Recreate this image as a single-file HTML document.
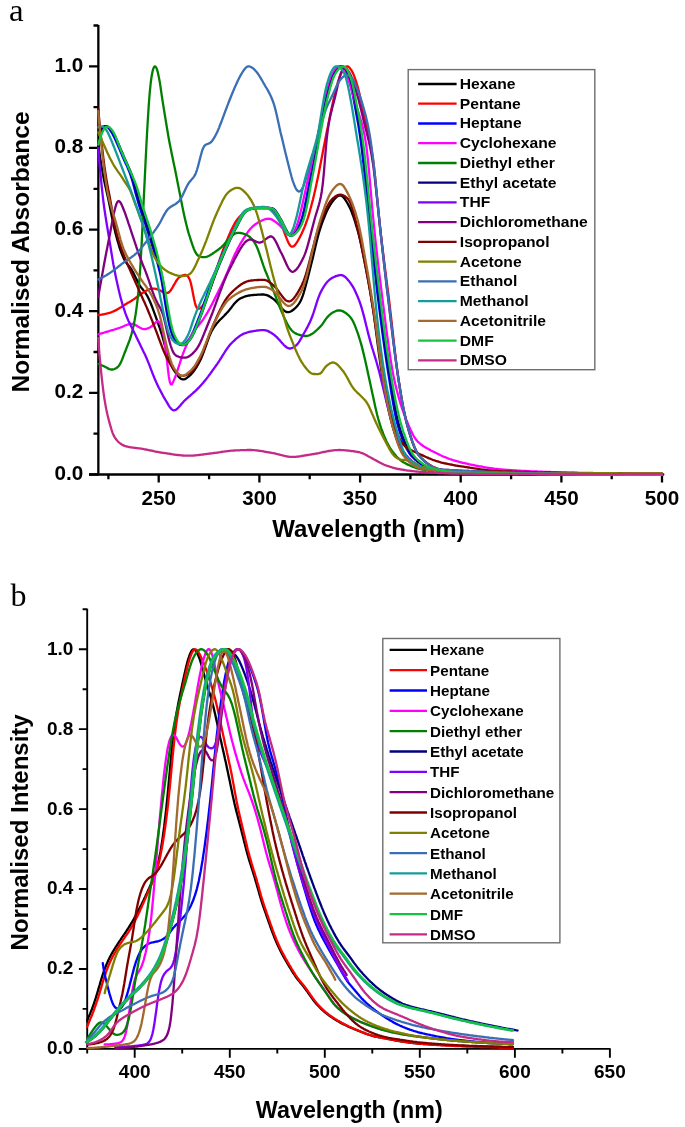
<!DOCTYPE html>
<html><head><meta charset="utf-8"><title>Absorbance and emission spectra</title>
<style>
html,body{margin:0;padding:0;background:#fff;}
svg{display:block}
text{font-family:"Liberation Sans",Arial,sans-serif;font-weight:bold;fill:#000}
.lab{font-family:"Liberation Serif","Times New Roman",serif;font-weight:normal}
.tla{font-size:19.5px}
.tlb{font-size:19px}
.ti{font-size:24px}
.lt{font-size:14px}
.lt2{font-size:15.2px}
.ax{fill:none;stroke:#000}
.axa{stroke-width:2.3}
.axb{stroke-width:1.9}
.cv path{fill:none;stroke-width:2.3;stroke-linejoin:round;stroke-linecap:round}
.lg{fill:#fff;stroke:#6e6e6e;stroke-width:1.4}
.ll{fill:none;stroke-width:2.3}
</style></head><body>
<svg width="685" height="1127" viewBox="0 0 685 1127">
<rect width="685" height="1127" fill="#fff"/>
<g id="pa">
<text class="lab" transform="translate(9.0,21.2) scale(1.08,1)" font-size="30.5">a</text>
<path class="ax axa" d="M98.35,25.0 V475.5 M89,474.5 H663"/>
<path class="ax axa" d="M89,474.5 H98.35 M89,392.9 H98.35 M89,311.2 H98.35 M89,229.6 H98.35 M89,147.9 H98.35 M89,66.3 H98.35 M93.5,433.7 H98.35 M93.5,352.0 H98.35 M93.5,270.4 H98.35 M93.5,188.8 H98.35 M93.5,107.1 H98.35 M93.5,25.5 H98.35 M158.7,474.5 V482.6 M259.4,474.5 V482.6 M360.1,474.5 V482.6 M460.7,474.5 V482.6 M561.4,474.5 V482.6 M662.0,474.5 V482.6 M108.4,474.5 V479.3 M209.1,474.5 V479.3 M309.7,474.5 V479.3 M410.4,474.5 V479.3 M511.1,474.5 V479.3 M611.7,474.5 V479.3"/>
<text class="tla" transform="translate(83.3,479.9) scale(1.06,1)" text-anchor="end">0.0</text>
<text class="tla" transform="translate(83.3,398.3) scale(1.06,1)" text-anchor="end">0.2</text>
<text class="tla" transform="translate(83.3,316.6) scale(1.06,1)" text-anchor="end">0.4</text>
<text class="tla" transform="translate(83.3,235.0) scale(1.06,1)" text-anchor="end">0.6</text>
<text class="tla" transform="translate(83.3,153.3) scale(1.06,1)" text-anchor="end">0.8</text>
<text class="tla" transform="translate(83.3,71.7) scale(1.06,1)" text-anchor="end">1.0</text>
<text class="tla" transform="translate(158.7,504.6) scale(1.06,1)" text-anchor="middle">250</text>
<text class="tla" transform="translate(259.4,504.6) scale(1.06,1)" text-anchor="middle">300</text>
<text class="tla" transform="translate(360.1,504.6) scale(1.06,1)" text-anchor="middle">350</text>
<text class="tla" transform="translate(460.7,504.6) scale(1.06,1)" text-anchor="middle">400</text>
<text class="tla" transform="translate(561.4,504.6) scale(1.06,1)" text-anchor="middle">450</text>
<text class="tla" transform="translate(662.0,504.6) scale(1.06,1)" text-anchor="middle">500</text>
<text class="ti" x="272.2" y="536.8">Wavelength (nm)</text>
<text class="ti" transform="translate(28.8,392.5) rotate(-90) scale(1.022,1)">Normalised Absorbance</text>
<g class="cv"><path d="M98.3,143.9 L99.4,152.6 L100.4,159.3 L101.4,165.5 L102.4,171.5 L103.4,176.8 L104.4,181.7 L105.4,186.2 L106.4,190.5 L107.4,194.9 L108.4,199.4 L109.4,204.3 L110.4,209.4 L111.4,214.5 L112.4,219.6 L113.4,224.5 L114.5,229.0 L115.5,233.2 L116.5,237.0 L117.5,240.6 L118.5,244.0 L119.5,247.3 L120.5,250.3 L121.5,253.1 L122.5,255.6 L123.5,257.9 L124.5,259.9 L125.5,261.6 L126.5,263.0 L127.5,264.3 L128.5,265.5 L129.6,266.8 L130.6,268.2 L131.6,269.7 L132.6,271.5 L133.6,273.4 L134.6,275.4 L135.6,277.5 L136.6,279.6 L137.6,281.6 L138.6,283.4 L139.6,285.1 L140.6,286.6 L141.6,288.0 L142.6,289.3 L143.6,290.6 L144.7,291.9 L145.7,293.4 L146.7,295.0 L147.7,296.7 L148.7,298.7 L149.7,300.9 L150.7,303.3 L151.7,305.8 L152.7,308.4 L153.7,311.1 L154.7,313.8 L155.7,316.6 L156.7,319.4 L157.7,322.3 L158.7,325.2 L159.8,328.2 L160.8,331.3 L161.8,334.5 L162.8,337.9 L163.8,341.4 L164.8,345.1 L165.8,348.8 L166.8,352.4 L167.8,355.7 L168.8,358.7 L169.8,361.4 L170.8,363.9 L171.8,366.2 L172.8,368.3 L173.8,370.1 L174.9,371.7 L175.9,373.2 L176.9,374.6 L177.9,375.9 L178.9,377.0 L179.9,378.0 L180.9,378.7 L181.9,379.2 L182.9,379.4 L183.9,379.4 L184.9,379.1 L185.9,378.6 L186.9,377.9 L187.9,377.1 L188.9,376.3 L190.0,375.4 L191.0,374.4 L192.0,373.3 L193.0,372.2 L194.0,370.9 L195.0,369.4 L196.0,367.9 L197.0,366.3 L198.0,364.5 L199.0,362.7 L200.0,360.8 L201.0,358.7 L202.0,356.4 L203.0,353.8 L204.0,351.1 L205.0,348.3 L206.1,345.3 L207.1,342.4 L208.1,339.6 L209.1,336.9 L210.1,334.5 L211.1,332.3 L212.1,330.3 L213.1,328.6 L214.1,327.1 L215.1,325.7 L216.1,324.4 L217.1,323.1 L218.1,322.0 L219.1,320.8 L220.1,319.8 L221.2,318.7 L222.2,317.7 L223.2,316.7 L224.2,315.7 L225.2,314.6 L226.2,313.6 L227.2,312.5 L228.2,311.4 L229.2,310.2 L230.2,308.9 L231.2,307.7 L232.2,306.4 L233.2,305.1 L234.2,303.8 L235.2,302.7 L236.3,301.6 L237.3,300.6 L238.3,299.8 L239.3,299.1 L240.3,298.5 L241.3,298.0 L242.3,297.6 L243.3,297.2 L244.3,296.8 L245.3,296.4 L246.3,296.1 L247.3,295.9 L248.3,295.7 L249.3,295.5 L250.3,295.3 L251.4,295.2 L252.4,295.1 L253.4,295.0 L254.4,294.9 L255.4,294.9 L256.4,294.8 L257.4,294.7 L258.4,294.7 L259.4,294.6 L260.4,294.6 L261.4,294.5 L262.4,294.5 L263.4,294.5 L264.4,294.6 L265.4,294.8 L266.5,295.0 L267.5,295.4 L268.5,295.9 L269.5,296.4 L270.5,297.0 L271.5,297.7 L272.5,298.4 L273.5,299.1 L274.5,299.9 L275.5,300.8 L276.5,301.9 L277.5,303.0 L278.5,304.3 L279.5,305.5 L280.5,306.8 L281.6,308.0 L282.6,309.1 L283.6,310.1 L284.6,310.9 L285.6,311.6 L286.6,312.0 L287.6,312.2 L288.6,312.1 L289.6,311.9 L290.6,311.5 L291.6,311.0 L292.6,310.3 L293.6,309.5 L294.6,308.7 L295.6,307.7 L296.7,306.6 L297.7,305.4 L298.7,304.1 L299.7,302.6 L300.7,300.8 L301.7,298.5 L302.7,295.9 L303.7,292.8 L304.7,289.4 L305.7,285.7 L306.7,281.9 L307.7,278.1 L308.7,274.2 L309.7,270.3 L310.7,266.3 L311.7,262.2 L312.8,258.0 L313.8,253.6 L314.8,249.2 L315.8,244.9 L316.8,240.8 L317.8,236.9 L318.8,233.2 L319.8,229.9 L320.8,226.8 L321.8,223.9 L322.8,221.2 L323.8,218.5 L324.8,216.0 L325.8,213.5 L326.8,211.3 L327.9,209.1 L328.9,207.2 L329.9,205.4 L330.9,203.8 L331.9,202.4 L332.9,201.0 L333.9,199.8 L334.9,198.6 L335.9,197.6 L336.9,196.7 L337.9,196.0 L338.9,195.5 L339.9,195.3 L340.9,195.5 L341.9,196.0 L343.0,196.8 L344.0,198.0 L345.0,199.3 L346.0,200.8 L347.0,202.5 L348.0,204.2 L349.0,206.1 L350.0,208.1 L351.0,210.3 L352.0,212.8 L353.0,215.5 L354.0,218.4 L355.0,221.5 L356.0,224.8 L357.0,228.2 L358.1,231.9 L359.1,235.8 L360.1,240.1 L361.1,244.6 L362.1,249.3 L363.1,254.2 L364.1,259.2 L365.1,264.3 L366.1,269.4 L367.1,274.6 L368.1,279.9 L369.1,285.3 L370.1,291.0 L371.1,297.0 L372.1,303.3 L373.2,310.1 L374.2,317.3 L375.2,324.8 L376.2,332.5 L377.2,340.3 L378.2,348.0 L379.2,355.6 L380.2,362.8 L381.2,369.6 L382.2,376.0 L383.2,382.1 L384.2,387.8 L385.2,393.4 L386.2,398.7 L387.2,403.8 L388.3,408.7 L389.3,413.3 L390.3,417.5 L391.3,421.5 L392.3,425.2 L393.3,428.7 L394.3,432.0 L395.3,435.2 L396.3,438.2 L397.3,441.1 L398.3,443.9 L399.3,446.4 L400.3,448.8 L401.3,450.9 L402.3,452.8 L403.3,454.5 L404.4,455.9 L405.4,457.2 L406.4,458.4 L407.4,459.5 L408.4,460.5 L409.4,461.5 L410.4,462.4 L411.4,463.3 L412.4,464.1 L413.4,464.9 L414.4,465.6 L415.4,466.2 L416.4,466.8 L417.4,467.2 L418.4,467.7 L419.5,468.0 L420.5,468.3 L421.5,468.6 L422.5,468.8 L423.5,469.0 L424.5,469.3 L425.5,469.5 L426.5,469.7 L427.5,469.9 L428.5,470.1 L429.5,470.3 L430.5,470.4 L431.5,470.6 L432.5,470.8 L433.5,470.9 L434.6,471.1 L435.6,471.2 L436.6,471.4 L437.6,471.5 L438.6,471.7 L439.6,471.8 L440.6,471.9 L441.6,472.0 L442.6,472.2 L443.6,472.3 L444.6,472.4 L445.6,472.5 L446.6,472.6 L447.6,472.6 L448.6,472.7 L449.7,472.8 L450.7,472.9 L451.7,472.9 L452.7,473.0 L453.7,473.0 L454.7,473.1 L455.7,473.1 L456.7,473.2 L457.7,473.2 L458.7,473.2 L459.7,473.3 L460.7,473.3 L461.7,473.3 L462.7,473.3 L463.7,473.3 L464.8,473.3 L465.8,473.3 L466.8,473.4 L467.8,473.4 L468.8,473.4 L469.8,473.4 L470.8,473.4 L471.8,473.4 L472.8,473.4 L473.8,473.5 L474.8,473.5 L475.8,473.5 L476.8,473.5 L477.8,473.5 L478.8,473.5 L479.9,473.5 L480.9,473.5 L481.9,473.6 L482.9,473.6 L483.9,473.6 L484.9,473.6 L485.9,473.6 L486.9,473.6 L487.9,473.6 L488.9,473.6 L489.9,473.7 L490.9,473.7 L491.9,473.7 L492.9,473.7 L493.9,473.7 L495.0,473.7 L496.0,473.7 L497.0,473.7 L498.0,473.7 L499.0,473.8 L500.0,473.8 L501.0,473.8 L502.0,473.8 L503.0,473.8 L504.0,473.8 L505.0,473.8 L506.0,473.8 L507.0,473.8 L508.0,473.8 L509.0,473.9 L510.0,473.9 L511.1,473.9 L512.1,473.9 L513.1,473.9 L514.1,473.9 L515.1,473.9 L516.1,473.9 L517.1,473.9 L518.1,473.9 L519.1,474.0 L520.1,474.0 L521.1,474.0 L522.1,474.0 L523.1,474.0 L524.1,474.0 L525.1,474.0 L526.2,474.0 L527.2,474.0 L528.2,474.0 L529.2,474.0 L530.2,474.0 L531.2,474.1 L532.2,474.1 L533.2,474.1 L534.2,474.1 L535.2,474.1 L536.2,474.1 L537.2,474.1 L538.2,474.1 L539.2,474.1 L540.2,474.1 L541.3,474.1 L542.3,474.1 L543.3,474.1 L544.3,474.1 L545.3,474.2 L546.3,474.2 L547.3,474.2 L548.3,474.2 L549.3,474.2 L550.3,474.2 L551.3,474.2 L552.3,474.2 L553.3,474.2 L554.3,474.2 L555.3,474.2 L556.4,474.2 L557.4,474.2 L558.4,474.2 L559.4,474.2 L560.4,474.2 L561.4,474.3 L562.4,474.3 L563.4,474.3 L564.4,474.3 L565.4,474.3 L566.4,474.3 L567.4,474.3 L568.4,474.3 L569.4,474.3 L570.4,474.3 L571.5,474.3 L572.5,474.3 L573.5,474.3 L574.5,474.3 L575.5,474.3 L576.5,474.3 L577.5,474.3 L578.5,474.3 L579.5,474.3 L580.5,474.3 L581.5,474.3 L582.5,474.4 L583.5,474.4 L584.5,474.4 L585.5,474.4 L586.6,474.4 L587.6,474.4 L588.6,474.4 L589.6,474.4 L590.6,474.4 L591.6,474.4 L592.6,474.4 L593.6,474.4 L594.6,474.4 L595.6,474.4 L596.6,474.4 L597.6,474.4 L598.6,474.4 L599.6,474.4 L600.6,474.4 L601.6,474.4 L602.7,474.4 L603.7,474.4 L604.7,474.4 L605.7,474.4 L606.7,474.4 L607.7,474.4 L608.7,474.4 L609.7,474.4 L610.7,474.4 L611.7,474.4 L612.7,474.4 L613.7,474.4 L614.7,474.5 L615.7,474.5 L616.7,474.5 L617.8,474.5 L618.8,474.5 L619.8,474.5 L620.8,474.5 L621.8,474.5 L622.8,474.5 L623.8,474.5 L624.8,474.5 L625.8,474.5 L626.8,474.5 L627.8,474.5 L628.8,474.5 L629.8,474.5 L630.8,474.5 L631.8,474.5 L632.9,474.5 L633.9,474.5 L634.9,474.5 L635.9,474.5 L636.9,474.5 L637.9,474.5 L638.9,474.5 L639.9,474.5 L640.9,474.5 L641.9,474.5 L642.9,474.5 L643.9,474.5 L644.9,474.5 L645.9,474.5 L646.9,474.5 L648.0,474.5 L649.0,474.5 L650.0,474.5 L651.0,474.5 L652.0,474.5 L653.0,474.5 L654.0,474.5 L655.0,474.5 L656.0,474.5 L657.0,474.5 L658.0,474.5 L659.0,474.5 L660.0,474.5 L661.0,474.5 L662.0,474.5" stroke="#000000"/>
<path d="M98.3,315.0 L99.4,314.9 L100.4,314.8 L101.4,314.7 L102.4,314.5 L103.4,314.3 L104.4,314.1 L105.4,313.9 L106.4,313.7 L107.4,313.4 L108.4,313.2 L109.4,312.9 L110.4,312.6 L111.4,312.2 L112.4,311.8 L113.4,311.4 L114.5,310.9 L115.5,310.4 L116.5,309.9 L117.5,309.3 L118.5,308.7 L119.5,308.1 L120.5,307.5 L121.5,306.9 L122.5,306.2 L123.5,305.6 L124.5,304.9 L125.5,304.3 L126.5,303.7 L127.5,303.1 L128.5,302.5 L129.6,301.9 L130.6,301.3 L131.6,300.7 L132.6,300.0 L133.6,299.4 L134.6,298.7 L135.6,298.0 L136.6,297.2 L137.6,296.5 L138.6,295.8 L139.6,295.0 L140.6,294.3 L141.6,293.6 L142.6,292.9 L143.6,292.3 L144.7,291.6 L145.7,291.0 L146.7,290.5 L147.7,290.0 L148.7,289.6 L149.7,289.2 L150.7,288.9 L151.7,288.7 L152.7,288.6 L153.7,288.6 L154.7,288.7 L155.7,288.9 L156.7,289.2 L157.7,289.5 L158.7,290.0 L159.8,290.4 L160.8,290.9 L161.8,291.4 L162.8,291.9 L163.8,292.4 L164.8,292.7 L165.8,292.9 L166.8,293.0 L167.8,292.9 L168.8,292.4 L169.8,291.5 L170.8,290.3 L171.8,288.7 L172.8,287.0 L173.8,285.1 L174.9,283.3 L175.9,281.5 L176.9,280.0 L177.9,278.7 L178.9,277.6 L179.9,276.9 L180.9,276.3 L181.9,275.8 L182.9,275.4 L183.9,275.1 L184.9,274.9 L185.9,275.0 L186.9,275.4 L187.9,276.3 L188.9,277.9 L190.0,280.3 L191.0,283.8 L192.0,288.4 L193.0,293.5 L194.0,298.7 L195.0,303.1 L196.0,306.3 L197.0,308.1 L198.0,308.8 L199.0,308.7 L200.0,308.2 L201.0,307.5 L202.0,306.5 L203.0,305.2 L204.0,303.6 L205.0,301.6 L206.1,299.4 L207.1,297.0 L208.1,294.4 L209.1,291.7 L210.1,289.0 L211.1,286.3 L212.1,283.5 L213.1,280.6 L214.1,277.6 L215.1,274.4 L216.1,271.2 L217.1,267.9 L218.1,264.6 L219.1,261.4 L220.1,258.3 L221.2,255.3 L222.2,252.4 L223.2,249.7 L224.2,247.2 L225.2,244.6 L226.2,242.1 L227.2,239.7 L228.2,237.3 L229.2,234.9 L230.2,232.6 L231.2,230.3 L232.2,228.2 L233.2,226.2 L234.2,224.3 L235.2,222.5 L236.3,220.9 L237.3,219.5 L238.3,218.2 L239.3,217.0 L240.3,216.0 L241.3,215.0 L242.3,214.1 L243.3,213.2 L244.3,212.3 L245.3,211.5 L246.3,210.8 L247.3,210.1 L248.3,209.5 L249.3,209.0 L250.3,208.6 L251.4,208.3 L252.4,208.1 L253.4,208.0 L254.4,207.9 L255.4,207.9 L256.4,207.9 L257.4,207.9 L258.4,207.9 L259.4,207.9 L260.4,207.9 L261.4,207.9 L262.4,207.9 L263.4,207.9 L264.4,207.9 L265.4,207.9 L266.5,207.9 L267.5,207.9 L268.5,208.0 L269.5,208.2 L270.5,208.5 L271.5,209.2 L272.5,210.1 L273.5,211.2 L274.5,212.6 L275.5,214.2 L276.5,215.9 L277.5,217.6 L278.5,219.3 L279.5,221.2 L280.5,223.2 L281.6,225.4 L282.6,227.8 L283.6,230.4 L284.6,233.1 L285.6,235.8 L286.6,238.4 L287.6,240.8 L288.6,243.0 L289.6,244.7 L290.6,245.9 L291.6,246.6 L292.6,246.7 L293.6,246.3 L294.6,245.4 L295.6,244.2 L296.7,242.6 L297.7,241.0 L298.7,239.2 L299.7,237.4 L300.7,235.5 L301.7,233.5 L302.7,231.3 L303.7,229.0 L304.7,226.6 L305.7,224.0 L306.7,221.2 L307.7,218.3 L308.7,215.1 L309.7,211.7 L310.7,208.0 L311.7,204.2 L312.8,200.1 L313.8,196.0 L314.8,191.7 L315.8,187.2 L316.8,182.6 L317.8,177.8 L318.8,172.9 L319.8,167.8 L320.8,162.6 L321.8,157.4 L322.8,152.2 L323.8,147.0 L324.8,141.9 L325.8,136.7 L326.8,131.6 L327.9,126.5 L328.9,121.5 L329.9,116.5 L330.9,111.7 L331.9,107.0 L332.9,102.5 L333.9,98.1 L334.9,93.8 L335.9,89.6 L336.9,85.7 L337.9,82.1 L338.9,79.0 L339.9,76.3 L340.9,73.9 L341.9,71.9 L343.0,70.1 L344.0,68.5 L345.0,67.3 L346.0,66.6 L347.0,66.3 L348.0,66.5 L349.0,67.2 L350.0,68.3 L351.0,69.7 L352.0,71.4 L353.0,73.3 L354.0,75.6 L355.0,78.3 L356.0,81.3 L357.0,84.6 L358.1,88.3 L359.1,92.3 L360.1,96.7 L361.1,101.5 L362.1,106.3 L363.1,111.2 L364.1,115.7 L365.1,120.0 L366.1,124.0 L367.1,128.0 L368.1,132.1 L369.1,136.6 L370.1,141.5 L371.1,147.1 L372.1,153.4 L373.2,160.7 L374.2,169.0 L375.2,178.3 L376.2,188.3 L377.2,198.6 L378.2,208.9 L379.2,218.9 L380.2,228.3 L381.2,237.3 L382.2,245.8 L383.2,253.9 L384.2,261.9 L385.2,269.8 L386.2,277.7 L387.2,285.6 L388.3,293.7 L389.3,302.0 L390.3,310.6 L391.3,319.4 L392.3,328.3 L393.3,337.3 L394.3,346.2 L395.3,354.8 L396.3,362.9 L397.3,370.6 L398.3,377.8 L399.3,384.5 L400.3,390.9 L401.3,396.9 L402.3,402.7 L403.3,408.1 L404.4,413.1 L405.4,417.7 L406.4,421.9 L407.4,425.8 L408.4,429.3 L409.4,432.7 L410.4,435.9 L411.4,438.9 L412.4,441.8 L413.4,444.5 L414.4,447.0 L415.4,449.3 L416.4,451.3 L417.4,453.1 L418.4,454.7 L419.5,456.0 L420.5,457.2 L421.5,458.3 L422.5,459.2 L423.5,460.1 L424.5,461.0 L425.5,461.8 L426.5,462.6 L427.5,463.4 L428.5,464.0 L429.5,464.7 L430.5,465.3 L431.5,465.9 L432.5,466.5 L433.5,467.0 L434.6,467.4 L435.6,467.9 L436.6,468.3 L437.6,468.6 L438.6,469.0 L439.6,469.3 L440.6,469.6 L441.6,469.8 L442.6,470.1 L443.6,470.3 L444.6,470.6 L445.6,470.8 L446.6,471.0 L447.6,471.2 L448.6,471.4 L449.7,471.6 L450.7,471.8 L451.7,472.0 L452.7,472.1 L453.7,472.3 L454.7,472.4 L455.7,472.5 L456.7,472.6 L457.7,472.7 L458.7,472.8 L459.7,472.8 L460.7,472.9 L461.7,472.9 L462.7,472.9 L463.7,472.9 L464.8,472.9 L465.8,473.0 L466.8,473.0 L467.8,473.0 L468.8,473.0 L469.8,473.0 L470.8,473.1 L471.8,473.1 L472.8,473.1 L473.8,473.1 L474.8,473.1 L475.8,473.2 L476.8,473.2 L477.8,473.2 L478.8,473.2 L479.9,473.2 L480.9,473.2 L481.9,473.3 L482.9,473.3 L483.9,473.3 L484.9,473.3 L485.9,473.3 L486.9,473.3 L487.9,473.4 L488.9,473.4 L489.9,473.4 L490.9,473.4 L491.9,473.4 L492.9,473.4 L493.9,473.5 L495.0,473.5 L496.0,473.5 L497.0,473.5 L498.0,473.5 L499.0,473.5 L500.0,473.5 L501.0,473.6 L502.0,473.6 L503.0,473.6 L504.0,473.6 L505.0,473.6 L506.0,473.6 L507.0,473.6 L508.0,473.7 L509.0,473.7 L510.0,473.7 L511.1,473.7 L512.1,473.7 L513.1,473.7 L514.1,473.7 L515.1,473.8 L516.1,473.8 L517.1,473.8 L518.1,473.8 L519.1,473.8 L520.1,473.8 L521.1,473.8 L522.1,473.8 L523.1,473.8 L524.1,473.9 L525.1,473.9 L526.2,473.9 L527.2,473.9 L528.2,473.9 L529.2,473.9 L530.2,473.9 L531.2,473.9 L532.2,473.9 L533.2,474.0 L534.2,474.0 L535.2,474.0 L536.2,474.0 L537.2,474.0 L538.2,474.0 L539.2,474.0 L540.2,474.0 L541.3,474.0 L542.3,474.0 L543.3,474.1 L544.3,474.1 L545.3,474.1 L546.3,474.1 L547.3,474.1 L548.3,474.1 L549.3,474.1 L550.3,474.1 L551.3,474.1 L552.3,474.1 L553.3,474.1 L554.3,474.1 L555.3,474.2 L556.4,474.2 L557.4,474.2 L558.4,474.2 L559.4,474.2 L560.4,474.2 L561.4,474.2 L562.4,474.2 L563.4,474.2 L564.4,474.2 L565.4,474.2 L566.4,474.2 L567.4,474.2 L568.4,474.2 L569.4,474.3 L570.4,474.3 L571.5,474.3 L572.5,474.3 L573.5,474.3 L574.5,474.3 L575.5,474.3 L576.5,474.3 L577.5,474.3 L578.5,474.3 L579.5,474.3 L580.5,474.3 L581.5,474.3 L582.5,474.3 L583.5,474.3 L584.5,474.3 L585.5,474.3 L586.6,474.3 L587.6,474.4 L588.6,474.4 L589.6,474.4 L590.6,474.4 L591.6,474.4 L592.6,474.4 L593.6,474.4 L594.6,474.4 L595.6,474.4 L596.6,474.4 L597.6,474.4 L598.6,474.4 L599.6,474.4 L600.6,474.4 L601.6,474.4 L602.7,474.4 L603.7,474.4 L604.7,474.4 L605.7,474.4 L606.7,474.4 L607.7,474.4 L608.7,474.4 L609.7,474.4 L610.7,474.4 L611.7,474.4 L612.7,474.4 L613.7,474.4 L614.7,474.4 L615.7,474.4 L616.7,474.5 L617.8,474.5 L618.8,474.5 L619.8,474.5 L620.8,474.5 L621.8,474.5 L622.8,474.5 L623.8,474.5 L624.8,474.5 L625.8,474.5 L626.8,474.5 L627.8,474.5 L628.8,474.5 L629.8,474.5 L630.8,474.5 L631.8,474.5 L632.9,474.5 L633.9,474.5 L634.9,474.5 L635.9,474.5 L636.9,474.5 L637.9,474.5 L638.9,474.5 L639.9,474.5 L640.9,474.5 L641.9,474.5 L642.9,474.5 L643.9,474.5 L644.9,474.5 L645.9,474.5 L646.9,474.5 L648.0,474.5 L649.0,474.5 L650.0,474.5 L651.0,474.5 L652.0,474.5 L653.0,474.5 L654.0,474.5 L655.0,474.5 L656.0,474.5 L657.0,474.5 L658.0,474.5 L659.0,474.5 L660.0,474.5 L661.0,474.5 L662.0,474.5" stroke="#ff0000"/>
<path d="M98.3,134.9 L99.4,132.2 L100.4,130.5 L101.4,128.9 L102.4,127.6 L103.4,126.6 L104.4,126.1 L105.4,126.1 L106.4,126.4 L107.4,127.1 L108.4,128.0 L109.4,129.1 L110.4,130.5 L111.4,132.0 L112.4,133.7 L113.4,135.6 L114.5,137.7 L115.5,139.9 L116.5,142.2 L117.5,144.5 L118.5,146.8 L119.5,149.1 L120.5,151.5 L121.5,153.8 L122.5,156.2 L123.5,158.5 L124.5,160.7 L125.5,162.9 L126.5,165.1 L127.5,167.4 L128.5,169.7 L129.6,172.3 L130.6,175.2 L131.6,178.3 L132.6,181.8 L133.6,185.5 L134.6,189.3 L135.6,193.1 L136.6,196.8 L137.6,200.3 L138.6,203.7 L139.6,206.9 L140.6,210.1 L141.6,213.2 L142.6,216.2 L143.6,219.2 L144.7,222.2 L145.7,225.2 L146.7,228.2 L147.7,231.3 L148.7,234.4 L149.7,237.6 L150.7,240.8 L151.7,244.0 L152.7,247.1 L153.7,250.3 L154.7,253.5 L155.7,256.8 L156.7,260.2 L157.7,263.8 L158.7,267.7 L159.8,271.9 L160.8,276.5 L161.8,281.8 L162.8,287.7 L163.8,294.1 L164.8,300.5 L165.8,306.7 L166.8,312.5 L167.8,317.9 L168.8,322.8 L169.8,327.0 L170.8,330.6 L171.8,333.7 L172.8,336.2 L173.8,338.2 L174.9,340.0 L175.9,341.3 L176.9,342.4 L177.9,343.3 L178.9,344.1 L179.9,344.6 L180.9,344.9 L181.9,345.0 L182.9,344.8 L183.9,344.3 L184.9,343.6 L185.9,342.8 L186.9,341.8 L187.9,340.7 L188.9,339.4 L190.0,337.9 L191.0,336.3 L192.0,334.3 L193.0,332.2 L194.0,329.9 L195.0,327.5 L196.0,325.0 L197.0,322.5 L198.0,320.0 L199.0,317.4 L200.0,314.8 L201.0,312.1 L202.0,309.3 L203.0,306.4 L204.0,303.5 L205.0,300.6 L206.1,297.6 L207.1,294.6 L208.1,291.7 L209.1,288.7 L210.1,285.8 L211.1,282.9 L212.1,280.2 L213.1,277.5 L214.1,274.8 L215.1,272.3 L216.1,269.7 L217.1,267.3 L218.1,264.8 L219.1,262.3 L220.1,259.9 L221.2,257.5 L222.2,255.1 L223.2,252.8 L224.2,250.4 L225.2,248.1 L226.2,245.9 L227.2,243.6 L228.2,241.5 L229.2,239.3 L230.2,237.2 L231.2,235.1 L232.2,233.1 L233.2,231.1 L234.2,229.1 L235.2,227.2 L236.3,225.3 L237.3,223.3 L238.3,221.3 L239.3,219.4 L240.3,217.5 L241.3,215.8 L242.3,214.3 L243.3,213.0 L244.3,212.0 L245.3,211.1 L246.3,210.5 L247.3,210.0 L248.3,209.6 L249.3,209.2 L250.3,208.9 L251.4,208.6 L252.4,208.4 L253.4,208.3 L254.4,208.1 L255.4,208.1 L256.4,208.0 L257.4,208.0 L258.4,208.0 L259.4,208.0 L260.4,208.0 L261.4,208.0 L262.4,208.0 L263.4,208.0 L264.4,208.0 L265.4,208.0 L266.5,208.0 L267.5,208.0 L268.5,208.0 L269.5,208.1 L270.5,208.2 L271.5,208.4 L272.5,209.0 L273.5,209.8 L274.5,211.0 L275.5,212.4 L276.5,214.0 L277.5,215.7 L278.5,217.4 L279.5,219.1 L280.5,220.9 L281.6,222.9 L282.6,224.9 L283.6,226.9 L284.6,229.0 L285.6,230.9 L286.6,232.6 L287.6,234.0 L288.6,235.0 L289.6,235.5 L290.6,235.6 L291.6,235.2 L292.6,234.5 L293.6,233.6 L294.6,232.4 L295.6,231.2 L296.7,229.7 L297.7,228.1 L298.7,226.2 L299.7,224.0 L300.7,221.5 L301.7,218.6 L302.7,215.1 L303.7,211.1 L304.7,206.6 L305.7,201.6 L306.7,196.4 L307.7,191.0 L308.7,185.6 L309.7,180.3 L310.7,174.9 L311.7,169.5 L312.8,164.1 L313.8,158.6 L314.8,153.0 L315.8,147.5 L316.8,142.0 L317.8,136.6 L318.8,131.2 L319.8,125.9 L320.8,120.7 L321.8,115.5 L322.8,110.4 L323.8,105.6 L324.8,101.0 L325.8,96.8 L326.8,92.7 L327.9,88.9 L328.9,85.3 L329.9,82.0 L330.9,79.0 L331.9,76.5 L332.9,74.4 L333.9,72.7 L334.9,71.2 L335.9,69.9 L336.9,68.7 L337.9,67.8 L338.9,67.0 L339.9,66.5 L340.9,66.3 L341.9,66.5 L343.0,67.2 L344.0,68.2 L345.0,69.7 L346.0,71.5 L347.0,73.6 L348.0,76.0 L349.0,78.8 L350.0,82.2 L351.0,86.2 L352.0,90.8 L353.0,95.9 L354.0,101.2 L355.0,106.6 L356.0,112.1 L357.0,117.8 L358.1,123.6 L359.1,129.9 L360.1,136.6 L361.1,143.9 L362.1,151.9 L363.1,160.6 L364.1,169.9 L365.1,179.6 L366.1,189.6 L367.1,199.6 L368.1,209.6 L369.1,219.4 L370.1,229.0 L371.1,238.3 L372.1,247.5 L373.2,256.6 L374.2,265.6 L375.2,274.4 L376.2,283.1 L377.2,291.5 L378.2,299.7 L379.2,307.8 L380.2,315.7 L381.2,323.4 L382.2,331.0 L383.2,338.5 L384.2,345.8 L385.2,352.9 L386.2,359.9 L387.2,366.6 L388.3,373.2 L389.3,379.6 L390.3,385.9 L391.3,392.2 L392.3,398.2 L393.3,404.1 L394.3,409.6 L395.3,414.7 L396.3,419.3 L397.3,423.4 L398.3,427.0 L399.3,430.3 L400.3,433.3 L401.3,436.2 L402.3,438.9 L403.3,441.4 L404.4,443.8 L405.4,446.0 L406.4,448.1 L407.4,450.0 L408.4,451.7 L409.4,453.3 L410.4,454.7 L411.4,455.9 L412.4,457.0 L413.4,458.0 L414.4,459.0 L415.4,459.9 L416.4,460.7 L417.4,461.5 L418.4,462.3 L419.5,463.0 L420.5,463.7 L421.5,464.4 L422.5,465.0 L423.5,465.5 L424.5,466.0 L425.5,466.5 L426.5,467.0 L427.5,467.4 L428.5,467.7 L429.5,468.0 L430.5,468.3 L431.5,468.6 L432.5,468.9 L433.5,469.1 L434.6,469.3 L435.6,469.6 L436.6,469.8 L437.6,470.0 L438.6,470.2 L439.6,470.4 L440.6,470.6 L441.6,470.8 L442.6,471.0 L443.6,471.2 L444.6,471.3 L445.6,471.5 L446.6,471.6 L447.6,471.8 L448.6,471.9 L449.7,472.0 L450.7,472.2 L451.7,472.3 L452.7,472.4 L453.7,472.5 L454.7,472.6 L455.7,472.6 L456.7,472.7 L457.7,472.7 L458.7,472.8 L459.7,472.8 L460.7,472.9 L461.7,472.9 L462.7,472.9 L463.7,472.9 L464.8,472.9 L465.8,473.0 L466.8,473.0 L467.8,473.0 L468.8,473.0 L469.8,473.0 L470.8,473.1 L471.8,473.1 L472.8,473.1 L473.8,473.1 L474.8,473.1 L475.8,473.1 L476.8,473.2 L477.8,473.2 L478.8,473.2 L479.9,473.2 L480.9,473.2 L481.9,473.3 L482.9,473.3 L483.9,473.3 L484.9,473.3 L485.9,473.3 L486.9,473.3 L487.9,473.3 L488.9,473.4 L489.9,473.4 L490.9,473.4 L491.9,473.4 L492.9,473.4 L493.9,473.4 L495.0,473.5 L496.0,473.5 L497.0,473.5 L498.0,473.5 L499.0,473.5 L500.0,473.5 L501.0,473.5 L502.0,473.6 L503.0,473.6 L504.0,473.6 L505.0,473.6 L506.0,473.6 L507.0,473.6 L508.0,473.6 L509.0,473.7 L510.0,473.7 L511.1,473.7 L512.1,473.7 L513.1,473.7 L514.1,473.7 L515.1,473.7 L516.1,473.7 L517.1,473.8 L518.1,473.8 L519.1,473.8 L520.1,473.8 L521.1,473.8 L522.1,473.8 L523.1,473.8 L524.1,473.8 L525.1,473.8 L526.2,473.9 L527.2,473.9 L528.2,473.9 L529.2,473.9 L530.2,473.9 L531.2,473.9 L532.2,473.9 L533.2,473.9 L534.2,473.9 L535.2,474.0 L536.2,474.0 L537.2,474.0 L538.2,474.0 L539.2,474.0 L540.2,474.0 L541.3,474.0 L542.3,474.0 L543.3,474.0 L544.3,474.0 L545.3,474.1 L546.3,474.1 L547.3,474.1 L548.3,474.1 L549.3,474.1 L550.3,474.1 L551.3,474.1 L552.3,474.1 L553.3,474.1 L554.3,474.1 L555.3,474.1 L556.4,474.1 L557.4,474.1 L558.4,474.2 L559.4,474.2 L560.4,474.2 L561.4,474.2 L562.4,474.2 L563.4,474.2 L564.4,474.2 L565.4,474.2 L566.4,474.2 L567.4,474.2 L568.4,474.2 L569.4,474.2 L570.4,474.2 L571.5,474.2 L572.5,474.3 L573.5,474.3 L574.5,474.3 L575.5,474.3 L576.5,474.3 L577.5,474.3 L578.5,474.3 L579.5,474.3 L580.5,474.3 L581.5,474.3 L582.5,474.3 L583.5,474.3 L584.5,474.3 L585.5,474.3 L586.6,474.3 L587.6,474.3 L588.6,474.3 L589.6,474.3 L590.6,474.4 L591.6,474.4 L592.6,474.4 L593.6,474.4 L594.6,474.4 L595.6,474.4 L596.6,474.4 L597.6,474.4 L598.6,474.4 L599.6,474.4 L600.6,474.4 L601.6,474.4 L602.7,474.4 L603.7,474.4 L604.7,474.4 L605.7,474.4 L606.7,474.4 L607.7,474.4 L608.7,474.4 L609.7,474.4 L610.7,474.4 L611.7,474.4 L612.7,474.4 L613.7,474.4 L614.7,474.4 L615.7,474.4 L616.7,474.4 L617.8,474.4 L618.8,474.5 L619.8,474.5 L620.8,474.5 L621.8,474.5 L622.8,474.5 L623.8,474.5 L624.8,474.5 L625.8,474.5 L626.8,474.5 L627.8,474.5 L628.8,474.5 L629.8,474.5 L630.8,474.5 L631.8,474.5 L632.9,474.5 L633.9,474.5 L634.9,474.5 L635.9,474.5 L636.9,474.5 L637.9,474.5 L638.9,474.5 L639.9,474.5 L640.9,474.5 L641.9,474.5 L642.9,474.5 L643.9,474.5 L644.9,474.5 L645.9,474.5 L646.9,474.5 L648.0,474.5 L649.0,474.5 L650.0,474.5 L651.0,474.5 L652.0,474.5 L653.0,474.5 L654.0,474.5 L655.0,474.5 L656.0,474.5 L657.0,474.5 L658.0,474.5 L659.0,474.5 L660.0,474.5 L661.0,474.5 L662.0,474.5" stroke="#0000ff"/>
<path d="M98.3,334.3 L99.4,333.9 L100.4,333.7 L101.4,333.4 L102.4,333.1 L103.4,332.8 L104.4,332.5 L105.4,332.2 L106.4,331.9 L107.4,331.6 L108.4,331.3 L109.4,331.0 L110.4,330.7 L111.4,330.4 L112.4,330.1 L113.4,329.8 L114.5,329.5 L115.5,329.1 L116.5,328.8 L117.5,328.5 L118.5,328.2 L119.5,327.8 L120.5,327.5 L121.5,327.1 L122.5,326.7 L123.5,326.2 L124.5,325.8 L125.5,325.4 L126.5,325.0 L127.5,324.7 L128.5,324.4 L129.6,324.1 L130.6,323.9 L131.6,323.9 L132.6,323.9 L133.6,324.2 L134.6,324.6 L135.6,325.1 L136.6,325.7 L137.6,326.3 L138.6,326.9 L139.6,327.5 L140.6,328.0 L141.6,328.5 L142.6,328.9 L143.6,329.1 L144.7,329.1 L145.7,329.0 L146.7,328.8 L147.7,328.4 L148.7,328.0 L149.7,327.5 L150.7,326.9 L151.7,326.2 L152.7,325.4 L153.7,324.6 L154.7,323.6 L155.7,322.5 L156.7,321.6 L157.7,321.2 L158.7,321.5 L159.8,322.7 L160.8,324.8 L161.8,327.9 L162.8,331.8 L163.8,336.6 L164.8,342.5 L165.8,350.0 L166.8,358.9 L167.8,368.2 L168.8,376.4 L169.8,381.9 L170.8,384.3 L171.8,384.3 L172.8,382.7 L173.8,380.4 L174.9,377.8 L175.9,375.1 L176.9,372.2 L177.9,369.2 L178.9,366.1 L179.9,363.0 L180.9,359.9 L181.9,356.9 L182.9,354.0 L183.9,351.4 L184.9,348.9 L185.9,346.5 L186.9,344.2 L187.9,342.0 L188.9,340.0 L190.0,338.0 L191.0,336.1 L192.0,334.3 L193.0,332.6 L194.0,331.1 L195.0,329.7 L196.0,328.4 L197.0,327.1 L198.0,325.9 L199.0,324.8 L200.0,323.6 L201.0,322.3 L202.0,321.0 L203.0,319.6 L204.0,318.1 L205.0,316.5 L206.1,314.8 L207.1,313.2 L208.1,311.4 L209.1,309.6 L210.1,307.8 L211.1,305.9 L212.1,304.0 L213.1,302.0 L214.1,300.1 L215.1,298.1 L216.1,296.0 L217.1,294.0 L218.1,292.0 L219.1,289.9 L220.1,287.8 L221.2,285.7 L222.2,283.6 L223.2,281.5 L224.2,279.4 L225.2,277.2 L226.2,274.9 L227.2,272.6 L228.2,270.2 L229.2,267.8 L230.2,265.4 L231.2,263.0 L232.2,260.5 L233.2,258.2 L234.2,255.8 L235.2,253.6 L236.3,251.5 L237.3,249.4 L238.3,247.5 L239.3,245.7 L240.3,243.9 L241.3,242.2 L242.3,240.6 L243.3,238.9 L244.3,237.3 L245.3,235.8 L246.3,234.2 L247.3,232.8 L248.3,231.4 L249.3,230.1 L250.3,228.9 L251.4,227.8 L252.4,226.7 L253.4,225.8 L254.4,225.0 L255.4,224.3 L256.4,223.6 L257.4,223.0 L258.4,222.3 L259.4,221.8 L260.4,221.2 L261.4,220.7 L262.4,220.2 L263.4,219.8 L264.4,219.5 L265.4,219.2 L266.5,218.9 L267.5,218.8 L268.5,218.7 L269.5,218.8 L270.5,219.0 L271.5,219.4 L272.5,219.9 L273.5,220.5 L274.5,221.2 L275.5,221.9 L276.5,222.7 L277.5,223.5 L278.5,224.4 L279.5,225.2 L280.5,226.1 L281.6,227.2 L282.6,228.3 L283.6,229.4 L284.6,230.6 L285.6,231.7 L286.6,232.8 L287.6,233.7 L288.6,234.3 L289.6,234.7 L290.6,234.7 L291.6,234.4 L292.6,233.5 L293.6,232.3 L294.6,230.6 L295.6,228.5 L296.7,225.9 L297.7,222.9 L298.7,219.5 L299.7,215.8 L300.7,211.8 L301.7,207.6 L302.7,203.2 L303.7,198.6 L304.7,194.0 L305.7,189.4 L306.7,184.8 L307.7,180.3 L308.7,176.0 L309.7,171.7 L310.7,167.4 L311.7,163.2 L312.8,159.0 L313.8,154.7 L314.8,150.3 L315.8,145.9 L316.8,141.3 L317.8,136.5 L318.8,131.6 L319.8,126.6 L320.8,121.6 L321.8,116.7 L322.8,111.8 L323.8,107.1 L324.8,102.6 L325.8,98.1 L326.8,93.8 L327.9,89.5 L328.9,85.5 L329.9,81.8 L330.9,78.6 L331.9,75.8 L332.9,73.5 L333.9,71.6 L334.9,69.9 L335.9,68.5 L336.9,67.4 L337.9,66.6 L338.9,66.3 L339.9,66.4 L340.9,67.0 L341.9,67.9 L343.0,69.1 L344.0,70.6 L345.0,72.3 L346.0,74.2 L347.0,76.3 L348.0,78.7 L349.0,81.4 L350.0,84.5 L351.0,87.9 L352.0,91.5 L353.0,95.1 L354.0,98.7 L355.0,102.2 L356.0,105.5 L357.0,108.7 L358.1,111.7 L359.1,114.7 L360.1,117.8 L361.1,121.1 L362.1,124.6 L363.1,128.5 L364.1,132.9 L365.1,138.1 L366.1,144.4 L367.1,152.2 L368.1,161.4 L369.1,171.9 L370.1,183.3 L371.1,195.0 L372.1,206.6 L373.2,217.8 L374.2,228.2 L375.2,237.9 L376.2,247.1 L377.2,255.9 L378.2,264.4 L379.2,272.8 L380.2,280.9 L381.2,288.9 L382.2,296.8 L383.2,304.6 L384.2,312.5 L385.2,320.3 L386.2,328.1 L387.2,335.8 L388.3,343.3 L389.3,350.5 L390.3,357.3 L391.3,363.7 L392.3,369.6 L393.3,374.9 L394.3,379.7 L395.3,384.2 L396.3,388.3 L397.3,392.2 L398.3,395.9 L399.3,399.5 L400.3,402.8 L401.3,406.1 L402.3,409.1 L403.3,412.0 L404.4,414.8 L405.4,417.5 L406.4,420.1 L407.4,422.5 L408.4,424.9 L409.4,427.2 L410.4,429.4 L411.4,431.5 L412.4,433.6 L413.4,435.5 L414.4,437.2 L415.4,438.7 L416.4,440.0 L417.4,441.2 L418.4,442.2 L419.5,443.1 L420.5,444.0 L421.5,444.8 L422.5,445.5 L423.5,446.2 L424.5,446.8 L425.5,447.4 L426.5,448.0 L427.5,448.5 L428.5,449.1 L429.5,449.6 L430.5,450.2 L431.5,450.7 L432.5,451.2 L433.5,451.8 L434.6,452.3 L435.6,452.8 L436.6,453.3 L437.6,453.8 L438.6,454.3 L439.6,454.8 L440.6,455.3 L441.6,455.7 L442.6,456.2 L443.6,456.6 L444.6,457.0 L445.6,457.4 L446.6,457.8 L447.6,458.2 L448.6,458.6 L449.7,459.0 L450.7,459.3 L451.7,459.6 L452.7,460.0 L453.7,460.3 L454.7,460.6 L455.7,460.9 L456.7,461.2 L457.7,461.4 L458.7,461.7 L459.7,462.0 L460.7,462.3 L461.7,462.5 L462.7,462.8 L463.7,463.0 L464.8,463.2 L465.8,463.5 L466.8,463.7 L467.8,463.9 L468.8,464.2 L469.8,464.4 L470.8,464.6 L471.8,464.8 L472.8,465.0 L473.8,465.2 L474.8,465.4 L475.8,465.6 L476.8,465.8 L477.8,466.0 L478.8,466.2 L479.9,466.3 L480.9,466.5 L481.9,466.7 L482.9,466.9 L483.9,467.1 L484.9,467.3 L485.9,467.4 L486.9,467.6 L487.9,467.8 L488.9,467.9 L489.9,468.1 L490.9,468.2 L491.9,468.4 L492.9,468.5 L493.9,468.6 L495.0,468.8 L496.0,468.9 L497.0,469.0 L498.0,469.1 L499.0,469.2 L500.0,469.3 L501.0,469.4 L502.0,469.5 L503.0,469.6 L504.0,469.6 L505.0,469.7 L506.0,469.8 L507.0,469.9 L508.0,470.0 L509.0,470.0 L510.0,470.1 L511.1,470.2 L512.1,470.2 L513.1,470.3 L514.1,470.4 L515.1,470.4 L516.1,470.5 L517.1,470.6 L518.1,470.6 L519.1,470.7 L520.1,470.7 L521.1,470.8 L522.1,470.8 L523.1,470.9 L524.1,470.9 L525.1,471.0 L526.2,471.0 L527.2,471.1 L528.2,471.1 L529.2,471.2 L530.2,471.2 L531.2,471.3 L532.2,471.3 L533.2,471.4 L534.2,471.4 L535.2,471.4 L536.2,471.5 L537.2,471.5 L538.2,471.6 L539.2,471.6 L540.2,471.7 L541.3,471.7 L542.3,471.7 L543.3,471.8 L544.3,471.8 L545.3,471.9 L546.3,471.9 L547.3,471.9 L548.3,472.0 L549.3,472.0 L550.3,472.0 L551.3,472.1 L552.3,472.1 L553.3,472.1 L554.3,472.2 L555.3,472.2 L556.4,472.2 L557.4,472.3 L558.4,472.3 L559.4,472.3 L560.4,472.4 L561.4,472.4 L562.4,472.4 L563.4,472.5 L564.4,472.5 L565.4,472.5 L566.4,472.5 L567.4,472.6 L568.4,472.6 L569.4,472.6 L570.4,472.6 L571.5,472.7 L572.5,472.7 L573.5,472.7 L574.5,472.7 L575.5,472.8 L576.5,472.8 L577.5,472.8 L578.5,472.8 L579.5,472.8 L580.5,472.8 L581.5,472.9 L582.5,472.9 L583.5,472.9 L584.5,472.9 L585.5,472.9 L586.6,472.9 L587.6,473.0 L588.6,473.0 L589.6,473.0 L590.6,473.0 L591.6,473.0 L592.6,473.0 L593.6,473.1 L594.6,473.1 L595.6,473.1 L596.6,473.1 L597.6,473.1 L598.6,473.1 L599.6,473.1 L600.6,473.2 L601.6,473.2 L602.7,473.2 L603.7,473.2 L604.7,473.2 L605.7,473.2 L606.7,473.2 L607.7,473.3 L608.7,473.3 L609.7,473.3 L610.7,473.3 L611.7,473.3 L612.7,473.3 L613.7,473.3 L614.7,473.4 L615.7,473.4 L616.7,473.4 L617.8,473.4 L618.8,473.4 L619.8,473.4 L620.8,473.4 L621.8,473.4 L622.8,473.4 L623.8,473.5 L624.8,473.5 L625.8,473.5 L626.8,473.5 L627.8,473.5 L628.8,473.5 L629.8,473.5 L630.8,473.5 L631.8,473.5 L632.9,473.5 L633.9,473.6 L634.9,473.6 L635.9,473.6 L636.9,473.6 L637.9,473.6 L638.9,473.6 L639.9,473.6 L640.9,473.6 L641.9,473.6 L642.9,473.6 L643.9,473.6 L644.9,473.6 L645.9,473.6 L646.9,473.6 L648.0,473.6 L649.0,473.7 L650.0,473.7 L651.0,473.7 L652.0,473.7 L653.0,473.7 L654.0,473.7 L655.0,473.7 L656.0,473.7 L657.0,473.7 L658.0,473.7 L659.0,473.7 L660.0,473.7 L661.0,473.7 L662.0,473.7" stroke="#ff00ff"/>
<path d="M98.3,364.0 L99.4,364.5 L100.4,364.8 L101.4,365.2 L102.4,365.6 L103.4,366.0 L104.4,366.5 L105.4,367.0 L106.4,367.5 L107.4,368.1 L108.4,368.6 L109.4,369.1 L110.4,369.4 L111.4,369.5 L112.4,369.5 L113.4,369.3 L114.5,369.0 L115.5,368.5 L116.5,368.0 L117.5,367.2 L118.5,366.2 L119.5,364.9 L120.5,363.1 L121.5,360.9 L122.5,358.5 L123.5,355.9 L124.5,353.2 L125.5,350.7 L126.5,348.1 L127.5,345.6 L128.5,343.0 L129.6,340.2 L130.6,337.2 L131.6,333.8 L132.6,330.0 L133.6,325.5 L134.6,320.4 L135.6,314.4 L136.6,307.4 L137.6,299.3 L138.6,289.5 L139.6,277.6 L140.6,262.7 L141.6,244.7 L142.6,223.9 L143.6,201.9 L144.7,179.9 L145.7,159.0 L146.7,139.5 L147.7,121.7 L148.7,106.0 L149.7,93.0 L150.7,83.0 L151.7,75.7 L152.7,70.7 L153.7,67.6 L154.7,66.3 L155.7,66.7 L156.7,68.5 L157.7,71.8 L158.7,76.4 L159.8,82.2 L160.8,88.9 L161.8,95.8 L162.8,102.4 L163.8,108.6 L164.8,114.7 L165.8,120.9 L166.8,127.0 L167.8,133.0 L168.8,138.7 L169.8,144.0 L170.8,149.0 L171.8,153.9 L172.8,158.8 L173.8,163.7 L174.9,168.7 L175.9,173.8 L176.9,178.9 L177.9,184.0 L178.9,189.1 L179.9,194.1 L180.9,199.2 L181.9,204.3 L182.9,209.2 L183.9,213.9 L184.9,218.5 L185.9,222.8 L186.9,226.8 L187.9,230.6 L188.9,234.1 L190.0,237.4 L191.0,240.6 L192.0,243.6 L193.0,246.5 L194.0,249.1 L195.0,251.4 L196.0,253.3 L197.0,254.6 L198.0,255.6 L199.0,256.2 L200.0,256.6 L201.0,256.9 L202.0,257.1 L203.0,257.1 L204.0,257.2 L205.0,257.1 L206.1,256.9 L207.1,256.6 L208.1,256.2 L209.1,255.8 L210.1,255.2 L211.1,254.6 L212.1,254.0 L213.1,253.3 L214.1,252.6 L215.1,251.9 L216.1,251.2 L217.1,250.5 L218.1,249.8 L219.1,249.0 L220.1,248.2 L221.2,247.4 L222.2,246.4 L223.2,245.4 L224.2,244.3 L225.2,243.1 L226.2,242.0 L227.2,240.8 L228.2,239.6 L229.2,238.5 L230.2,237.4 L231.2,236.4 L232.2,235.5 L233.2,234.7 L234.2,234.0 L235.2,233.5 L236.3,233.1 L237.3,232.9 L238.3,232.8 L239.3,232.8 L240.3,233.0 L241.3,233.2 L242.3,233.4 L243.3,233.7 L244.3,234.0 L245.3,234.4 L246.3,234.9 L247.3,235.3 L248.3,235.9 L249.3,236.7 L250.3,237.5 L251.4,238.5 L252.4,239.7 L253.4,241.0 L254.4,242.4 L255.4,244.1 L256.4,246.0 L257.4,248.3 L258.4,250.8 L259.4,253.7 L260.4,256.6 L261.4,259.7 L262.4,262.7 L263.4,265.6 L264.4,268.3 L265.4,271.0 L266.5,273.5 L267.5,276.1 L268.5,278.6 L269.5,281.0 L270.5,283.5 L271.5,286.0 L272.5,288.4 L273.5,290.9 L274.5,293.5 L275.5,296.0 L276.5,298.6 L277.5,301.3 L278.5,303.9 L279.5,306.5 L280.5,309.1 L281.6,311.5 L282.6,313.9 L283.6,316.2 L284.6,318.4 L285.6,320.4 L286.6,322.4 L287.6,324.3 L288.6,326.1 L289.6,327.7 L290.6,329.1 L291.6,330.3 L292.6,331.3 L293.6,332.1 L294.6,332.8 L295.6,333.4 L296.7,333.9 L297.7,334.3 L298.7,334.6 L299.7,335.0 L300.7,335.2 L301.7,335.5 L302.7,335.7 L303.7,335.8 L304.7,336.0 L305.7,336.0 L306.7,336.0 L307.7,335.8 L308.7,335.5 L309.7,335.1 L310.7,334.6 L311.7,334.0 L312.8,333.4 L313.8,332.6 L314.8,331.8 L315.8,330.9 L316.8,330.0 L317.8,329.1 L318.8,328.1 L319.8,327.2 L320.8,326.1 L321.8,324.9 L322.8,323.6 L323.8,322.2 L324.8,320.7 L325.8,319.2 L326.8,317.8 L327.9,316.6 L328.9,315.5 L329.9,314.6 L330.9,313.8 L331.9,313.1 L332.9,312.5 L333.9,311.9 L334.9,311.5 L335.9,311.0 L336.9,310.7 L337.9,310.5 L338.9,310.4 L339.9,310.5 L340.9,310.6 L341.9,310.9 L343.0,311.4 L344.0,311.9 L345.0,312.5 L346.0,313.2 L347.0,314.0 L348.0,314.8 L349.0,315.8 L350.0,316.8 L351.0,318.1 L352.0,319.5 L353.0,321.3 L354.0,323.4 L355.0,325.8 L356.0,328.4 L357.0,331.2 L358.1,334.2 L359.1,337.3 L360.1,340.5 L361.1,343.9 L362.1,347.6 L363.1,351.6 L364.1,355.7 L365.1,360.1 L366.1,364.6 L367.1,369.1 L368.1,373.7 L369.1,378.2 L370.1,382.8 L371.1,387.5 L372.1,392.2 L373.2,397.0 L374.2,401.8 L375.2,406.4 L376.2,410.8 L377.2,415.0 L378.2,418.8 L379.2,422.2 L380.2,425.3 L381.2,428.3 L382.2,431.0 L383.2,433.7 L384.2,436.2 L385.2,438.5 L386.2,440.8 L387.2,442.9 L388.3,444.8 L389.3,446.6 L390.3,448.3 L391.3,449.8 L392.3,451.3 L393.3,452.6 L394.3,453.8 L395.3,455.0 L396.3,456.2 L397.3,457.2 L398.3,458.2 L399.3,459.1 L400.3,460.0 L401.3,460.8 L402.3,461.5 L403.3,462.2 L404.4,462.8 L405.4,463.3 L406.4,463.9 L407.4,464.4 L408.4,464.9 L409.4,465.3 L410.4,465.8 L411.4,466.2 L412.4,466.6 L413.4,467.0 L414.4,467.4 L415.4,467.7 L416.4,468.1 L417.4,468.4 L418.4,468.6 L419.5,468.9 L420.5,469.1 L421.5,469.3 L422.5,469.5 L423.5,469.7 L424.5,469.9 L425.5,470.0 L426.5,470.2 L427.5,470.3 L428.5,470.5 L429.5,470.6 L430.5,470.8 L431.5,470.9 L432.5,471.1 L433.5,471.2 L434.6,471.3 L435.6,471.4 L436.6,471.6 L437.6,471.7 L438.6,471.8 L439.6,471.9 L440.6,472.0 L441.6,472.1 L442.6,472.2 L443.6,472.3 L444.6,472.4 L445.6,472.5 L446.6,472.6 L447.6,472.7 L448.6,472.7 L449.7,472.8 L450.7,472.9 L451.7,472.9 L452.7,473.0 L453.7,473.0 L454.7,473.1 L455.7,473.1 L456.7,473.2 L457.7,473.2 L458.7,473.2 L459.7,473.2 L460.7,473.3 L461.7,473.3 L462.7,473.3 L463.7,473.3 L464.8,473.3 L465.8,473.3 L466.8,473.4 L467.8,473.4 L468.8,473.4 L469.8,473.4 L470.8,473.4 L471.8,473.4 L472.8,473.4 L473.8,473.4 L474.8,473.5 L475.8,473.5 L476.8,473.5 L477.8,473.5 L478.8,473.5 L479.9,473.5 L480.9,473.5 L481.9,473.5 L482.9,473.6 L483.9,473.6 L484.9,473.6 L485.9,473.6 L486.9,473.6 L487.9,473.6 L488.9,473.6 L489.9,473.6 L490.9,473.7 L491.9,473.7 L492.9,473.7 L493.9,473.7 L495.0,473.7 L496.0,473.7 L497.0,473.7 L498.0,473.7 L499.0,473.7 L500.0,473.8 L501.0,473.8 L502.0,473.8 L503.0,473.8 L504.0,473.8 L505.0,473.8 L506.0,473.8 L507.0,473.8 L508.0,473.8 L509.0,473.8 L510.0,473.9 L511.1,473.9 L512.1,473.9 L513.1,473.9 L514.1,473.9 L515.1,473.9 L516.1,473.9 L517.1,473.9 L518.1,473.9 L519.1,473.9 L520.1,474.0 L521.1,474.0 L522.1,474.0 L523.1,474.0 L524.1,474.0 L525.1,474.0 L526.2,474.0 L527.2,474.0 L528.2,474.0 L529.2,474.0 L530.2,474.0 L531.2,474.0 L532.2,474.1 L533.2,474.1 L534.2,474.1 L535.2,474.1 L536.2,474.1 L537.2,474.1 L538.2,474.1 L539.2,474.1 L540.2,474.1 L541.3,474.1 L542.3,474.1 L543.3,474.1 L544.3,474.1 L545.3,474.1 L546.3,474.2 L547.3,474.2 L548.3,474.2 L549.3,474.2 L550.3,474.2 L551.3,474.2 L552.3,474.2 L553.3,474.2 L554.3,474.2 L555.3,474.2 L556.4,474.2 L557.4,474.2 L558.4,474.2 L559.4,474.2 L560.4,474.2 L561.4,474.2 L562.4,474.3 L563.4,474.3 L564.4,474.3 L565.4,474.3 L566.4,474.3 L567.4,474.3 L568.4,474.3 L569.4,474.3 L570.4,474.3 L571.5,474.3 L572.5,474.3 L573.5,474.3 L574.5,474.3 L575.5,474.3 L576.5,474.3 L577.5,474.3 L578.5,474.3 L579.5,474.3 L580.5,474.3 L581.5,474.3 L582.5,474.3 L583.5,474.4 L584.5,474.4 L585.5,474.4 L586.6,474.4 L587.6,474.4 L588.6,474.4 L589.6,474.4 L590.6,474.4 L591.6,474.4 L592.6,474.4 L593.6,474.4 L594.6,474.4 L595.6,474.4 L596.6,474.4 L597.6,474.4 L598.6,474.4 L599.6,474.4 L600.6,474.4 L601.6,474.4 L602.7,474.4 L603.7,474.4 L604.7,474.4 L605.7,474.4 L606.7,474.4 L607.7,474.4 L608.7,474.4 L609.7,474.4 L610.7,474.4 L611.7,474.4 L612.7,474.4 L613.7,474.4 L614.7,474.5 L615.7,474.5 L616.7,474.5 L617.8,474.5 L618.8,474.5 L619.8,474.5 L620.8,474.5 L621.8,474.5 L622.8,474.5 L623.8,474.5 L624.8,474.5 L625.8,474.5 L626.8,474.5 L627.8,474.5 L628.8,474.5 L629.8,474.5 L630.8,474.5 L631.8,474.5 L632.9,474.5 L633.9,474.5 L634.9,474.5 L635.9,474.5 L636.9,474.5 L637.9,474.5 L638.9,474.5 L639.9,474.5 L640.9,474.5 L641.9,474.5 L642.9,474.5 L643.9,474.5 L644.9,474.5 L645.9,474.5 L646.9,474.5 L648.0,474.5 L649.0,474.5 L650.0,474.5 L651.0,474.5 L652.0,474.5 L653.0,474.5 L654.0,474.5 L655.0,474.5 L656.0,474.5 L657.0,474.5 L658.0,474.5 L659.0,474.5 L660.0,474.5 L661.0,474.5 L662.0,474.5" stroke="#008000"/>
<path d="M99.6,134.9 L100.6,132.2 L101.6,130.5 L102.6,128.9 L103.6,127.6 L104.6,126.6 L105.6,126.1 L106.6,126.1 L107.6,126.4 L108.6,127.1 L109.6,128.0 L110.6,129.1 L111.6,130.5 L112.6,132.0 L113.7,133.7 L114.7,135.6 L115.7,137.7 L116.7,139.9 L117.7,142.2 L118.7,144.5 L119.7,146.8 L120.7,149.1 L121.7,151.5 L122.7,153.8 L123.7,156.2 L124.7,158.5 L125.7,160.7 L126.7,162.9 L127.7,165.1 L128.7,167.4 L129.8,169.7 L130.8,172.3 L131.8,175.2 L132.8,178.3 L133.8,181.8 L134.8,185.5 L135.8,189.3 L136.8,193.1 L137.8,196.8 L138.8,200.3 L139.8,203.7 L140.8,206.9 L141.8,210.1 L142.8,213.2 L143.8,216.2 L144.9,219.2 L145.9,222.2 L146.9,225.2 L147.9,228.2 L148.9,231.3 L149.9,234.4 L150.9,237.6 L151.9,240.8 L152.9,244.0 L153.9,247.1 L154.9,250.3 L155.9,253.5 L156.9,256.8 L157.9,260.2 L158.9,263.8 L160.0,267.7 L161.0,271.9 L162.0,276.5 L163.0,281.8 L164.0,287.7 L165.0,294.1 L166.0,300.5 L167.0,306.7 L168.0,312.5 L169.0,317.9 L170.0,322.8 L171.0,327.0 L172.0,330.6 L173.0,333.7 L174.0,336.2 L175.1,338.2 L176.1,340.0 L177.1,341.3 L178.1,342.4 L179.1,343.3 L180.1,344.1 L181.1,344.6 L182.1,344.9 L183.1,345.0 L184.1,344.8 L185.1,344.3 L186.1,343.6 L187.1,342.8 L188.1,341.8 L189.1,340.7 L190.2,339.4 L191.2,337.9 L192.2,336.3 L193.2,334.3 L194.2,332.2 L195.2,329.9 L196.2,327.5 L197.2,325.0 L198.2,322.5 L199.2,320.0 L200.2,317.4 L201.2,314.8 L202.2,312.1 L203.2,309.3 L204.2,306.4 L205.3,303.5 L206.3,300.6 L207.3,297.6 L208.3,294.6 L209.3,291.7 L210.3,288.7 L211.3,285.8 L212.3,282.9 L213.3,280.2 L214.3,277.5 L215.3,274.8 L216.3,272.3 L217.3,269.7 L218.3,267.3 L219.3,264.8 L220.3,262.3 L221.4,259.9 L222.4,257.5 L223.4,255.1 L224.4,252.8 L225.4,250.4 L226.4,248.1 L227.4,245.9 L228.4,243.6 L229.4,241.5 L230.4,239.3 L231.4,237.2 L232.4,235.1 L233.4,233.1 L234.4,231.1 L235.4,229.1 L236.5,227.2 L237.5,225.3 L238.5,223.3 L239.5,221.3 L240.5,219.4 L241.5,217.5 L242.5,215.8 L243.5,214.3 L244.5,213.0 L245.5,212.0 L246.5,211.1 L247.5,210.5 L248.5,210.0 L249.5,209.6 L250.5,209.2 L251.6,208.9 L252.6,208.6 L253.6,208.4 L254.6,208.3 L255.6,208.1 L256.6,208.1 L257.6,208.0 L258.6,208.0 L259.6,208.0 L260.6,208.0 L261.6,208.0 L262.6,208.0 L263.6,208.0 L264.6,208.0 L265.6,208.0 L266.7,208.0 L267.7,208.0 L268.7,208.0 L269.7,208.0 L270.7,208.1 L271.7,208.2 L272.7,208.4 L273.7,209.0 L274.7,209.8 L275.7,211.0 L276.7,212.4 L277.7,214.0 L278.7,215.7 L279.7,217.4 L280.7,219.1 L281.8,220.9 L282.8,222.9 L283.8,224.9 L284.8,226.9 L285.8,229.0 L286.8,230.9 L287.8,232.6 L288.8,234.0 L289.8,235.0 L290.8,235.5 L291.8,235.6 L292.8,235.2 L293.8,234.5 L294.8,233.6 L295.8,232.4 L296.9,231.2 L297.9,229.7 L298.9,228.1 L299.9,226.2 L300.9,224.0 L301.9,221.5 L302.9,218.6 L303.9,215.1 L304.9,211.1 L305.9,206.6 L306.9,201.6 L307.9,196.4 L308.9,191.0 L309.9,185.6 L310.9,180.3 L312.0,174.9 L313.0,169.5 L314.0,164.1 L315.0,158.6 L316.0,153.0 L317.0,147.5 L318.0,142.0 L319.0,136.6 L320.0,131.2 L321.0,125.9 L322.0,120.7 L323.0,115.5 L324.0,110.4 L325.0,105.6 L326.0,101.0 L327.0,96.8 L328.1,92.7 L329.1,88.9 L330.1,85.3 L331.1,82.0 L332.1,79.0 L333.1,76.5 L334.1,74.4 L335.1,72.7 L336.1,71.2 L337.1,69.9 L338.1,68.7 L339.1,67.8 L340.1,67.0 L341.1,66.5 L342.1,66.3 L343.2,66.5 L344.2,67.2 L345.2,68.2 L346.2,69.7 L347.2,71.5 L348.2,73.6 L349.2,76.0 L350.2,78.8 L351.2,82.2 L352.2,86.2 L353.2,90.8 L354.2,95.9 L355.2,101.2 L356.2,106.6 L357.2,112.1 L358.3,117.8 L359.3,123.6 L360.3,129.9 L361.3,136.6 L362.3,143.9 L363.3,151.9 L364.3,160.6 L365.3,169.9 L366.3,179.6 L367.3,189.6 L368.3,199.6 L369.3,209.6 L370.3,219.4 L371.3,229.0 L372.3,238.3 L373.4,247.5 L374.4,256.6 L375.4,265.6 L376.4,274.4 L377.4,283.1 L378.4,291.5 L379.4,299.7 L380.4,307.8 L381.4,315.7 L382.4,323.4 L383.4,331.0 L384.4,338.5 L385.4,345.8 L386.4,352.9 L387.4,359.9 L388.5,366.6 L389.5,373.2 L390.5,379.6 L391.5,385.9 L392.5,392.2 L393.5,398.2 L394.5,404.1 L395.5,409.6 L396.5,414.7 L397.5,419.3 L398.5,423.4 L399.5,427.0 L400.5,430.3 L401.5,433.3 L402.5,436.2 L403.6,438.9 L404.6,441.4 L405.6,443.8 L406.6,446.0 L407.6,448.1 L408.6,450.0 L409.6,451.7 L410.6,453.3 L411.6,454.7 L412.6,455.9 L413.6,457.0 L414.6,458.0 L415.6,459.0 L416.6,459.9 L417.6,460.7 L418.7,461.5 L419.7,462.3 L420.7,463.0 L421.7,463.7 L422.7,464.4 L423.7,465.0 L424.7,465.5 L425.7,466.0 L426.7,466.5 L427.7,467.0 L428.7,467.4 L429.7,467.7 L430.7,468.0 L431.7,468.3 L432.7,468.6 L433.7,468.9 L434.8,469.1 L435.8,469.3 L436.8,469.6 L437.8,469.8 L438.8,470.0 L439.8,470.2 L440.8,470.4 L441.8,470.6 L442.8,470.8 L443.8,471.0 L444.8,471.2 L445.8,471.3 L446.8,471.5 L447.8,471.6 L448.8,471.8 L449.9,471.9 L450.9,472.0 L451.9,472.2 L452.9,472.3 L453.9,472.4 L454.9,472.5 L455.9,472.6 L456.9,472.6 L457.9,472.7 L458.9,472.7 L459.9,472.8 L460.9,472.8 L461.9,472.9 L462.9,472.9 L463.9,472.9 L465.0,472.9 L466.0,472.9 L467.0,473.0 L468.0,473.0 L469.0,473.0 L470.0,473.0 L471.0,473.0 L472.0,473.1 L473.0,473.1 L474.0,473.1 L475.0,473.1 L476.0,473.1 L477.0,473.1 L478.0,473.2 L479.0,473.2 L480.1,473.2 L481.1,473.2 L482.1,473.2 L483.1,473.3 L484.1,473.3 L485.1,473.3 L486.1,473.3 L487.1,473.3 L488.1,473.3 L489.1,473.3 L490.1,473.4 L491.1,473.4 L492.1,473.4 L493.1,473.4 L494.1,473.4 L495.2,473.4 L496.2,473.5 L497.2,473.5 L498.2,473.5 L499.2,473.5 L500.2,473.5 L501.2,473.5 L502.2,473.5 L503.2,473.6 L504.2,473.6 L505.2,473.6 L506.2,473.6 L507.2,473.6 L508.2,473.6 L509.2,473.6 L510.3,473.7 L511.3,473.7 L512.3,473.7 L513.3,473.7 L514.3,473.7 L515.3,473.7 L516.3,473.7 L517.3,473.7 L518.3,473.8 L519.3,473.8 L520.3,473.8 L521.3,473.8 L522.3,473.8 L523.3,473.8 L524.3,473.8 L525.3,473.8 L526.4,473.8 L527.4,473.9 L528.4,473.9 L529.4,473.9 L530.4,473.9 L531.4,473.9 L532.4,473.9 L533.4,473.9 L534.4,473.9 L535.4,473.9 L536.4,474.0 L537.4,474.0 L538.4,474.0 L539.4,474.0 L540.4,474.0 L541.5,474.0 L542.5,474.0 L543.5,474.0 L544.5,474.0 L545.5,474.0 L546.5,474.1 L547.5,474.1 L548.5,474.1 L549.5,474.1 L550.5,474.1 L551.5,474.1 L552.5,474.1 L553.5,474.1 L554.5,474.1 L555.5,474.1 L556.6,474.1 L557.6,474.1 L558.6,474.1 L559.6,474.2 L560.6,474.2 L561.6,474.2 L562.6,474.2 L563.6,474.2 L564.6,474.2 L565.6,474.2 L566.6,474.2 L567.6,474.2 L568.6,474.2 L569.6,474.2 L570.6,474.2 L571.7,474.2 L572.7,474.2 L573.7,474.3 L574.7,474.3 L575.7,474.3 L576.7,474.3 L577.7,474.3 L578.7,474.3 L579.7,474.3 L580.7,474.3 L581.7,474.3 L582.7,474.3 L583.7,474.3 L584.7,474.3 L585.7,474.3 L586.8,474.3 L587.8,474.3 L588.8,474.3 L589.8,474.3 L590.8,474.3 L591.8,474.4 L592.8,474.4 L593.8,474.4 L594.8,474.4 L595.8,474.4 L596.8,474.4 L597.8,474.4 L598.8,474.4 L599.8,474.4 L600.8,474.4 L601.9,474.4 L602.9,474.4 L603.9,474.4 L604.9,474.4 L605.9,474.4 L606.9,474.4 L607.9,474.4 L608.9,474.4 L609.9,474.4 L610.9,474.4 L611.9,474.4 L612.9,474.4 L613.9,474.4 L614.9,474.4 L615.9,474.4 L617.0,474.4 L618.0,474.4 L619.0,474.4 L620.0,474.5 L621.0,474.5 L622.0,474.5 L623.0,474.5 L624.0,474.5 L625.0,474.5 L626.0,474.5 L627.0,474.5 L628.0,474.5 L629.0,474.5 L630.0,474.5 L631.0,474.5 L632.0,474.5 L633.1,474.5 L634.1,474.5 L635.1,474.5 L636.1,474.5 L637.1,474.5 L638.1,474.5 L639.1,474.5 L640.1,474.5 L641.1,474.5 L642.1,474.5 L643.1,474.5 L644.1,474.5 L645.1,474.5 L646.1,474.5 L647.1,474.5 L648.2,474.5 L649.2,474.5 L650.2,474.5 L651.2,474.5 L652.2,474.5 L653.2,474.5 L654.2,474.5 L655.2,474.5 L656.2,474.5 L657.2,474.5 L658.2,474.5 L659.2,474.5 L660.2,474.5 L661.2,474.5 L662.2,474.5 L663.3,474.5" stroke="#000080"/>
<path d="M98.3,147.9 L99.4,162.6 L100.4,173.3 L101.4,183.4 L102.4,193.0 L103.4,201.5 L104.4,209.0 L105.4,215.7 L106.4,222.0 L107.4,228.0 L108.4,234.0 L109.4,240.1 L110.4,246.2 L111.4,252.5 L112.4,258.6 L113.4,264.5 L114.5,270.0 L115.5,275.2 L116.5,280.1 L117.5,284.6 L118.5,289.0 L119.5,293.2 L120.5,297.2 L121.5,300.9 L122.5,304.4 L123.5,307.7 L124.5,310.7 L125.5,313.6 L126.5,316.2 L127.5,318.6 L128.5,320.9 L129.6,323.1 L130.6,325.2 L131.6,327.2 L132.6,329.2 L133.6,331.2 L134.6,333.3 L135.6,335.3 L136.6,337.4 L137.6,339.5 L138.6,341.6 L139.6,343.6 L140.6,345.7 L141.6,347.7 L142.6,349.8 L143.6,351.9 L144.7,354.1 L145.7,356.3 L146.7,358.5 L147.7,360.9 L148.7,363.4 L149.7,365.9 L150.7,368.6 L151.7,371.2 L152.7,373.8 L153.7,376.3 L154.7,378.7 L155.7,381.0 L156.7,383.3 L157.7,385.4 L158.7,387.5 L159.8,389.5 L160.8,391.5 L161.8,393.4 L162.8,395.3 L163.8,397.1 L164.8,398.8 L165.8,400.5 L166.8,402.2 L167.8,403.9 L168.8,405.6 L169.8,407.1 L170.8,408.4 L171.8,409.4 L172.8,410.1 L173.8,410.3 L174.9,410.2 L175.9,409.7 L176.9,409.0 L177.9,408.1 L178.9,407.0 L179.9,405.9 L180.9,404.7 L181.9,403.5 L182.9,402.4 L183.9,401.3 L184.9,400.3 L185.9,399.4 L186.9,398.5 L187.9,397.6 L188.9,396.7 L190.0,395.8 L191.0,394.9 L192.0,394.0 L193.0,393.1 L194.0,392.2 L195.0,391.3 L196.0,390.4 L197.0,389.4 L198.0,388.4 L199.0,387.4 L200.0,386.3 L201.0,385.2 L202.0,384.1 L203.0,382.9 L204.0,381.7 L205.0,380.5 L206.1,379.2 L207.1,377.9 L208.1,376.6 L209.1,375.2 L210.1,373.9 L211.1,372.5 L212.1,371.1 L213.1,369.7 L214.1,368.3 L215.1,366.9 L216.1,365.5 L217.1,364.1 L218.1,362.6 L219.1,361.1 L220.1,359.5 L221.2,357.9 L222.2,356.2 L223.2,354.6 L224.2,353.0 L225.2,351.4 L226.2,349.9 L227.2,348.5 L228.2,347.1 L229.2,345.8 L230.2,344.6 L231.2,343.5 L232.2,342.5 L233.2,341.5 L234.2,340.6 L235.2,339.6 L236.3,338.7 L237.3,337.9 L238.3,337.1 L239.3,336.3 L240.3,335.6 L241.3,335.0 L242.3,334.4 L243.3,333.9 L244.3,333.5 L245.3,333.1 L246.3,332.8 L247.3,332.5 L248.3,332.2 L249.3,331.9 L250.3,331.7 L251.4,331.5 L252.4,331.3 L253.4,331.1 L254.4,330.9 L255.4,330.8 L256.4,330.7 L257.4,330.5 L258.4,330.4 L259.4,330.3 L260.4,330.2 L261.4,330.1 L262.4,330.1 L263.4,330.1 L264.4,330.1 L265.4,330.3 L266.5,330.5 L267.5,330.9 L268.5,331.4 L269.5,331.9 L270.5,332.5 L271.5,333.1 L272.5,333.7 L273.5,334.4 L274.5,335.2 L275.5,336.0 L276.5,336.9 L277.5,337.9 L278.5,339.0 L279.5,340.1 L280.5,341.3 L281.6,342.5 L282.6,343.6 L283.6,344.7 L284.6,345.7 L285.6,346.5 L286.6,347.3 L287.6,347.9 L288.6,348.3 L289.6,348.5 L290.6,348.5 L291.6,348.2 L292.6,347.8 L293.6,347.3 L294.6,346.6 L295.6,345.8 L296.7,344.9 L297.7,343.8 L298.7,342.4 L299.7,340.9 L300.7,339.2 L301.7,337.4 L302.7,335.6 L303.7,333.8 L304.7,332.0 L305.7,330.2 L306.7,328.4 L307.7,326.6 L308.7,324.6 L309.7,322.6 L310.7,320.3 L311.7,317.8 L312.8,315.0 L313.8,312.0 L314.8,308.8 L315.8,305.6 L316.8,302.4 L317.8,299.3 L318.8,296.6 L319.8,294.1 L320.8,292.0 L321.8,290.1 L322.8,288.3 L323.8,286.7 L324.8,285.1 L325.8,283.7 L326.8,282.4 L327.9,281.3 L328.9,280.3 L329.9,279.4 L330.9,278.7 L331.9,278.1 L332.9,277.5 L333.9,277.0 L334.9,276.6 L335.9,276.1 L336.9,275.8 L337.9,275.5 L338.9,275.3 L339.9,275.1 L340.9,275.1 L341.9,275.2 L343.0,275.6 L344.0,276.1 L345.0,276.8 L346.0,277.7 L347.0,278.7 L348.0,279.9 L349.0,281.1 L350.0,282.4 L351.0,283.8 L352.0,285.3 L353.0,286.9 L354.0,288.8 L355.0,290.8 L356.0,293.0 L357.0,295.3 L358.1,297.8 L359.1,300.4 L360.1,303.2 L361.1,306.2 L362.1,309.5 L363.1,313.1 L364.1,316.9 L365.1,320.9 L366.1,325.0 L367.1,329.1 L368.1,333.1 L369.1,336.9 L370.1,340.6 L371.1,344.2 L372.1,347.6 L373.2,351.0 L374.2,354.3 L375.2,357.6 L376.2,361.0 L377.2,364.5 L378.2,368.1 L379.2,371.8 L380.2,375.7 L381.2,379.7 L382.2,383.9 L383.2,388.1 L384.2,392.3 L385.2,396.6 L386.2,400.7 L387.2,404.8 L388.3,408.7 L389.3,412.6 L390.3,416.4 L391.3,420.2 L392.3,423.9 L393.3,427.5 L394.3,431.0 L395.3,434.2 L396.3,437.1 L397.3,439.7 L398.3,442.1 L399.3,444.3 L400.3,446.3 L401.3,448.1 L402.3,449.8 L403.3,451.4 L404.4,452.9 L405.4,454.3 L406.4,455.5 L407.4,456.6 L408.4,457.7 L409.4,458.7 L410.4,459.6 L411.4,460.5 L412.4,461.4 L413.4,462.2 L414.4,462.9 L415.4,463.6 L416.4,464.3 L417.4,464.8 L418.4,465.4 L419.5,465.9 L420.5,466.3 L421.5,466.7 L422.5,467.1 L423.5,467.4 L424.5,467.8 L425.5,468.1 L426.5,468.4 L427.5,468.7 L428.5,469.0 L429.5,469.3 L430.5,469.5 L431.5,469.8 L432.5,470.0 L433.5,470.2 L434.6,470.4 L435.6,470.6 L436.6,470.7 L437.6,470.9 L438.6,471.0 L439.6,471.1 L440.6,471.2 L441.6,471.3 L442.6,471.4 L443.6,471.5 L444.6,471.5 L445.6,471.6 L446.6,471.7 L447.6,471.8 L448.6,471.8 L449.7,471.9 L450.7,472.0 L451.7,472.0 L452.7,472.1 L453.7,472.1 L454.7,472.2 L455.7,472.3 L456.7,472.3 L457.7,472.4 L458.7,472.4 L459.7,472.5 L460.7,472.5 L461.7,472.6 L462.7,472.6 L463.7,472.7 L464.8,472.7 L465.8,472.8 L466.8,472.8 L467.8,472.9 L468.8,472.9 L469.8,472.9 L470.8,473.0 L471.8,473.0 L472.8,473.1 L473.8,473.1 L474.8,473.1 L475.8,473.2 L476.8,473.2 L477.8,473.2 L478.8,473.3 L479.9,473.3 L480.9,473.3 L481.9,473.3 L482.9,473.4 L483.9,473.4 L484.9,473.4 L485.9,473.4 L486.9,473.5 L487.9,473.5 L488.9,473.5 L489.9,473.5 L490.9,473.5 L491.9,473.6 L492.9,473.6 L493.9,473.6 L495.0,473.6 L496.0,473.6 L497.0,473.6 L498.0,473.6 L499.0,473.7 L500.0,473.7 L501.0,473.7 L502.0,473.7 L503.0,473.7 L504.0,473.7 L505.0,473.7 L506.0,473.7 L507.0,473.7 L508.0,473.8 L509.0,473.8 L510.0,473.8 L511.1,473.8 L512.1,473.8 L513.1,473.8 L514.1,473.8 L515.1,473.8 L516.1,473.8 L517.1,473.8 L518.1,473.8 L519.1,473.9 L520.1,473.9 L521.1,473.9 L522.1,473.9 L523.1,473.9 L524.1,473.9 L525.1,473.9 L526.2,473.9 L527.2,473.9 L528.2,473.9 L529.2,473.9 L530.2,474.0 L531.2,474.0 L532.2,474.0 L533.2,474.0 L534.2,474.0 L535.2,474.0 L536.2,474.0 L537.2,474.0 L538.2,474.0 L539.2,474.0 L540.2,474.0 L541.3,474.0 L542.3,474.1 L543.3,474.1 L544.3,474.1 L545.3,474.1 L546.3,474.1 L547.3,474.1 L548.3,474.1 L549.3,474.1 L550.3,474.1 L551.3,474.1 L552.3,474.1 L553.3,474.1 L554.3,474.1 L555.3,474.1 L556.4,474.2 L557.4,474.2 L558.4,474.2 L559.4,474.2 L560.4,474.2 L561.4,474.2 L562.4,474.2 L563.4,474.2 L564.4,474.2 L565.4,474.2 L566.4,474.2 L567.4,474.2 L568.4,474.2 L569.4,474.2 L570.4,474.2 L571.5,474.2 L572.5,474.2 L573.5,474.3 L574.5,474.3 L575.5,474.3 L576.5,474.3 L577.5,474.3 L578.5,474.3 L579.5,474.3 L580.5,474.3 L581.5,474.3 L582.5,474.3 L583.5,474.3 L584.5,474.3 L585.5,474.3 L586.6,474.3 L587.6,474.3 L588.6,474.3 L589.6,474.3 L590.6,474.3 L591.6,474.3 L592.6,474.3 L593.6,474.4 L594.6,474.4 L595.6,474.4 L596.6,474.4 L597.6,474.4 L598.6,474.4 L599.6,474.4 L600.6,474.4 L601.6,474.4 L602.7,474.4 L603.7,474.4 L604.7,474.4 L605.7,474.4 L606.7,474.4 L607.7,474.4 L608.7,474.4 L609.7,474.4 L610.7,474.4 L611.7,474.4 L612.7,474.4 L613.7,474.4 L614.7,474.4 L615.7,474.4 L616.7,474.4 L617.8,474.4 L618.8,474.4 L619.8,474.4 L620.8,474.4 L621.8,474.4 L622.8,474.5 L623.8,474.5 L624.8,474.5 L625.8,474.5 L626.8,474.5 L627.8,474.5 L628.8,474.5 L629.8,474.5 L630.8,474.5 L631.8,474.5 L632.9,474.5 L633.9,474.5 L634.9,474.5 L635.9,474.5 L636.9,474.5 L637.9,474.5 L638.9,474.5 L639.9,474.5 L640.9,474.5 L641.9,474.5 L642.9,474.5 L643.9,474.5 L644.9,474.5 L645.9,474.5 L646.9,474.5 L648.0,474.5 L649.0,474.5 L650.0,474.5 L651.0,474.5 L652.0,474.5 L653.0,474.5 L654.0,474.5 L655.0,474.5 L656.0,474.5 L657.0,474.5 L658.0,474.5 L659.0,474.5 L660.0,474.5 L661.0,474.5 L662.0,474.5" stroke="#8000ff"/>
<path d="M98.3,296.9 L99.4,290.2 L100.4,284.6 L101.4,279.2 L102.4,273.6 L103.4,268.0 L104.4,262.5 L105.4,257.2 L106.4,252.0 L107.4,246.9 L108.4,241.8 L109.4,236.7 L110.4,231.5 L111.4,226.1 L112.4,220.7 L113.4,215.5 L114.5,210.8 L115.5,206.8 L116.5,203.7 L117.5,201.8 L118.5,201.0 L119.5,201.4 L120.5,202.6 L121.5,204.4 L122.5,206.7 L123.5,209.2 L124.5,211.7 L125.5,214.4 L126.5,217.3 L127.5,220.2 L128.5,223.3 L129.6,226.4 L130.6,229.5 L131.6,232.6 L132.6,235.6 L133.6,238.7 L134.6,241.7 L135.6,244.7 L136.6,247.6 L137.6,250.5 L138.6,253.4 L139.6,256.1 L140.6,258.8 L141.6,261.5 L142.6,264.1 L143.6,266.6 L144.7,269.2 L145.7,271.8 L146.7,274.5 L147.7,277.3 L148.7,280.2 L149.7,283.1 L150.7,286.1 L151.7,289.1 L152.7,291.9 L153.7,294.7 L154.7,297.2 L155.7,299.5 L156.7,301.6 L157.7,303.6 L158.7,305.4 L159.8,307.3 L160.8,309.2 L161.8,311.5 L162.8,314.2 L163.8,317.5 L164.8,321.4 L165.8,325.8 L166.8,330.4 L167.8,334.8 L168.8,338.9 L169.8,342.6 L170.8,346.0 L171.8,348.9 L172.8,351.4 L173.8,353.2 L174.9,354.5 L175.9,355.4 L176.9,356.0 L177.9,356.4 L178.9,356.8 L179.9,357.1 L180.9,357.3 L181.9,357.5 L182.9,357.7 L183.9,357.7 L184.9,357.7 L185.9,357.6 L186.9,357.3 L187.9,356.9 L188.9,356.4 L190.0,355.7 L191.0,354.9 L192.0,354.1 L193.0,353.1 L194.0,352.1 L195.0,351.0 L196.0,349.8 L197.0,348.5 L198.0,346.9 L199.0,345.1 L200.0,343.2 L201.0,341.0 L202.0,338.8 L203.0,336.4 L204.0,333.9 L205.0,331.4 L206.1,328.8 L207.1,326.3 L208.1,323.8 L209.1,321.3 L210.1,318.8 L211.1,316.3 L212.1,313.8 L213.1,311.1 L214.1,308.4 L215.1,305.7 L216.1,302.9 L217.1,300.1 L218.1,297.3 L219.1,294.5 L220.1,291.8 L221.2,289.0 L222.2,286.3 L223.2,283.7 L224.2,281.1 L225.2,278.7 L226.2,276.3 L227.2,274.1 L228.2,272.0 L229.2,270.0 L230.2,268.0 L231.2,266.0 L232.2,264.0 L233.2,262.1 L234.2,260.1 L235.2,258.1 L236.3,256.2 L237.3,254.3 L238.3,252.4 L239.3,250.6 L240.3,248.9 L241.3,247.3 L242.3,245.8 L243.3,244.4 L244.3,243.2 L245.3,242.1 L246.3,241.2 L247.3,240.5 L248.3,239.9 L249.3,239.6 L250.3,239.5 L251.4,239.6 L252.4,239.8 L253.4,240.2 L254.4,240.7 L255.4,241.2 L256.4,241.8 L257.4,242.2 L258.4,242.5 L259.4,242.6 L260.4,242.5 L261.4,242.2 L262.4,241.7 L263.4,241.0 L264.4,240.2 L265.4,239.4 L266.5,238.6 L267.5,237.8 L268.5,237.2 L269.5,236.7 L270.5,236.4 L271.5,236.5 L272.5,237.0 L273.5,237.9 L274.5,239.3 L275.5,241.0 L276.5,242.9 L277.5,245.0 L278.5,247.2 L279.5,249.4 L280.5,251.5 L281.6,253.5 L282.6,255.6 L283.6,257.7 L284.6,260.0 L285.6,262.2 L286.6,264.4 L287.6,266.5 L288.6,268.3 L289.6,269.8 L290.6,270.9 L291.6,271.6 L292.6,271.8 L293.6,271.6 L294.6,271.0 L295.6,270.2 L296.7,269.1 L297.7,267.8 L298.7,266.3 L299.7,264.6 L300.7,262.9 L301.7,261.0 L302.7,259.0 L303.7,256.9 L304.7,254.6 L305.7,251.9 L306.7,248.9 L307.7,245.5 L308.7,241.9 L309.7,238.1 L310.7,234.1 L311.7,230.1 L312.8,226.1 L313.8,222.2 L314.8,218.5 L315.8,215.0 L316.8,211.8 L317.8,208.5 L318.8,205.1 L319.8,201.3 L320.8,196.9 L321.8,191.2 L322.8,183.6 L323.8,173.6 L324.8,161.5 L325.8,149.0 L326.8,138.0 L327.9,129.4 L328.9,122.8 L329.9,117.6 L330.9,113.1 L331.9,109.1 L332.9,105.3 L333.9,101.6 L334.9,97.8 L335.9,93.6 L336.9,89.1 L337.9,84.6 L338.9,80.2 L339.9,76.4 L340.9,73.2 L341.9,70.7 L343.0,69.0 L344.0,68.1 L345.0,67.9 L346.0,68.4 L347.0,69.4 L348.0,70.6 L349.0,72.1 L350.0,73.8 L351.0,75.9 L352.0,78.2 L353.0,80.9 L354.0,84.0 L355.0,87.2 L356.0,90.6 L357.0,94.1 L358.1,97.8 L359.1,101.6 L360.1,105.7 L361.1,109.8 L362.1,114.0 L363.1,118.2 L364.1,122.4 L365.1,126.4 L366.1,130.3 L367.1,134.2 L368.1,138.2 L369.1,142.4 L370.1,147.0 L371.1,152.2 L372.1,158.2 L373.2,165.1 L374.2,172.9 L375.2,181.5 L376.2,190.7 L377.2,200.2 L378.2,209.9 L379.2,219.4 L380.2,228.7 L381.2,237.8 L382.2,246.9 L383.2,255.8 L384.2,264.8 L385.2,273.7 L386.2,282.5 L387.2,291.1 L388.3,299.7 L389.3,308.1 L390.3,316.5 L391.3,324.9 L392.3,333.2 L393.3,341.3 L394.3,349.2 L395.3,356.9 L396.3,364.2 L397.3,371.3 L398.3,378.0 L399.3,384.4 L400.3,390.6 L401.3,396.6 L402.3,402.4 L403.3,407.8 L404.4,412.9 L405.4,417.6 L406.4,421.8 L407.4,425.7 L408.4,429.3 L409.4,432.7 L410.4,435.8 L411.4,438.9 L412.4,441.8 L413.4,444.5 L414.4,447.0 L415.4,449.2 L416.4,451.3 L417.4,453.1 L418.4,454.7 L419.5,456.0 L420.5,457.2 L421.5,458.3 L422.5,459.3 L423.5,460.3 L424.5,461.2 L425.5,462.1 L426.5,462.9 L427.5,463.7 L428.5,464.5 L429.5,465.2 L430.5,465.8 L431.5,466.5 L432.5,467.0 L433.5,467.5 L434.6,468.0 L435.6,468.4 L436.6,468.8 L437.6,469.0 L438.6,469.3 L439.6,469.4 L440.6,469.5 L441.6,469.6 L442.6,469.7 L443.6,469.8 L444.6,469.8 L445.6,469.9 L446.6,469.9 L447.6,470.0 L448.6,470.0 L449.7,470.1 L450.7,470.1 L451.7,470.2 L452.7,470.3 L453.7,470.3 L454.7,470.4 L455.7,470.4 L456.7,470.5 L457.7,470.5 L458.7,470.6 L459.7,470.6 L460.7,470.7 L461.7,470.7 L462.7,470.8 L463.7,470.8 L464.8,470.9 L465.8,470.9 L466.8,471.0 L467.8,471.0 L468.8,471.0 L469.8,471.1 L470.8,471.1 L471.8,471.2 L472.8,471.2 L473.8,471.3 L474.8,471.3 L475.8,471.4 L476.8,471.4 L477.8,471.4 L478.8,471.5 L479.9,471.5 L480.9,471.6 L481.9,471.6 L482.9,471.7 L483.9,471.7 L484.9,471.7 L485.9,471.8 L486.9,471.8 L487.9,471.9 L488.9,471.9 L489.9,471.9 L490.9,472.0 L491.9,472.0 L492.9,472.0 L493.9,472.1 L495.0,472.1 L496.0,472.2 L497.0,472.2 L498.0,472.2 L499.0,472.3 L500.0,472.3 L501.0,472.3 L502.0,472.4 L503.0,472.4 L504.0,472.4 L505.0,472.5 L506.0,472.5 L507.0,472.5 L508.0,472.6 L509.0,472.6 L510.0,472.6 L511.1,472.7 L512.1,472.7 L513.1,472.7 L514.1,472.7 L515.1,472.8 L516.1,472.8 L517.1,472.8 L518.1,472.9 L519.1,472.9 L520.1,472.9 L521.1,472.9 L522.1,473.0 L523.1,473.0 L524.1,473.0 L525.1,473.1 L526.2,473.1 L527.2,473.1 L528.2,473.1 L529.2,473.2 L530.2,473.2 L531.2,473.2 L532.2,473.2 L533.2,473.3 L534.2,473.3 L535.2,473.3 L536.2,473.3 L537.2,473.3 L538.2,473.4 L539.2,473.4 L540.2,473.4 L541.3,473.4 L542.3,473.5 L543.3,473.5 L544.3,473.5 L545.3,473.5 L546.3,473.5 L547.3,473.6 L548.3,473.6 L549.3,473.6 L550.3,473.6 L551.3,473.6 L552.3,473.7 L553.3,473.7 L554.3,473.7 L555.3,473.7 L556.4,473.7 L557.4,473.7 L558.4,473.8 L559.4,473.8 L560.4,473.8 L561.4,473.8 L562.4,473.8 L563.4,473.8 L564.4,473.9 L565.4,473.9 L566.4,473.9 L567.4,473.9 L568.4,473.9 L569.4,473.9 L570.4,474.0 L571.5,474.0 L572.5,474.0 L573.5,474.0 L574.5,474.0 L575.5,474.0 L576.5,474.0 L577.5,474.0 L578.5,474.1 L579.5,474.1 L580.5,474.1 L581.5,474.1 L582.5,474.1 L583.5,474.1 L584.5,474.1 L585.5,474.1 L586.6,474.2 L587.6,474.2 L588.6,474.2 L589.6,474.2 L590.6,474.2 L591.6,474.2 L592.6,474.2 L593.6,474.2 L594.6,474.2 L595.6,474.2 L596.6,474.3 L597.6,474.3 L598.6,474.3 L599.6,474.3 L600.6,474.3 L601.6,474.3 L602.7,474.3 L603.7,474.3 L604.7,474.3 L605.7,474.3 L606.7,474.3 L607.7,474.3 L608.7,474.3 L609.7,474.4 L610.7,474.4 L611.7,474.4 L612.7,474.4 L613.7,474.4 L614.7,474.4 L615.7,474.4 L616.7,474.4 L617.8,474.4 L618.8,474.4 L619.8,474.4 L620.8,474.4 L621.8,474.4 L622.8,474.4 L623.8,474.4 L624.8,474.4 L625.8,474.4 L626.8,474.4 L627.8,474.4 L628.8,474.4 L629.8,474.4 L630.8,474.5 L631.8,474.5 L632.9,474.5 L633.9,474.5 L634.9,474.5 L635.9,474.5 L636.9,474.5 L637.9,474.5 L638.9,474.5 L639.9,474.5 L640.9,474.5 L641.9,474.5 L642.9,474.5 L643.9,474.5 L644.9,474.5 L645.9,474.5 L646.9,474.5 L648.0,474.5 L649.0,474.5 L650.0,474.5 L651.0,474.5 L652.0,474.5 L653.0,474.5 L654.0,474.5 L655.0,474.5 L656.0,474.5 L657.0,474.5 L658.0,474.5 L659.0,474.5 L660.0,474.5 L661.0,474.5 L662.0,474.5" stroke="#800080"/>
<path d="M98.3,109.2 L99.4,121.8 L100.4,131.6 L101.4,140.9 L102.4,150.0 L103.4,158.5 L104.4,166.3 L105.4,173.2 L106.4,179.4 L107.4,184.9 L108.4,190.1 L109.4,195.3 L110.4,200.7 L111.4,206.5 L112.4,212.4 L113.4,218.3 L114.5,223.8 L115.5,228.6 L116.5,232.9 L117.5,236.7 L118.5,240.0 L119.5,243.2 L120.5,246.1 L121.5,248.9 L122.5,251.6 L123.5,254.2 L124.5,256.8 L125.5,259.3 L126.5,261.9 L127.5,264.3 L128.5,266.7 L129.6,269.0 L130.6,271.3 L131.6,273.6 L132.6,275.8 L133.6,278.1 L134.6,280.3 L135.6,282.6 L136.6,284.9 L137.6,287.1 L138.6,289.4 L139.6,291.6 L140.6,293.8 L141.6,296.0 L142.6,298.2 L143.6,300.5 L144.7,302.8 L145.7,305.1 L146.7,307.4 L147.7,309.8 L148.7,312.2 L149.7,314.6 L150.7,317.1 L151.7,319.6 L152.7,322.2 L153.7,324.7 L154.7,327.3 L155.7,329.9 L156.7,332.5 L157.7,335.2 L158.7,338.0 L159.8,340.8 L160.8,343.5 L161.8,346.2 L162.8,348.8 L163.8,351.2 L164.8,353.5 L165.8,355.7 L166.8,357.7 L167.8,359.7 L168.8,361.5 L169.8,363.3 L170.8,365.0 L171.8,366.6 L172.8,368.0 L173.8,369.3 L174.9,370.6 L175.9,371.7 L176.9,372.8 L177.9,373.7 L178.9,374.6 L179.9,375.2 L180.9,375.7 L181.9,375.9 L182.9,375.9 L183.9,375.7 L184.9,375.4 L185.9,375.1 L186.9,374.7 L187.9,374.2 L188.9,373.6 L190.0,373.0 L191.0,372.3 L192.0,371.4 L193.0,370.4 L194.0,369.1 L195.0,367.7 L196.0,366.1 L197.0,364.5 L198.0,362.7 L199.0,360.8 L200.0,358.8 L201.0,356.7 L202.0,354.5 L203.0,352.0 L204.0,349.4 L205.0,346.7 L206.1,343.9 L207.1,341.0 L208.1,338.2 L209.1,335.4 L210.1,332.7 L211.1,330.1 L212.1,327.7 L213.1,325.3 L214.1,323.0 L215.1,320.7 L216.1,318.5 L217.1,316.2 L218.1,314.0 L219.1,311.9 L220.1,309.7 L221.2,307.7 L222.2,305.7 L223.2,303.8 L224.2,302.1 L225.2,300.4 L226.2,298.9 L227.2,297.4 L228.2,296.2 L229.2,295.0 L230.2,293.9 L231.2,292.9 L232.2,291.9 L233.2,290.9 L234.2,290.0 L235.2,289.1 L236.3,288.2 L237.3,287.4 L238.3,286.5 L239.3,285.8 L240.3,285.0 L241.3,284.3 L242.3,283.7 L243.3,283.1 L244.3,282.6 L245.3,282.1 L246.3,281.7 L247.3,281.3 L248.3,281.0 L249.3,280.8 L250.3,280.7 L251.4,280.5 L252.4,280.4 L253.4,280.3 L254.4,280.2 L255.4,280.2 L256.4,280.1 L257.4,280.0 L258.4,280.0 L259.4,279.9 L260.4,279.9 L261.4,279.8 L262.4,279.8 L263.4,279.9 L264.4,279.9 L265.4,280.1 L266.5,280.5 L267.5,280.9 L268.5,281.5 L269.5,282.2 L270.5,283.0 L271.5,283.7 L272.5,284.6 L273.5,285.4 L274.5,286.4 L275.5,287.4 L276.5,288.6 L277.5,289.8 L278.5,291.2 L279.5,292.6 L280.5,294.0 L281.6,295.4 L282.6,296.8 L283.6,298.0 L284.6,299.1 L285.6,300.1 L286.6,300.8 L287.6,301.2 L288.6,301.4 L289.6,301.4 L290.6,301.0 L291.6,300.4 L292.6,299.5 L293.6,298.5 L294.6,297.2 L295.6,295.8 L296.7,294.3 L297.7,292.6 L298.7,290.9 L299.7,289.1 L300.7,287.2 L301.7,285.3 L302.7,283.1 L303.7,280.6 L304.7,277.9 L305.7,274.9 L306.7,271.6 L307.7,268.0 L308.7,264.3 L309.7,260.5 L310.7,256.6 L311.7,252.6 L312.8,248.6 L313.8,244.7 L314.8,240.8 L315.8,237.0 L316.8,233.5 L317.8,230.1 L318.8,227.0 L319.8,224.1 L320.8,221.4 L321.8,218.8 L322.8,216.3 L323.8,213.9 L324.8,211.5 L325.8,209.3 L326.8,207.2 L327.9,205.2 L328.9,203.4 L329.9,201.9 L330.9,200.5 L331.9,199.4 L332.9,198.4 L333.9,197.6 L334.9,196.8 L335.9,196.1 L336.9,195.6 L337.9,195.1 L338.9,194.8 L339.9,194.7 L340.9,194.7 L341.9,194.9 L343.0,195.3 L344.0,195.8 L345.0,196.3 L346.0,197.1 L347.0,197.9 L348.0,199.0 L349.0,200.4 L350.0,202.2 L351.0,204.6 L352.0,207.5 L353.0,210.8 L354.0,214.5 L355.0,218.3 L356.0,222.3 L357.0,226.4 L358.1,230.6 L359.1,234.9 L360.1,239.4 L361.1,244.1 L362.1,249.0 L363.1,254.0 L364.1,259.1 L365.1,264.3 L366.1,269.5 L367.1,274.7 L368.1,280.0 L369.1,285.5 L370.1,291.1 L371.1,297.0 L372.1,303.2 L373.2,309.7 L374.2,316.4 L375.2,323.3 L376.2,330.2 L377.2,337.0 L378.2,343.5 L379.2,349.8 L380.2,355.9 L381.2,361.8 L382.2,367.5 L383.2,373.1 L384.2,378.5 L385.2,383.9 L386.2,389.2 L387.2,394.5 L388.3,399.7 L389.3,404.7 L390.3,409.5 L391.3,414.0 L392.3,418.1 L393.3,421.8 L394.3,425.1 L395.3,428.1 L396.3,430.8 L397.3,433.3 L398.3,435.7 L399.3,437.9 L400.3,439.9 L401.3,441.7 L402.3,443.3 L403.3,444.6 L404.4,445.7 L405.4,446.6 L406.4,447.4 L407.4,448.1 L408.4,448.8 L409.4,449.3 L410.4,449.9 L411.4,450.3 L412.4,450.8 L413.4,451.3 L414.4,451.7 L415.4,452.2 L416.4,452.6 L417.4,453.1 L418.4,453.5 L419.5,454.0 L420.5,454.5 L421.5,454.9 L422.5,455.4 L423.5,455.9 L424.5,456.3 L425.5,456.8 L426.5,457.2 L427.5,457.6 L428.5,458.1 L429.5,458.5 L430.5,458.9 L431.5,459.3 L432.5,459.7 L433.5,460.1 L434.6,460.4 L435.6,460.8 L436.6,461.1 L437.6,461.4 L438.6,461.7 L439.6,462.0 L440.6,462.3 L441.6,462.6 L442.6,462.8 L443.6,463.0 L444.6,463.3 L445.6,463.5 L446.6,463.7 L447.6,463.9 L448.6,464.1 L449.7,464.3 L450.7,464.5 L451.7,464.7 L452.7,464.9 L453.7,465.1 L454.7,465.3 L455.7,465.5 L456.7,465.6 L457.7,465.8 L458.7,466.0 L459.7,466.1 L460.7,466.3 L461.7,466.4 L462.7,466.6 L463.7,466.7 L464.8,466.9 L465.8,467.1 L466.8,467.2 L467.8,467.4 L468.8,467.5 L469.8,467.7 L470.8,467.8 L471.8,468.0 L472.8,468.1 L473.8,468.3 L474.8,468.4 L475.8,468.6 L476.8,468.7 L477.8,468.9 L478.8,469.0 L479.9,469.2 L480.9,469.3 L481.9,469.5 L482.9,469.6 L483.9,469.7 L484.9,469.9 L485.9,470.0 L486.9,470.1 L487.9,470.2 L488.9,470.3 L489.9,470.4 L490.9,470.5 L491.9,470.6 L492.9,470.7 L493.9,470.8 L495.0,470.9 L496.0,471.0 L497.0,471.0 L498.0,471.1 L499.0,471.1 L500.0,471.2 L501.0,471.2 L502.0,471.3 L503.0,471.3 L504.0,471.3 L505.0,471.4 L506.0,471.4 L507.0,471.4 L508.0,471.5 L509.0,471.5 L510.0,471.5 L511.1,471.5 L512.1,471.6 L513.1,471.6 L514.1,471.6 L515.1,471.7 L516.1,471.7 L517.1,471.7 L518.1,471.8 L519.1,471.8 L520.1,471.8 L521.1,471.8 L522.1,471.9 L523.1,471.9 L524.1,471.9 L525.1,471.9 L526.2,472.0 L527.2,472.0 L528.2,472.0 L529.2,472.1 L530.2,472.1 L531.2,472.1 L532.2,472.1 L533.2,472.2 L534.2,472.2 L535.2,472.2 L536.2,472.2 L537.2,472.3 L538.2,472.3 L539.2,472.3 L540.2,472.3 L541.3,472.3 L542.3,472.4 L543.3,472.4 L544.3,472.4 L545.3,472.4 L546.3,472.5 L547.3,472.5 L548.3,472.5 L549.3,472.5 L550.3,472.5 L551.3,472.6 L552.3,472.6 L553.3,472.6 L554.3,472.6 L555.3,472.7 L556.4,472.7 L557.4,472.7 L558.4,472.7 L559.4,472.7 L560.4,472.7 L561.4,472.8 L562.4,472.8 L563.4,472.8 L564.4,472.8 L565.4,472.8 L566.4,472.9 L567.4,472.9 L568.4,472.9 L569.4,472.9 L570.4,472.9 L571.5,472.9 L572.5,473.0 L573.5,473.0 L574.5,473.0 L575.5,473.0 L576.5,473.0 L577.5,473.0 L578.5,473.1 L579.5,473.1 L580.5,473.1 L581.5,473.1 L582.5,473.1 L583.5,473.1 L584.5,473.2 L585.5,473.2 L586.6,473.2 L587.6,473.2 L588.6,473.2 L589.6,473.2 L590.6,473.2 L591.6,473.2 L592.6,473.3 L593.6,473.3 L594.6,473.3 L595.6,473.3 L596.6,473.3 L597.6,473.3 L598.6,473.3 L599.6,473.3 L600.6,473.4 L601.6,473.4 L602.7,473.4 L603.7,473.4 L604.7,473.4 L605.7,473.4 L606.7,473.4 L607.7,473.4 L608.7,473.4 L609.7,473.4 L610.7,473.5 L611.7,473.5 L612.7,473.5 L613.7,473.5 L614.7,473.5 L615.7,473.5 L616.7,473.5 L617.8,473.5 L618.8,473.5 L619.8,473.5 L620.8,473.5 L621.8,473.5 L622.8,473.6 L623.8,473.6 L624.8,473.6 L625.8,473.6 L626.8,473.6 L627.8,473.6 L628.8,473.6 L629.8,473.6 L630.8,473.6 L631.8,473.6 L632.9,473.6 L633.9,473.6 L634.9,473.6 L635.9,473.6 L636.9,473.6 L637.9,473.6 L638.9,473.6 L639.9,473.6 L640.9,473.6 L641.9,473.6 L642.9,473.7 L643.9,473.7 L644.9,473.7 L645.9,473.7 L646.9,473.7 L648.0,473.7 L649.0,473.7 L650.0,473.7 L651.0,473.7 L652.0,473.7 L653.0,473.7 L654.0,473.7 L655.0,473.7 L656.0,473.7 L657.0,473.7 L658.0,473.7 L659.0,473.7 L660.0,473.7 L661.0,473.7 L662.0,473.7" stroke="#800000"/>
<path d="M98.3,132.4 L99.4,135.0 L100.4,137.1 L101.4,139.2 L102.4,141.5 L103.4,143.8 L104.4,146.0 L105.4,148.3 L106.4,150.5 L107.4,152.7 L108.4,154.8 L109.4,156.9 L110.4,158.9 L111.4,160.8 L112.4,162.7 L113.4,164.5 L114.5,166.3 L115.5,167.9 L116.5,169.4 L117.5,170.9 L118.5,172.3 L119.5,173.7 L120.5,175.1 L121.5,176.6 L122.5,178.2 L123.5,179.8 L124.5,181.4 L125.5,182.9 L126.5,184.4 L127.5,185.9 L128.5,187.5 L129.6,189.3 L130.6,191.5 L131.6,194.0 L132.6,196.7 L133.6,199.5 L134.6,202.3 L135.6,205.0 L136.6,207.7 L137.6,210.4 L138.6,213.1 L139.6,215.8 L140.6,218.5 L141.6,221.2 L142.6,224.0 L143.6,226.9 L144.7,229.9 L145.7,232.9 L146.7,236.0 L147.7,239.1 L148.7,242.1 L149.7,245.1 L150.7,247.9 L151.7,250.6 L152.7,253.1 L153.7,255.4 L154.7,257.4 L155.7,259.2 L156.7,260.8 L157.7,262.2 L158.7,263.5 L159.8,264.8 L160.8,265.9 L161.8,267.0 L162.8,268.0 L163.8,268.9 L164.8,269.7 L165.8,270.4 L166.8,271.1 L167.8,271.7 L168.8,272.2 L169.8,272.7 L170.8,273.1 L171.8,273.6 L172.8,274.0 L173.8,274.4 L174.9,274.8 L175.9,275.1 L176.9,275.4 L177.9,275.6 L178.9,275.8 L179.9,275.9 L180.9,276.0 L181.9,276.0 L182.9,276.0 L183.9,275.9 L184.9,275.8 L185.9,275.6 L186.9,275.3 L187.9,275.0 L188.9,274.5 L190.0,273.8 L191.0,272.9 L192.0,271.6 L193.0,270.1 L194.0,268.4 L195.0,266.4 L196.0,264.4 L197.0,262.3 L198.0,260.1 L199.0,257.9 L200.0,255.7 L201.0,253.5 L202.0,251.2 L203.0,248.9 L204.0,246.4 L205.0,243.8 L206.1,241.1 L207.1,238.4 L208.1,235.6 L209.1,232.8 L210.1,230.0 L211.1,227.3 L212.1,224.6 L213.1,222.0 L214.1,219.4 L215.1,217.0 L216.1,214.7 L217.1,212.4 L218.1,210.2 L219.1,208.0 L220.1,205.8 L221.2,203.7 L222.2,201.6 L223.2,199.6 L224.2,197.8 L225.2,196.2 L226.2,194.7 L227.2,193.5 L228.2,192.4 L229.2,191.5 L230.2,190.8 L231.2,190.1 L232.2,189.5 L233.2,188.9 L234.2,188.5 L235.2,188.1 L236.3,187.9 L237.3,187.8 L238.3,187.8 L239.3,188.1 L240.3,188.5 L241.3,189.1 L242.3,189.8 L243.3,190.7 L244.3,191.6 L245.3,192.6 L246.3,193.7 L247.3,194.8 L248.3,196.1 L249.3,197.5 L250.3,199.0 L251.4,200.7 L252.4,202.6 L253.4,204.6 L254.4,206.8 L255.4,209.3 L256.4,212.0 L257.4,215.0 L258.4,218.4 L259.4,221.9 L260.4,225.6 L261.4,229.4 L262.4,233.2 L263.4,237.1 L264.4,241.1 L265.4,245.2 L266.5,249.4 L267.5,253.5 L268.5,257.7 L269.5,261.8 L270.5,265.9 L271.5,269.8 L272.5,273.7 L273.5,277.5 L274.5,281.2 L275.5,284.9 L276.5,288.6 L277.5,292.3 L278.5,296.0 L279.5,299.8 L280.5,303.7 L281.6,307.7 L282.6,311.7 L283.6,315.7 L284.6,319.5 L285.6,323.0 L286.6,326.3 L287.6,329.3 L288.6,332.1 L289.6,334.8 L290.6,337.4 L291.6,339.9 L292.6,342.4 L293.6,344.9 L294.6,347.4 L295.6,349.8 L296.7,352.2 L297.7,354.5 L298.7,356.6 L299.7,358.6 L300.7,360.4 L301.7,362.1 L302.7,363.6 L303.7,365.1 L304.7,366.5 L305.7,367.8 L306.7,369.1 L307.7,370.3 L308.7,371.3 L309.7,372.2 L310.7,372.9 L311.7,373.5 L312.8,373.8 L313.8,374.0 L314.8,374.0 L315.8,374.1 L316.8,374.1 L317.8,374.1 L318.8,374.0 L319.8,373.7 L320.8,373.1 L321.8,372.1 L322.8,370.7 L323.8,369.2 L324.8,367.8 L325.8,366.6 L326.8,365.7 L327.9,364.8 L328.9,364.1 L329.9,363.4 L330.9,363.0 L331.9,362.7 L332.9,362.5 L333.9,362.6 L334.9,363.0 L335.9,363.5 L336.9,364.2 L337.9,365.1 L338.9,366.2 L339.9,367.3 L340.9,368.5 L341.9,369.7 L343.0,371.0 L344.0,372.3 L345.0,373.8 L346.0,375.5 L347.0,377.3 L348.0,379.1 L349.0,381.0 L350.0,382.9 L351.0,384.7 L352.0,386.3 L353.0,387.7 L354.0,389.0 L355.0,390.2 L356.0,391.3 L357.0,392.3 L358.1,393.3 L359.1,394.2 L360.1,395.2 L361.1,396.2 L362.1,397.2 L363.1,398.2 L364.1,399.2 L365.1,400.3 L366.1,401.6 L367.1,403.1 L368.1,404.8 L369.1,406.8 L370.1,409.0 L371.1,411.3 L372.1,413.7 L373.2,416.1 L374.2,418.5 L375.2,420.8 L376.2,423.0 L377.2,425.1 L378.2,427.2 L379.2,429.3 L380.2,431.3 L381.2,433.3 L382.2,435.3 L383.2,437.3 L384.2,439.2 L385.2,441.0 L386.2,442.9 L387.2,444.8 L388.3,446.7 L389.3,448.6 L390.3,450.4 L391.3,452.0 L392.3,453.5 L393.3,454.8 L394.3,455.9 L395.3,456.8 L396.3,457.6 L397.3,458.2 L398.3,458.8 L399.3,459.2 L400.3,459.5 L401.3,459.8 L402.3,459.9 L403.3,460.0 L404.4,460.1 L405.4,460.2 L406.4,460.3 L407.4,460.3 L408.4,460.4 L409.4,460.6 L410.4,460.8 L411.4,461.1 L412.4,461.5 L413.4,462.0 L414.4,462.7 L415.4,463.3 L416.4,464.0 L417.4,464.7 L418.4,465.3 L419.5,465.8 L420.5,466.2 L421.5,466.6 L422.5,466.9 L423.5,467.1 L424.5,467.4 L425.5,467.6 L426.5,467.9 L427.5,468.1 L428.5,468.4 L429.5,468.6 L430.5,468.8 L431.5,469.0 L432.5,469.2 L433.5,469.4 L434.6,469.6 L435.6,469.8 L436.6,470.0 L437.6,470.2 L438.6,470.4 L439.6,470.5 L440.6,470.7 L441.6,470.9 L442.6,471.0 L443.6,471.1 L444.6,471.3 L445.6,471.4 L446.6,471.5 L447.6,471.6 L448.6,471.8 L449.7,471.9 L450.7,471.9 L451.7,472.0 L452.7,472.1 L453.7,472.2 L454.7,472.2 L455.7,472.3 L456.7,472.3 L457.7,472.4 L458.7,472.4 L459.7,472.4 L460.7,472.5 L461.7,472.5 L462.7,472.5 L463.7,472.5 L464.8,472.5 L465.8,472.5 L466.8,472.5 L467.8,472.5 L468.8,472.5 L469.8,472.5 L470.8,472.6 L471.8,472.6 L472.8,472.6 L473.8,472.6 L474.8,472.6 L475.8,472.6 L476.8,472.6 L477.8,472.6 L478.8,472.6 L479.9,472.6 L480.9,472.6 L481.9,472.7 L482.9,472.7 L483.9,472.7 L484.9,472.7 L485.9,472.7 L486.9,472.7 L487.9,472.7 L488.9,472.7 L489.9,472.7 L490.9,472.7 L491.9,472.7 L492.9,472.7 L493.9,472.8 L495.0,472.8 L496.0,472.8 L497.0,472.8 L498.0,472.8 L499.0,472.8 L500.0,472.8 L501.0,472.8 L502.0,472.8 L503.0,472.8 L504.0,472.8 L505.0,472.8 L506.0,472.8 L507.0,472.8 L508.0,472.9 L509.0,472.9 L510.0,472.9 L511.1,472.9 L512.1,472.9 L513.1,472.9 L514.1,472.9 L515.1,472.9 L516.1,472.9 L517.1,472.9 L518.1,472.9 L519.1,472.9 L520.1,472.9 L521.1,472.9 L522.1,472.9 L523.1,472.9 L524.1,472.9 L525.1,473.0 L526.2,473.0 L527.2,473.0 L528.2,473.0 L529.2,473.0 L530.2,473.0 L531.2,473.0 L532.2,473.0 L533.2,473.0 L534.2,473.0 L535.2,473.0 L536.2,473.0 L537.2,473.0 L538.2,473.0 L539.2,473.0 L540.2,473.0 L541.3,473.0 L542.3,473.0 L543.3,473.0 L544.3,473.1 L545.3,473.1 L546.3,473.1 L547.3,473.1 L548.3,473.1 L549.3,473.1 L550.3,473.1 L551.3,473.1 L552.3,473.1 L553.3,473.1 L554.3,473.1 L555.3,473.1 L556.4,473.1 L557.4,473.1 L558.4,473.1 L559.4,473.1 L560.4,473.1 L561.4,473.1 L562.4,473.1 L563.4,473.1 L564.4,473.1 L565.4,473.1 L566.4,473.1 L567.4,473.1 L568.4,473.1 L569.4,473.1 L570.4,473.1 L571.5,473.2 L572.5,473.2 L573.5,473.2 L574.5,473.2 L575.5,473.2 L576.5,473.2 L577.5,473.2 L578.5,473.2 L579.5,473.2 L580.5,473.2 L581.5,473.2 L582.5,473.2 L583.5,473.2 L584.5,473.2 L585.5,473.2 L586.6,473.2 L587.6,473.2 L588.6,473.2 L589.6,473.2 L590.6,473.2 L591.6,473.2 L592.6,473.2 L593.6,473.2 L594.6,473.2 L595.6,473.2 L596.6,473.2 L597.6,473.2 L598.6,473.2 L599.6,473.2 L600.6,473.2 L601.6,473.2 L602.7,473.2 L603.7,473.2 L604.7,473.2 L605.7,473.2 L606.7,473.2 L607.7,473.2 L608.7,473.2 L609.7,473.2 L610.7,473.2 L611.7,473.2 L612.7,473.2 L613.7,473.2 L614.7,473.2 L615.7,473.2 L616.7,473.2 L617.8,473.3 L618.8,473.3 L619.8,473.3 L620.8,473.3 L621.8,473.3 L622.8,473.3 L623.8,473.3 L624.8,473.3 L625.8,473.3 L626.8,473.3 L627.8,473.3 L628.8,473.3 L629.8,473.3 L630.8,473.3 L631.8,473.3 L632.9,473.3 L633.9,473.3 L634.9,473.3 L635.9,473.3 L636.9,473.3 L637.9,473.3 L638.9,473.3 L639.9,473.3 L640.9,473.3 L641.9,473.3 L642.9,473.3 L643.9,473.3 L644.9,473.3 L645.9,473.3 L646.9,473.3 L648.0,473.3 L649.0,473.3 L650.0,473.3 L651.0,473.3 L652.0,473.3 L653.0,473.3 L654.0,473.3 L655.0,473.3 L656.0,473.3 L657.0,473.3 L658.0,473.3 L659.0,473.3 L660.0,473.3 L661.0,473.3 L662.0,473.3" stroke="#808000"/>
<path d="M98.3,279.6 L99.4,279.0 L100.4,278.5 L101.4,278.0 L102.4,277.5 L103.4,276.9 L104.4,276.3 L105.4,275.8 L106.4,275.2 L107.4,274.5 L108.4,273.9 L109.4,273.3 L110.4,272.6 L111.4,271.9 L112.4,271.2 L113.4,270.4 L114.5,269.7 L115.5,268.9 L116.5,268.1 L117.5,267.3 L118.5,266.5 L119.5,265.8 L120.5,265.0 L121.5,264.2 L122.5,263.4 L123.5,262.7 L124.5,261.9 L125.5,261.2 L126.5,260.5 L127.5,259.8 L128.5,259.2 L129.6,258.5 L130.6,257.8 L131.6,257.1 L132.6,256.3 L133.6,255.6 L134.6,254.8 L135.6,253.9 L136.6,253.1 L137.6,252.1 L138.6,251.1 L139.6,250.0 L140.6,248.9 L141.6,247.7 L142.6,246.4 L143.6,245.1 L144.7,243.8 L145.7,242.5 L146.7,241.2 L147.7,239.9 L148.7,238.6 L149.7,237.3 L150.7,236.0 L151.7,234.7 L152.7,233.4 L153.7,232.1 L154.7,230.7 L155.7,229.3 L156.7,227.9 L157.7,226.4 L158.7,224.8 L159.8,223.0 L160.8,221.2 L161.8,219.3 L162.8,217.3 L163.8,215.4 L164.8,213.6 L165.8,212.0 L166.8,210.5 L167.8,209.3 L168.8,208.3 L169.8,207.5 L170.8,206.8 L171.8,206.2 L172.8,205.6 L173.8,205.0 L174.9,204.4 L175.9,203.8 L176.9,203.0 L177.9,202.2 L178.9,201.2 L179.9,200.0 L180.9,198.5 L181.9,196.7 L182.9,194.7 L183.9,192.5 L184.9,190.4 L185.9,188.2 L186.9,186.2 L187.9,184.4 L188.9,182.8 L190.0,181.4 L191.0,180.2 L192.0,179.1 L193.0,177.9 L194.0,176.6 L195.0,174.9 L196.0,172.7 L197.0,169.8 L198.0,166.4 L199.0,162.5 L200.0,158.6 L201.0,154.7 L202.0,151.2 L203.0,148.4 L204.0,146.4 L205.0,145.2 L206.1,144.5 L207.1,144.2 L208.1,143.8 L209.1,143.4 L210.1,142.8 L211.1,142.0 L212.1,140.9 L213.1,139.5 L214.1,137.9 L215.1,136.1 L216.1,134.2 L217.1,132.2 L218.1,130.0 L219.1,127.6 L220.1,125.0 L221.2,122.3 L222.2,119.6 L223.2,116.8 L224.2,114.1 L225.2,111.4 L226.2,108.8 L227.2,106.2 L228.2,103.6 L229.2,101.0 L230.2,98.5 L231.2,96.0 L232.2,93.5 L233.2,91.1 L234.2,88.7 L235.2,86.4 L236.3,84.1 L237.3,81.8 L238.3,79.7 L239.3,77.7 L240.3,75.8 L241.3,74.1 L242.3,72.5 L243.3,70.9 L244.3,69.5 L245.3,68.3 L246.3,67.3 L247.3,66.6 L248.3,66.3 L249.3,66.3 L250.3,66.7 L251.4,67.2 L252.4,67.9 L253.4,68.7 L254.4,69.6 L255.4,70.7 L256.4,71.8 L257.4,73.0 L258.4,74.4 L259.4,76.0 L260.4,77.6 L261.4,79.3 L262.4,81.0 L263.4,82.8 L264.4,84.5 L265.4,86.3 L266.5,88.0 L267.5,89.8 L268.5,91.6 L269.5,93.5 L270.5,95.5 L271.5,97.8 L272.5,100.2 L273.5,103.0 L274.5,106.2 L275.5,109.9 L276.5,114.0 L277.5,118.5 L278.5,123.1 L279.5,127.7 L280.5,132.2 L281.6,136.6 L282.6,140.8 L283.6,145.1 L284.6,149.2 L285.6,153.4 L286.6,157.4 L287.6,161.5 L288.6,165.5 L289.6,169.5 L290.6,173.3 L291.6,177.0 L292.6,180.3 L293.6,183.2 L294.6,185.8 L295.6,188.0 L296.7,189.8 L297.7,191.0 L298.7,191.5 L299.7,191.4 L300.7,190.7 L301.7,189.4 L302.7,187.7 L303.7,185.4 L304.7,182.5 L305.7,179.3 L306.7,175.9 L307.7,172.5 L308.7,169.2 L309.7,165.9 L310.7,162.5 L311.7,159.1 L312.8,155.6 L313.8,152.1 L314.8,148.4 L315.8,144.6 L316.8,140.7 L317.8,136.9 L318.8,133.1 L319.8,129.4 L320.8,125.8 L321.8,122.3 L322.8,118.9 L323.8,115.7 L324.8,112.6 L325.8,109.7 L326.8,107.0 L327.9,104.6 L328.9,102.4 L329.9,100.4 L330.9,98.4 L331.9,96.3 L332.9,94.2 L333.9,92.1 L334.9,89.8 L335.9,87.6 L336.9,85.6 L337.9,83.6 L338.9,81.9 L339.9,80.4 L340.9,79.0 L341.9,77.9 L343.0,76.9 L344.0,76.2 L345.0,75.6 L346.0,75.3 L347.0,75.2 L348.0,75.3 L349.0,75.6 L350.0,76.2 L351.0,77.1 L352.0,78.2 L353.0,79.7 L354.0,81.6 L355.0,83.7 L356.0,86.0 L357.0,88.4 L358.1,91.0 L359.1,93.7 L360.1,96.6 L361.1,99.6 L362.1,102.8 L363.1,106.2 L364.1,109.7 L365.1,113.4 L366.1,117.3 L367.1,121.5 L368.1,126.2 L369.1,131.4 L370.1,137.3 L371.1,144.0 L372.1,151.6 L373.2,159.8 L374.2,168.7 L375.2,178.1 L376.2,188.1 L377.2,198.3 L378.2,208.7 L379.2,218.8 L380.2,228.7 L381.2,238.1 L382.2,247.2 L383.2,256.1 L384.2,264.7 L385.2,273.2 L386.2,281.7 L387.2,290.0 L388.3,298.4 L389.3,306.8 L390.3,315.3 L391.3,323.7 L392.3,332.2 L393.3,340.5 L394.3,348.7 L395.3,356.5 L396.3,364.1 L397.3,371.2 L398.3,378.1 L399.3,384.5 L400.3,390.8 L401.3,396.8 L402.3,402.5 L403.3,407.9 L404.4,413.0 L405.4,417.7 L406.4,421.9 L407.4,425.8 L408.4,429.4 L409.4,432.7 L410.4,435.9 L411.4,438.9 L412.4,441.8 L413.4,444.5 L414.4,447.0 L415.4,449.3 L416.4,451.3 L417.4,453.1 L418.4,454.7 L419.5,456.1 L420.5,457.2 L421.5,458.3 L422.5,459.3 L423.5,460.3 L424.5,461.2 L425.5,462.1 L426.5,462.9 L427.5,463.7 L428.5,464.5 L429.5,465.2 L430.5,465.9 L431.5,466.5 L432.5,467.0 L433.5,467.6 L434.6,468.0 L435.6,468.4 L436.6,468.8 L437.6,469.0 L438.6,469.3 L439.6,469.4 L440.6,469.6 L441.6,469.6 L442.6,469.7 L443.6,469.8 L444.6,469.8 L445.6,469.9 L446.6,469.9 L447.6,470.0 L448.6,470.0 L449.7,470.1 L450.7,470.2 L451.7,470.2 L452.7,470.3 L453.7,470.3 L454.7,470.4 L455.7,470.4 L456.7,470.5 L457.7,470.5 L458.7,470.6 L459.7,470.6 L460.7,470.7 L461.7,470.7 L462.7,470.8 L463.7,470.8 L464.8,470.9 L465.8,470.9 L466.8,471.0 L467.8,471.0 L468.8,471.0 L469.8,471.1 L470.8,471.1 L471.8,471.2 L472.8,471.2 L473.8,471.3 L474.8,471.3 L475.8,471.4 L476.8,471.4 L477.8,471.4 L478.8,471.5 L479.9,471.5 L480.9,471.6 L481.9,471.6 L482.9,471.7 L483.9,471.7 L484.9,471.7 L485.9,471.8 L486.9,471.8 L487.9,471.9 L488.9,471.9 L489.9,471.9 L490.9,472.0 L491.9,472.0 L492.9,472.0 L493.9,472.1 L495.0,472.1 L496.0,472.2 L497.0,472.2 L498.0,472.2 L499.0,472.3 L500.0,472.3 L501.0,472.3 L502.0,472.4 L503.0,472.4 L504.0,472.4 L505.0,472.5 L506.0,472.5 L507.0,472.5 L508.0,472.6 L509.0,472.6 L510.0,472.6 L511.1,472.7 L512.1,472.7 L513.1,472.7 L514.1,472.7 L515.1,472.8 L516.1,472.8 L517.1,472.8 L518.1,472.9 L519.1,472.9 L520.1,472.9 L521.1,472.9 L522.1,473.0 L523.1,473.0 L524.1,473.0 L525.1,473.1 L526.2,473.1 L527.2,473.1 L528.2,473.1 L529.2,473.2 L530.2,473.2 L531.2,473.2 L532.2,473.2 L533.2,473.3 L534.2,473.3 L535.2,473.3 L536.2,473.3 L537.2,473.3 L538.2,473.4 L539.2,473.4 L540.2,473.4 L541.3,473.4 L542.3,473.5 L543.3,473.5 L544.3,473.5 L545.3,473.5 L546.3,473.5 L547.3,473.6 L548.3,473.6 L549.3,473.6 L550.3,473.6 L551.3,473.6 L552.3,473.7 L553.3,473.7 L554.3,473.7 L555.3,473.7 L556.4,473.7 L557.4,473.7 L558.4,473.8 L559.4,473.8 L560.4,473.8 L561.4,473.8 L562.4,473.8 L563.4,473.8 L564.4,473.9 L565.4,473.9 L566.4,473.9 L567.4,473.9 L568.4,473.9 L569.4,473.9 L570.4,474.0 L571.5,474.0 L572.5,474.0 L573.5,474.0 L574.5,474.0 L575.5,474.0 L576.5,474.0 L577.5,474.0 L578.5,474.1 L579.5,474.1 L580.5,474.1 L581.5,474.1 L582.5,474.1 L583.5,474.1 L584.5,474.1 L585.5,474.1 L586.6,474.2 L587.6,474.2 L588.6,474.2 L589.6,474.2 L590.6,474.2 L591.6,474.2 L592.6,474.2 L593.6,474.2 L594.6,474.2 L595.6,474.2 L596.6,474.3 L597.6,474.3 L598.6,474.3 L599.6,474.3 L600.6,474.3 L601.6,474.3 L602.7,474.3 L603.7,474.3 L604.7,474.3 L605.7,474.3 L606.7,474.3 L607.7,474.3 L608.7,474.3 L609.7,474.4 L610.7,474.4 L611.7,474.4 L612.7,474.4 L613.7,474.4 L614.7,474.4 L615.7,474.4 L616.7,474.4 L617.8,474.4 L618.8,474.4 L619.8,474.4 L620.8,474.4 L621.8,474.4 L622.8,474.4 L623.8,474.4 L624.8,474.4 L625.8,474.4 L626.8,474.4 L627.8,474.4 L628.8,474.4 L629.8,474.4 L630.8,474.5 L631.8,474.5 L632.9,474.5 L633.9,474.5 L634.9,474.5 L635.9,474.5 L636.9,474.5 L637.9,474.5 L638.9,474.5 L639.9,474.5 L640.9,474.5 L641.9,474.5 L642.9,474.5 L643.9,474.5 L644.9,474.5 L645.9,474.5 L646.9,474.5 L648.0,474.5 L649.0,474.5 L650.0,474.5 L651.0,474.5 L652.0,474.5 L653.0,474.5 L654.0,474.5 L655.0,474.5 L656.0,474.5 L657.0,474.5 L658.0,474.5 L659.0,474.5 L660.0,474.5 L661.0,474.5 L662.0,474.5" stroke="#3a6eb5"/>
<path d="M98.3,127.2 L99.4,126.5 L100.4,126.3 L101.4,126.3 L102.4,126.4 L103.4,126.9 L104.4,127.7 L105.4,128.8 L106.4,130.2 L107.4,131.8 L108.4,133.7 L109.4,135.9 L110.4,138.2 L111.4,140.5 L112.4,143.0 L113.4,145.5 L114.5,148.1 L115.5,150.8 L116.5,153.4 L117.5,156.0 L118.5,158.6 L119.5,161.2 L120.5,163.8 L121.5,166.4 L122.5,169.0 L123.5,171.6 L124.5,174.2 L125.5,176.8 L126.5,179.4 L127.5,182.0 L128.5,184.7 L129.6,187.3 L130.6,190.0 L131.6,192.7 L132.6,195.5 L133.6,198.2 L134.6,201.1 L135.6,203.9 L136.6,206.7 L137.6,209.6 L138.6,212.4 L139.6,215.3 L140.6,218.3 L141.6,221.3 L142.6,224.4 L143.6,227.5 L144.7,230.8 L145.7,234.1 L146.7,237.6 L147.7,241.2 L148.7,245.0 L149.7,248.9 L150.7,253.0 L151.7,257.2 L152.7,261.5 L153.7,266.0 L154.7,270.5 L155.7,275.1 L156.7,279.8 L157.7,284.6 L158.7,289.6 L159.8,294.6 L160.8,299.7 L161.8,304.6 L162.8,309.4 L163.8,314.0 L164.8,318.5 L165.8,322.7 L166.8,326.5 L167.8,330.0 L168.8,332.9 L169.8,335.3 L170.8,337.3 L171.8,339.0 L172.8,340.3 L173.8,341.4 L174.9,342.3 L175.9,343.0 L176.9,343.5 L177.9,343.9 L178.9,344.2 L179.9,344.2 L180.9,343.9 L181.9,343.4 L182.9,342.6 L183.9,341.5 L184.9,340.3 L185.9,338.9 L186.9,337.2 L187.9,335.2 L188.9,332.9 L190.0,330.2 L191.0,327.2 L192.0,324.2 L193.0,321.1 L194.0,318.2 L195.0,315.4 L196.0,312.8 L197.0,310.4 L198.0,308.0 L199.0,305.7 L200.0,303.5 L201.0,301.3 L202.0,299.1 L203.0,297.0 L204.0,294.9 L205.0,292.8 L206.1,290.7 L207.1,288.6 L208.1,286.5 L209.1,284.5 L210.1,282.4 L211.1,280.3 L212.1,278.2 L213.1,276.0 L214.1,273.9 L215.1,271.7 L216.1,269.4 L217.1,267.2 L218.1,264.9 L219.1,262.6 L220.1,260.3 L221.2,258.0 L222.2,255.7 L223.2,253.4 L224.2,251.1 L225.2,248.8 L226.2,246.6 L227.2,244.3 L228.2,242.1 L229.2,239.9 L230.2,237.7 L231.2,235.5 L232.2,233.4 L233.2,231.3 L234.2,229.3 L235.2,227.2 L236.3,225.2 L237.3,223.1 L238.3,221.0 L239.3,218.9 L240.3,216.9 L241.3,215.1 L242.3,213.5 L243.3,212.2 L244.3,211.2 L245.3,210.4 L246.3,209.8 L247.3,209.4 L248.3,209.0 L249.3,208.7 L250.3,208.4 L251.4,208.2 L252.4,208.0 L253.4,207.9 L254.4,207.7 L255.4,207.6 L256.4,207.5 L257.4,207.3 L258.4,207.2 L259.4,207.1 L260.4,207.1 L261.4,207.0 L262.4,206.9 L263.4,206.9 L264.4,206.9 L265.4,207.1 L266.5,207.3 L267.5,207.8 L268.5,208.4 L269.5,209.2 L270.5,210.1 L271.5,211.0 L272.5,212.0 L273.5,213.1 L274.5,214.3 L275.5,215.6 L276.5,216.9 L277.5,218.3 L278.5,219.8 L279.5,221.3 L280.5,223.0 L281.6,224.9 L282.6,226.8 L283.6,228.7 L284.6,230.6 L285.6,232.2 L286.6,233.5 L287.6,234.3 L288.6,234.6 L289.6,234.2 L290.6,233.3 L291.6,231.8 L292.6,229.7 L293.6,227.1 L294.6,223.9 L295.6,220.3 L296.7,216.4 L297.7,212.1 L298.7,207.6 L299.7,202.9 L300.7,198.1 L301.7,193.4 L302.7,188.8 L303.7,184.4 L304.7,180.3 L305.7,176.5 L306.7,172.9 L307.7,169.5 L308.7,166.1 L309.7,162.8 L310.7,159.5 L311.7,156.2 L312.8,152.8 L313.8,149.3 L314.8,145.8 L315.8,142.2 L316.8,138.3 L317.8,133.9 L318.8,128.9 L319.8,123.2 L320.8,117.0 L321.8,110.6 L322.8,104.4 L323.8,98.7 L324.8,93.5 L325.8,88.8 L326.8,84.7 L327.9,81.0 L328.9,77.8 L329.9,75.0 L330.9,72.7 L331.9,70.7 L332.9,69.0 L333.9,67.7 L334.9,66.8 L335.9,66.4 L336.9,66.3 L337.9,66.5 L338.9,66.9 L339.9,67.5 L340.9,68.3 L341.9,69.4 L343.0,70.9 L344.0,72.8 L345.0,75.2 L346.0,78.2 L347.0,81.9 L348.0,86.2 L349.0,91.0 L350.0,96.2 L351.0,101.7 L352.0,107.4 L353.0,113.3 L354.0,119.4 L355.0,125.6 L356.0,131.8 L357.0,138.1 L358.1,144.3 L359.1,150.6 L360.1,156.9 L361.1,163.3 L362.1,170.0 L363.1,176.9 L364.1,184.2 L365.1,191.8 L366.1,199.9 L367.1,208.6 L368.1,217.9 L369.1,228.1 L370.1,239.0 L371.1,250.7 L372.1,262.9 L373.2,275.2 L374.2,287.2 L375.2,298.5 L376.2,308.9 L377.2,318.4 L378.2,327.4 L379.2,335.8 L380.2,343.9 L381.2,351.5 L382.2,358.7 L383.2,365.5 L384.2,372.0 L385.2,378.1 L386.2,383.9 L387.2,389.4 L388.3,394.7 L389.3,399.8 L390.3,404.6 L391.3,409.2 L392.3,413.5 L393.3,417.6 L394.3,421.6 L395.3,425.3 L396.3,429.0 L397.3,432.5 L398.3,436.0 L399.3,439.3 L400.3,442.5 L401.3,445.5 L402.3,448.3 L403.3,450.7 L404.4,452.9 L405.4,454.7 L406.4,456.2 L407.4,457.5 L408.4,458.6 L409.4,459.6 L410.4,460.5 L411.4,461.4 L412.4,462.2 L413.4,463.0 L414.4,463.7 L415.4,464.4 L416.4,465.0 L417.4,465.6 L418.4,466.1 L419.5,466.6 L420.5,467.0 L421.5,467.4 L422.5,467.8 L423.5,468.1 L424.5,468.3 L425.5,468.6 L426.5,468.8 L427.5,469.0 L428.5,469.2 L429.5,469.4 L430.5,469.6 L431.5,469.8 L432.5,470.0 L433.5,470.2 L434.6,470.4 L435.6,470.5 L436.6,470.7 L437.6,470.8 L438.6,471.0 L439.6,471.1 L440.6,471.3 L441.6,471.4 L442.6,471.5 L443.6,471.7 L444.6,471.8 L445.6,471.9 L446.6,472.0 L447.6,472.1 L448.6,472.2 L449.7,472.3 L450.7,472.4 L451.7,472.4 L452.7,472.5 L453.7,472.6 L454.7,472.6 L455.7,472.7 L456.7,472.7 L457.7,472.8 L458.7,472.8 L459.7,472.8 L460.7,472.9 L461.7,472.9 L462.7,472.9 L463.7,472.9 L464.8,472.9 L465.8,473.0 L466.8,473.0 L467.8,473.0 L468.8,473.0 L469.8,473.0 L470.8,473.1 L471.8,473.1 L472.8,473.1 L473.8,473.1 L474.8,473.1 L475.8,473.1 L476.8,473.2 L477.8,473.2 L478.8,473.2 L479.9,473.2 L480.9,473.2 L481.9,473.2 L482.9,473.3 L483.9,473.3 L484.9,473.3 L485.9,473.3 L486.9,473.3 L487.9,473.3 L488.9,473.4 L489.9,473.4 L490.9,473.4 L491.9,473.4 L492.9,473.4 L493.9,473.4 L495.0,473.4 L496.0,473.5 L497.0,473.5 L498.0,473.5 L499.0,473.5 L500.0,473.5 L501.0,473.5 L502.0,473.5 L503.0,473.6 L504.0,473.6 L505.0,473.6 L506.0,473.6 L507.0,473.6 L508.0,473.6 L509.0,473.6 L510.0,473.6 L511.1,473.7 L512.1,473.7 L513.1,473.7 L514.1,473.7 L515.1,473.7 L516.1,473.7 L517.1,473.7 L518.1,473.7 L519.1,473.8 L520.1,473.8 L521.1,473.8 L522.1,473.8 L523.1,473.8 L524.1,473.8 L525.1,473.8 L526.2,473.8 L527.2,473.9 L528.2,473.9 L529.2,473.9 L530.2,473.9 L531.2,473.9 L532.2,473.9 L533.2,473.9 L534.2,473.9 L535.2,473.9 L536.2,473.9 L537.2,474.0 L538.2,474.0 L539.2,474.0 L540.2,474.0 L541.3,474.0 L542.3,474.0 L543.3,474.0 L544.3,474.0 L545.3,474.0 L546.3,474.0 L547.3,474.1 L548.3,474.1 L549.3,474.1 L550.3,474.1 L551.3,474.1 L552.3,474.1 L553.3,474.1 L554.3,474.1 L555.3,474.1 L556.4,474.1 L557.4,474.1 L558.4,474.1 L559.4,474.1 L560.4,474.2 L561.4,474.2 L562.4,474.2 L563.4,474.2 L564.4,474.2 L565.4,474.2 L566.4,474.2 L567.4,474.2 L568.4,474.2 L569.4,474.2 L570.4,474.2 L571.5,474.2 L572.5,474.2 L573.5,474.2 L574.5,474.3 L575.5,474.3 L576.5,474.3 L577.5,474.3 L578.5,474.3 L579.5,474.3 L580.5,474.3 L581.5,474.3 L582.5,474.3 L583.5,474.3 L584.5,474.3 L585.5,474.3 L586.6,474.3 L587.6,474.3 L588.6,474.3 L589.6,474.3 L590.6,474.3 L591.6,474.3 L592.6,474.4 L593.6,474.4 L594.6,474.4 L595.6,474.4 L596.6,474.4 L597.6,474.4 L598.6,474.4 L599.6,474.4 L600.6,474.4 L601.6,474.4 L602.7,474.4 L603.7,474.4 L604.7,474.4 L605.7,474.4 L606.7,474.4 L607.7,474.4 L608.7,474.4 L609.7,474.4 L610.7,474.4 L611.7,474.4 L612.7,474.4 L613.7,474.4 L614.7,474.4 L615.7,474.4 L616.7,474.4 L617.8,474.4 L618.8,474.4 L619.8,474.4 L620.8,474.5 L621.8,474.5 L622.8,474.5 L623.8,474.5 L624.8,474.5 L625.8,474.5 L626.8,474.5 L627.8,474.5 L628.8,474.5 L629.8,474.5 L630.8,474.5 L631.8,474.5 L632.9,474.5 L633.9,474.5 L634.9,474.5 L635.9,474.5 L636.9,474.5 L637.9,474.5 L638.9,474.5 L639.9,474.5 L640.9,474.5 L641.9,474.5 L642.9,474.5 L643.9,474.5 L644.9,474.5 L645.9,474.5 L646.9,474.5 L648.0,474.5 L649.0,474.5 L650.0,474.5 L651.0,474.5 L652.0,474.5 L653.0,474.5 L654.0,474.5 L655.0,474.5 L656.0,474.5 L657.0,474.5 L658.0,474.5 L659.0,474.5 L660.0,474.5 L661.0,474.5 L662.0,474.5" stroke="#169b9b"/>
<path d="M98.3,111.2 L99.4,125.0 L100.4,135.5 L101.4,145.4 L102.4,154.9 L103.4,163.6 L104.4,171.5 L105.4,178.7 L106.4,185.2 L107.4,191.0 L108.4,196.0 L109.4,200.4 L110.4,204.3 L111.4,207.8 L112.4,211.1 L113.4,214.3 L114.5,217.6 L115.5,221.1 L116.5,224.7 L117.5,228.4 L118.5,232.2 L119.5,235.9 L120.5,239.5 L121.5,242.8 L122.5,245.9 L123.5,248.6 L124.5,251.1 L125.5,253.3 L126.5,255.4 L127.5,257.3 L128.5,259.2 L129.6,261.0 L130.6,262.8 L131.6,264.5 L132.6,266.2 L133.6,267.9 L134.6,269.5 L135.6,271.1 L136.6,272.7 L137.6,274.2 L138.6,275.7 L139.6,277.2 L140.6,278.7 L141.6,280.2 L142.6,281.7 L143.6,283.1 L144.7,284.5 L145.7,285.9 L146.7,287.3 L147.7,288.8 L148.7,290.3 L149.7,292.0 L150.7,293.7 L151.7,295.5 L152.7,297.5 L153.7,299.5 L154.7,301.7 L155.7,304.0 L156.7,306.5 L157.7,309.2 L158.7,312.3 L159.8,315.7 L160.8,319.6 L161.8,324.0 L162.8,328.7 L163.8,333.3 L164.8,337.9 L165.8,342.2 L166.8,346.4 L167.8,350.4 L168.8,354.3 L169.8,357.8 L170.8,360.9 L171.8,363.6 L172.8,365.9 L173.8,367.8 L174.9,369.5 L175.9,371.0 L176.9,372.4 L177.9,373.5 L178.9,374.5 L179.9,375.2 L180.9,375.6 L181.9,375.8 L182.9,375.7 L183.9,375.4 L184.9,375.0 L185.9,374.4 L186.9,373.7 L187.9,373.0 L188.9,372.1 L190.0,371.2 L191.0,370.3 L192.0,369.2 L193.0,368.1 L194.0,366.8 L195.0,365.4 L196.0,363.8 L197.0,362.2 L198.0,360.4 L199.0,358.6 L200.0,356.7 L201.0,354.7 L202.0,352.6 L203.0,350.3 L204.0,347.8 L205.0,345.2 L206.1,342.6 L207.1,339.9 L208.1,337.3 L209.1,334.7 L210.1,332.2 L211.1,329.9 L212.1,327.7 L213.1,325.6 L214.1,323.5 L215.1,321.4 L216.1,319.4 L217.1,317.4 L218.1,315.4 L219.1,313.5 L220.1,311.6 L221.2,309.8 L222.2,308.1 L223.2,306.5 L224.2,305.0 L225.2,303.5 L226.2,302.2 L227.2,301.1 L228.2,300.0 L229.2,299.1 L230.2,298.3 L231.2,297.5 L232.2,296.7 L233.2,296.0 L234.2,295.4 L235.2,294.7 L236.3,294.1 L237.3,293.5 L238.3,292.9 L239.3,292.4 L240.3,291.9 L241.3,291.4 L242.3,290.9 L243.3,290.5 L244.3,290.1 L245.3,289.7 L246.3,289.4 L247.3,289.1 L248.3,288.8 L249.3,288.6 L250.3,288.4 L251.4,288.2 L252.4,288.0 L253.4,287.8 L254.4,287.7 L255.4,287.5 L256.4,287.4 L257.4,287.2 L258.4,287.1 L259.4,287.0 L260.4,286.9 L261.4,286.8 L262.4,286.8 L263.4,286.8 L264.4,286.8 L265.4,287.0 L266.5,287.2 L267.5,287.5 L268.5,288.0 L269.5,288.5 L270.5,289.0 L271.5,289.6 L272.5,290.2 L273.5,290.9 L274.5,291.7 L275.5,292.7 L276.5,293.7 L277.5,294.9 L278.5,296.2 L279.5,297.5 L280.5,298.8 L281.6,300.2 L282.6,301.5 L283.6,302.7 L284.6,303.7 L285.6,304.6 L286.6,305.3 L287.6,305.8 L288.6,306.0 L289.6,305.9 L290.6,305.6 L291.6,305.0 L292.6,304.2 L293.6,303.2 L294.6,302.0 L295.6,300.7 L296.7,299.3 L297.7,297.7 L298.7,296.0 L299.7,294.3 L300.7,292.5 L301.7,290.5 L302.7,288.2 L303.7,285.7 L304.7,282.7 L305.7,279.4 L306.7,275.7 L307.7,271.8 L308.7,267.6 L309.7,263.3 L310.7,258.8 L311.7,254.3 L312.8,249.7 L313.8,245.2 L314.8,240.8 L315.8,236.5 L316.8,232.4 L317.8,228.6 L318.8,225.0 L319.8,221.6 L320.8,218.4 L321.8,215.3 L322.8,212.3 L323.8,209.3 L324.8,206.4 L325.8,203.7 L326.8,201.0 L327.9,198.6 L328.9,196.3 L329.9,194.3 L330.9,192.6 L331.9,191.0 L332.9,189.6 L333.9,188.4 L334.9,187.2 L335.9,186.2 L336.9,185.3 L337.9,184.6 L338.9,184.1 L339.9,183.9 L340.9,184.1 L341.9,184.6 L343.0,185.5 L344.0,186.8 L345.0,188.3 L346.0,190.0 L347.0,191.9 L348.0,193.8 L349.0,195.8 L350.0,197.9 L351.0,200.2 L352.0,202.6 L353.0,205.3 L354.0,208.2 L355.0,211.2 L356.0,214.5 L357.0,218.1 L358.1,221.9 L359.1,226.2 L360.1,230.9 L361.1,236.0 L362.1,241.3 L363.1,246.9 L364.1,252.5 L365.1,258.1 L366.1,263.7 L367.1,269.3 L368.1,275.0 L369.1,280.8 L370.1,286.8 L371.1,292.9 L372.1,299.3 L373.2,306.1 L374.2,313.2 L375.2,320.6 L376.2,328.2 L377.2,336.0 L378.2,343.8 L379.2,351.5 L380.2,359.0 L381.2,366.2 L382.2,373.0 L383.2,379.4 L384.2,385.5 L385.2,391.4 L386.2,397.0 L387.2,402.4 L388.3,407.6 L389.3,412.5 L390.3,417.1 L391.3,421.3 L392.3,425.2 L393.3,428.9 L394.3,432.3 L395.3,435.7 L396.3,438.9 L397.3,441.9 L398.3,444.8 L399.3,447.4 L400.3,449.8 L401.3,452.0 L402.3,453.8 L403.3,455.4 L404.4,456.8 L405.4,458.0 L406.4,459.1 L407.4,460.2 L408.4,461.2 L409.4,462.1 L410.4,462.9 L411.4,463.7 L412.4,464.5 L413.4,465.2 L414.4,465.8 L415.4,466.4 L416.4,466.9 L417.4,467.3 L418.4,467.7 L419.5,468.1 L420.5,468.3 L421.5,468.6 L422.5,468.8 L423.5,469.0 L424.5,469.2 L425.5,469.4 L426.5,469.6 L427.5,469.7 L428.5,469.9 L429.5,470.1 L430.5,470.3 L431.5,470.4 L432.5,470.6 L433.5,470.7 L434.6,470.9 L435.6,471.0 L436.6,471.1 L437.6,471.3 L438.6,471.4 L439.6,471.5 L440.6,471.6 L441.6,471.7 L442.6,471.8 L443.6,471.9 L444.6,472.0 L445.6,472.1 L446.6,472.2 L447.6,472.3 L448.6,472.3 L449.7,472.4 L450.7,472.5 L451.7,472.5 L452.7,472.6 L453.7,472.6 L454.7,472.7 L455.7,472.7 L456.7,472.8 L457.7,472.8 L458.7,472.8 L459.7,472.8 L460.7,472.9 L461.7,472.9 L462.7,472.9 L463.7,472.9 L464.8,472.9 L465.8,473.0 L466.8,473.0 L467.8,473.0 L468.8,473.0 L469.8,473.0 L470.8,473.0 L471.8,473.1 L472.8,473.1 L473.8,473.1 L474.8,473.1 L475.8,473.1 L476.8,473.2 L477.8,473.2 L478.8,473.2 L479.9,473.2 L480.9,473.2 L481.9,473.2 L482.9,473.3 L483.9,473.3 L484.9,473.3 L485.9,473.3 L486.9,473.3 L487.9,473.3 L488.9,473.3 L489.9,473.4 L490.9,473.4 L491.9,473.4 L492.9,473.4 L493.9,473.4 L495.0,473.4 L496.0,473.4 L497.0,473.5 L498.0,473.5 L499.0,473.5 L500.0,473.5 L501.0,473.5 L502.0,473.5 L503.0,473.5 L504.0,473.6 L505.0,473.6 L506.0,473.6 L507.0,473.6 L508.0,473.6 L509.0,473.6 L510.0,473.6 L511.1,473.7 L512.1,473.7 L513.1,473.7 L514.1,473.7 L515.1,473.7 L516.1,473.7 L517.1,473.7 L518.1,473.7 L519.1,473.8 L520.1,473.8 L521.1,473.8 L522.1,473.8 L523.1,473.8 L524.1,473.8 L525.1,473.8 L526.2,473.8 L527.2,473.8 L528.2,473.9 L529.2,473.9 L530.2,473.9 L531.2,473.9 L532.2,473.9 L533.2,473.9 L534.2,473.9 L535.2,473.9 L536.2,473.9 L537.2,473.9 L538.2,474.0 L539.2,474.0 L540.2,474.0 L541.3,474.0 L542.3,474.0 L543.3,474.0 L544.3,474.0 L545.3,474.0 L546.3,474.0 L547.3,474.0 L548.3,474.0 L549.3,474.1 L550.3,474.1 L551.3,474.1 L552.3,474.1 L553.3,474.1 L554.3,474.1 L555.3,474.1 L556.4,474.1 L557.4,474.1 L558.4,474.1 L559.4,474.1 L560.4,474.1 L561.4,474.2 L562.4,474.2 L563.4,474.2 L564.4,474.2 L565.4,474.2 L566.4,474.2 L567.4,474.2 L568.4,474.2 L569.4,474.2 L570.4,474.2 L571.5,474.2 L572.5,474.2 L573.5,474.2 L574.5,474.2 L575.5,474.3 L576.5,474.3 L577.5,474.3 L578.5,474.3 L579.5,474.3 L580.5,474.3 L581.5,474.3 L582.5,474.3 L583.5,474.3 L584.5,474.3 L585.5,474.3 L586.6,474.3 L587.6,474.3 L588.6,474.3 L589.6,474.3 L590.6,474.3 L591.6,474.3 L592.6,474.3 L593.6,474.3 L594.6,474.4 L595.6,474.4 L596.6,474.4 L597.6,474.4 L598.6,474.4 L599.6,474.4 L600.6,474.4 L601.6,474.4 L602.7,474.4 L603.7,474.4 L604.7,474.4 L605.7,474.4 L606.7,474.4 L607.7,474.4 L608.7,474.4 L609.7,474.4 L610.7,474.4 L611.7,474.4 L612.7,474.4 L613.7,474.4 L614.7,474.4 L615.7,474.4 L616.7,474.4 L617.8,474.4 L618.8,474.4 L619.8,474.4 L620.8,474.4 L621.8,474.5 L622.8,474.5 L623.8,474.5 L624.8,474.5 L625.8,474.5 L626.8,474.5 L627.8,474.5 L628.8,474.5 L629.8,474.5 L630.8,474.5 L631.8,474.5 L632.9,474.5 L633.9,474.5 L634.9,474.5 L635.9,474.5 L636.9,474.5 L637.9,474.5 L638.9,474.5 L639.9,474.5 L640.9,474.5 L641.9,474.5 L642.9,474.5 L643.9,474.5 L644.9,474.5 L645.9,474.5 L646.9,474.5 L648.0,474.5 L649.0,474.5 L650.0,474.5 L651.0,474.5 L652.0,474.5 L653.0,474.5 L654.0,474.5 L655.0,474.5 L656.0,474.5 L657.0,474.5 L658.0,474.5 L659.0,474.5 L660.0,474.5 L661.0,474.5 L662.0,474.5" stroke="#a4692e"/>
<path d="M98.3,144.7 L99.4,140.3 L100.4,137.3 L101.4,134.6 L102.4,132.2 L103.4,130.2 L104.4,128.6 L105.4,127.5 L106.4,126.8 L107.4,126.5 L108.4,126.8 L109.4,127.3 L110.4,128.2 L111.4,129.3 L112.4,130.6 L113.4,132.2 L114.5,134.2 L115.5,136.4 L116.5,138.9 L117.5,141.5 L118.5,144.1 L119.5,146.6 L120.5,149.0 L121.5,151.5 L122.5,153.8 L123.5,156.2 L124.5,158.5 L125.5,160.8 L126.5,163.0 L127.5,165.3 L128.5,167.5 L129.6,169.7 L130.6,171.9 L131.6,174.1 L132.6,176.4 L133.6,178.7 L134.6,181.1 L135.6,183.6 L136.6,186.3 L137.6,189.4 L138.6,192.7 L139.6,196.1 L140.6,199.6 L141.6,203.0 L142.6,206.3 L143.6,209.4 L144.7,212.5 L145.7,215.5 L146.7,218.5 L147.7,221.6 L148.7,224.6 L149.7,227.7 L150.7,230.9 L151.7,234.2 L152.7,237.6 L153.7,241.1 L154.7,244.7 L155.7,248.3 L156.7,252.1 L157.7,256.0 L158.7,260.1 L159.8,264.2 L160.8,268.6 L161.8,273.2 L162.8,278.1 L163.8,283.4 L164.8,289.0 L165.8,294.9 L166.8,300.8 L167.8,306.7 L168.8,312.3 L169.8,317.6 L170.8,322.5 L171.8,326.9 L172.8,330.6 L173.8,333.6 L174.9,336.1 L175.9,338.2 L176.9,340.0 L177.9,341.4 L178.9,342.6 L179.9,343.5 L180.9,344.3 L181.9,344.7 L182.9,344.9 L183.9,344.8 L184.9,344.4 L185.9,343.7 L186.9,342.9 L187.9,341.8 L188.9,340.7 L190.0,339.4 L191.0,337.9 L192.0,336.3 L193.0,334.3 L194.0,332.2 L195.0,329.9 L196.0,327.5 L197.0,325.0 L198.0,322.5 L199.0,320.0 L200.0,317.4 L201.0,314.7 L202.0,312.0 L203.0,309.2 L204.0,306.3 L205.0,303.3 L206.1,300.3 L207.1,297.3 L208.1,294.3 L209.1,291.3 L210.1,288.3 L211.1,285.4 L212.1,282.5 L213.1,279.7 L214.1,277.0 L215.1,274.3 L216.1,271.8 L217.1,269.2 L218.1,266.7 L219.1,264.3 L220.1,261.8 L221.2,259.4 L222.2,257.0 L223.2,254.6 L224.2,252.2 L225.2,249.9 L226.2,247.6 L227.2,245.3 L228.2,243.1 L229.2,240.9 L230.2,238.8 L231.2,236.7 L232.2,234.6 L233.2,232.6 L234.2,230.7 L235.2,228.7 L236.3,226.8 L237.3,224.9 L238.3,223.0 L239.3,221.1 L240.3,219.2 L241.3,217.4 L242.3,215.7 L243.3,214.2 L244.3,213.0 L245.3,211.9 L246.3,211.2 L247.3,210.5 L248.3,210.1 L249.3,209.6 L250.3,209.3 L251.4,208.9 L252.4,208.7 L253.4,208.4 L254.4,208.3 L255.4,208.2 L256.4,208.1 L257.4,208.1 L258.4,208.1 L259.4,208.0 L260.4,208.0 L261.4,208.0 L262.4,208.0 L263.4,208.0 L264.4,208.0 L265.4,208.0 L266.5,208.0 L267.5,208.0 L268.5,208.1 L269.5,208.1 L270.5,208.1 L271.5,208.3 L272.5,208.7 L273.5,209.4 L274.5,210.3 L275.5,211.5 L276.5,212.9 L277.5,214.4 L278.5,216.0 L279.5,217.6 L280.5,219.2 L281.6,221.0 L282.6,222.9 L283.6,225.0 L284.6,227.1 L285.6,229.3 L286.6,231.2 L287.6,233.0 L288.6,234.3 L289.6,235.2 L290.6,235.7 L291.6,235.7 L292.6,235.4 L293.6,234.9 L294.6,234.1 L295.6,233.3 L296.7,232.3 L297.7,231.1 L298.7,229.8 L299.7,228.3 L300.7,226.5 L301.7,224.4 L302.7,222.0 L303.7,219.2 L304.7,215.8 L305.7,211.8 L306.7,207.2 L307.7,202.2 L308.7,196.8 L309.7,191.3 L310.7,185.8 L311.7,180.4 L312.8,174.9 L313.8,169.5 L314.8,164.0 L315.8,158.5 L316.8,153.0 L317.8,147.5 L318.8,142.0 L319.8,136.6 L320.8,131.3 L321.8,126.0 L322.8,120.7 L323.8,115.5 L324.8,110.5 L325.8,105.6 L326.8,101.1 L327.9,96.8 L328.9,92.7 L329.9,88.9 L330.9,85.3 L331.9,82.0 L332.9,79.0 L333.9,76.5 L334.9,74.5 L335.9,72.8 L336.9,71.3 L337.9,70.0 L338.9,68.8 L339.9,67.9 L340.9,67.1 L341.9,66.6 L343.0,66.4 L344.0,66.5 L345.0,67.1 L346.0,68.1 L347.0,69.6 L348.0,71.4 L349.0,73.5 L350.0,76.0 L351.0,78.9 L352.0,82.3 L353.0,86.3 L354.0,90.9 L355.0,96.0 L356.0,101.3 L357.0,106.6 L358.1,111.9 L359.1,117.4 L360.1,123.0 L361.1,129.0 L362.1,135.4 L363.1,142.6 L364.1,150.5 L365.1,159.2 L366.1,168.6 L367.1,178.5 L368.1,188.7 L369.1,199.1 L370.1,209.3 L371.1,219.2 L372.1,228.8 L373.2,238.2 L374.2,247.2 L375.2,256.1 L376.2,264.9 L377.2,273.5 L378.2,281.9 L379.2,290.2 L380.2,298.2 L381.2,306.2 L382.2,314.0 L383.2,321.7 L384.2,329.3 L385.2,336.8 L386.2,344.1 L387.2,351.2 L388.3,358.0 L389.3,364.6 L390.3,371.0 L391.3,377.0 L392.3,382.8 L393.3,388.4 L394.3,393.9 L395.3,399.1 L396.3,404.2 L397.3,409.0 L398.3,413.5 L399.3,417.7 L400.3,421.6 L401.3,425.1 L402.3,428.5 L403.3,431.7 L404.4,434.7 L405.4,437.6 L406.4,440.4 L407.4,443.0 L408.4,445.5 L409.4,447.8 L410.4,450.0 L411.4,451.9 L412.4,453.6 L413.4,455.0 L414.4,456.3 L415.4,457.5 L416.4,458.5 L417.4,459.5 L418.4,460.4 L419.5,461.2 L420.5,462.0 L421.5,462.8 L422.5,463.5 L423.5,464.2 L424.5,464.9 L425.5,465.4 L426.5,466.0 L427.5,466.5 L428.5,466.9 L429.5,467.4 L430.5,467.7 L431.5,468.0 L432.5,468.3 L433.5,468.6 L434.6,468.8 L435.6,469.1 L436.6,469.3 L437.6,469.5 L438.6,469.7 L439.6,470.0 L440.6,470.2 L441.6,470.3 L442.6,470.5 L443.6,470.7 L444.6,470.9 L445.6,471.0 L446.6,471.2 L447.6,471.3 L448.6,471.5 L449.7,471.6 L450.7,471.7 L451.7,471.8 L452.7,471.9 L453.7,472.0 L454.7,472.1 L455.7,472.2 L456.7,472.3 L457.7,472.3 L458.7,472.4 L459.7,472.4 L460.7,472.5 L461.7,472.5 L462.7,472.5 L463.7,472.5 L464.8,472.6 L465.8,472.6 L466.8,472.6 L467.8,472.6 L468.8,472.6 L469.8,472.7 L470.8,472.7 L471.8,472.7 L472.8,472.7 L473.8,472.8 L474.8,472.8 L475.8,472.8 L476.8,472.8 L477.8,472.8 L478.8,472.9 L479.9,472.9 L480.9,472.9 L481.9,472.9 L482.9,473.0 L483.9,473.0 L484.9,473.0 L485.9,473.0 L486.9,473.0 L487.9,473.1 L488.9,473.1 L489.9,473.1 L490.9,473.1 L491.9,473.1 L492.9,473.1 L493.9,473.2 L495.0,473.2 L496.0,473.2 L497.0,473.2 L498.0,473.2 L499.0,473.3 L500.0,473.3 L501.0,473.3 L502.0,473.3 L503.0,473.3 L504.0,473.3 L505.0,473.4 L506.0,473.4 L507.0,473.4 L508.0,473.4 L509.0,473.4 L510.0,473.4 L511.1,473.5 L512.1,473.5 L513.1,473.5 L514.1,473.5 L515.1,473.5 L516.1,473.5 L517.1,473.6 L518.1,473.6 L519.1,473.6 L520.1,473.6 L521.1,473.6 L522.1,473.6 L523.1,473.6 L524.1,473.7 L525.1,473.7 L526.2,473.7 L527.2,473.7 L528.2,473.7 L529.2,473.7 L530.2,473.7 L531.2,473.8 L532.2,473.8 L533.2,473.8 L534.2,473.8 L535.2,473.8 L536.2,473.8 L537.2,473.8 L538.2,473.8 L539.2,473.9 L540.2,473.9 L541.3,473.9 L542.3,473.9 L543.3,473.9 L544.3,473.9 L545.3,473.9 L546.3,473.9 L547.3,473.9 L548.3,474.0 L549.3,474.0 L550.3,474.0 L551.3,474.0 L552.3,474.0 L553.3,474.0 L554.3,474.0 L555.3,474.0 L556.4,474.0 L557.4,474.1 L558.4,474.1 L559.4,474.1 L560.4,474.1 L561.4,474.1 L562.4,474.1 L563.4,474.1 L564.4,474.1 L565.4,474.1 L566.4,474.1 L567.4,474.1 L568.4,474.2 L569.4,474.2 L570.4,474.2 L571.5,474.2 L572.5,474.2 L573.5,474.2 L574.5,474.2 L575.5,474.2 L576.5,474.2 L577.5,474.2 L578.5,474.2 L579.5,474.2 L580.5,474.2 L581.5,474.2 L582.5,474.3 L583.5,474.3 L584.5,474.3 L585.5,474.3 L586.6,474.3 L587.6,474.3 L588.6,474.3 L589.6,474.3 L590.6,474.3 L591.6,474.3 L592.6,474.3 L593.6,474.3 L594.6,474.3 L595.6,474.3 L596.6,474.3 L597.6,474.3 L598.6,474.4 L599.6,474.4 L600.6,474.4 L601.6,474.4 L602.7,474.4 L603.7,474.4 L604.7,474.4 L605.7,474.4 L606.7,474.4 L607.7,474.4 L608.7,474.4 L609.7,474.4 L610.7,474.4 L611.7,474.4 L612.7,474.4 L613.7,474.4 L614.7,474.4 L615.7,474.4 L616.7,474.4 L617.8,474.4 L618.8,474.4 L619.8,474.4 L620.8,474.4 L621.8,474.4 L622.8,474.4 L623.8,474.4 L624.8,474.5 L625.8,474.5 L626.8,474.5 L627.8,474.5 L628.8,474.5 L629.8,474.5 L630.8,474.5 L631.8,474.5 L632.9,474.5 L633.9,474.5 L634.9,474.5 L635.9,474.5 L636.9,474.5 L637.9,474.5 L638.9,474.5 L639.9,474.5 L640.9,474.5 L641.9,474.5 L642.9,474.5 L643.9,474.5 L644.9,474.5 L645.9,474.5 L646.9,474.5 L648.0,474.5 L649.0,474.5 L650.0,474.5 L651.0,474.5 L652.0,474.5 L653.0,474.5 L654.0,474.5 L655.0,474.5 L656.0,474.5 L657.0,474.5 L658.0,474.5 L659.0,474.5 L660.0,474.5 L661.0,474.5 L662.0,474.5" stroke="#14c43e"/>
<path d="M98.3,337.8 L99.4,353.7 L100.4,364.4 L101.4,374.5 L102.4,383.7 L103.4,391.6 L104.4,398.6 L105.4,404.6 L106.4,409.9 L107.4,414.5 L108.4,418.6 L109.4,422.4 L110.4,425.9 L111.4,429.3 L112.4,432.3 L113.4,434.9 L114.5,436.9 L115.5,438.5 L116.5,439.8 L117.5,441.0 L118.5,442.0 L119.5,442.9 L120.5,443.6 L121.5,444.3 L122.5,444.9 L123.5,445.4 L124.5,445.9 L125.5,446.2 L126.5,446.5 L127.5,446.7 L128.5,446.9 L129.6,447.1 L130.6,447.3 L131.6,447.4 L132.6,447.6 L133.6,447.7 L134.6,447.8 L135.6,447.9 L136.6,448.1 L137.6,448.2 L138.6,448.3 L139.6,448.4 L140.6,448.6 L141.6,448.7 L142.6,448.9 L143.6,449.1 L144.7,449.3 L145.7,449.5 L146.7,449.7 L147.7,449.9 L148.7,450.1 L149.7,450.3 L150.7,450.5 L151.7,450.7 L152.7,450.9 L153.7,451.2 L154.7,451.4 L155.7,451.6 L156.7,451.8 L157.7,451.9 L158.7,452.1 L159.8,452.3 L160.8,452.5 L161.8,452.6 L162.8,452.8 L163.8,452.9 L164.8,453.1 L165.8,453.2 L166.8,453.4 L167.8,453.6 L168.8,453.7 L169.8,453.9 L170.8,454.0 L171.8,454.2 L172.8,454.3 L173.8,454.5 L174.9,454.6 L175.9,454.8 L176.9,454.9 L177.9,455.0 L178.9,455.1 L179.9,455.2 L180.9,455.3 L181.9,455.4 L182.9,455.5 L183.9,455.6 L184.9,455.6 L185.9,455.7 L186.9,455.7 L187.9,455.7 L188.9,455.7 L190.0,455.7 L191.0,455.7 L192.0,455.6 L193.0,455.6 L194.0,455.5 L195.0,455.4 L196.0,455.3 L197.0,455.2 L198.0,455.1 L199.0,455.0 L200.0,454.9 L201.0,454.7 L202.0,454.6 L203.0,454.5 L204.0,454.3 L205.0,454.2 L206.1,454.1 L207.1,453.9 L208.1,453.8 L209.1,453.6 L210.1,453.5 L211.1,453.4 L212.1,453.3 L213.1,453.1 L214.1,453.0 L215.1,452.9 L216.1,452.8 L217.1,452.6 L218.1,452.5 L219.1,452.3 L220.1,452.2 L221.2,452.0 L222.2,451.9 L223.2,451.7 L224.2,451.6 L225.2,451.4 L226.2,451.3 L227.2,451.2 L228.2,451.1 L229.2,450.9 L230.2,450.8 L231.2,450.7 L232.2,450.6 L233.2,450.6 L234.2,450.5 L235.2,450.4 L236.3,450.4 L237.3,450.3 L238.3,450.3 L239.3,450.3 L240.3,450.2 L241.3,450.2 L242.3,450.2 L243.3,450.1 L244.3,450.1 L245.3,450.1 L246.3,450.1 L247.3,450.0 L248.3,450.0 L249.3,450.0 L250.3,450.0 L251.4,450.0 L252.4,450.1 L253.4,450.1 L254.4,450.2 L255.4,450.3 L256.4,450.4 L257.4,450.5 L258.4,450.6 L259.4,450.8 L260.4,450.9 L261.4,451.1 L262.4,451.2 L263.4,451.4 L264.4,451.6 L265.4,451.8 L266.5,452.0 L267.5,452.1 L268.5,452.3 L269.5,452.5 L270.5,452.7 L271.5,452.9 L272.5,453.1 L273.5,453.2 L274.5,453.4 L275.5,453.6 L276.5,453.9 L277.5,454.1 L278.5,454.3 L279.5,454.6 L280.5,454.9 L281.6,455.1 L282.6,455.4 L283.6,455.6 L284.6,455.9 L285.6,456.1 L286.6,456.3 L287.6,456.5 L288.6,456.6 L289.6,456.8 L290.6,456.8 L291.6,456.9 L292.6,456.9 L293.6,456.9 L294.6,456.8 L295.6,456.8 L296.7,456.7 L297.7,456.6 L298.7,456.5 L299.7,456.3 L300.7,456.2 L301.7,456.0 L302.7,455.9 L303.7,455.7 L304.7,455.5 L305.7,455.4 L306.7,455.2 L307.7,455.0 L308.7,454.8 L309.7,454.7 L310.7,454.5 L311.7,454.4 L312.8,454.2 L313.8,454.0 L314.8,453.9 L315.8,453.7 L316.8,453.5 L317.8,453.3 L318.8,453.1 L319.8,452.8 L320.8,452.6 L321.8,452.4 L322.8,452.2 L323.8,452.0 L324.8,451.8 L325.8,451.6 L326.8,451.4 L327.9,451.2 L328.9,451.0 L329.9,450.9 L330.9,450.7 L331.9,450.6 L332.9,450.4 L333.9,450.3 L334.9,450.2 L335.9,450.1 L336.9,450.1 L337.9,450.1 L338.9,450.0 L339.9,450.0 L340.9,450.1 L341.9,450.1 L343.0,450.2 L344.0,450.2 L345.0,450.3 L346.0,450.4 L347.0,450.5 L348.0,450.6 L349.0,450.7 L350.0,450.9 L351.0,451.0 L352.0,451.1 L353.0,451.2 L354.0,451.4 L355.0,451.5 L356.0,451.7 L357.0,451.8 L358.1,452.0 L359.1,452.2 L360.1,452.5 L361.1,452.8 L362.1,453.1 L363.1,453.5 L364.1,454.0 L365.1,454.5 L366.1,455.0 L367.1,455.6 L368.1,456.2 L369.1,456.7 L370.1,457.3 L371.1,457.8 L372.1,458.4 L373.2,458.9 L374.2,459.5 L375.2,460.0 L376.2,460.6 L377.2,461.1 L378.2,461.7 L379.2,462.2 L380.2,462.8 L381.2,463.3 L382.2,463.8 L383.2,464.2 L384.2,464.7 L385.2,465.1 L386.2,465.5 L387.2,465.8 L388.3,466.2 L389.3,466.5 L390.3,466.9 L391.3,467.2 L392.3,467.5 L393.3,467.8 L394.3,468.0 L395.3,468.3 L396.3,468.5 L397.3,468.8 L398.3,469.0 L399.3,469.2 L400.3,469.4 L401.3,469.5 L402.3,469.7 L403.3,469.9 L404.4,470.0 L405.4,470.2 L406.4,470.3 L407.4,470.5 L408.4,470.6 L409.4,470.7 L410.4,470.9 L411.4,471.0 L412.4,471.1 L413.4,471.2 L414.4,471.3 L415.4,471.4 L416.4,471.5 L417.4,471.6 L418.4,471.7 L419.5,471.8 L420.5,471.9 L421.5,472.0 L422.5,472.0 L423.5,472.1 L424.5,472.2 L425.5,472.2 L426.5,472.3 L427.5,472.4 L428.5,472.4 L429.5,472.5 L430.5,472.5 L431.5,472.6 L432.5,472.7 L433.5,472.7 L434.6,472.8 L435.6,472.8 L436.6,472.9 L437.6,473.0 L438.6,473.0 L439.6,473.1 L440.6,473.1 L441.6,473.2 L442.6,473.2 L443.6,473.2 L444.6,473.3 L445.6,473.3 L446.6,473.4 L447.6,473.4 L448.6,473.4 L449.7,473.5 L450.7,473.5 L451.7,473.5 L452.7,473.6 L453.7,473.6 L454.7,473.6 L455.7,473.6 L456.7,473.6 L457.7,473.7 L458.7,473.7 L459.7,473.7 L460.7,473.7 L461.7,473.7 L462.7,473.7 L463.7,473.7 L464.8,473.7 L465.8,473.7 L466.8,473.7 L467.8,473.7 L468.8,473.7 L469.8,473.7 L470.8,473.7 L471.8,473.7 L472.8,473.7 L473.8,473.7 L474.8,473.7 L475.8,473.8 L476.8,473.8 L477.8,473.8 L478.8,473.8 L479.9,473.8 L480.9,473.8 L481.9,473.8 L482.9,473.8 L483.9,473.8 L484.9,473.8 L485.9,473.8 L486.9,473.8 L487.9,473.8 L488.9,473.8 L489.9,473.8 L490.9,473.8 L491.9,473.8 L492.9,473.8 L493.9,473.8 L495.0,473.8 L496.0,473.8 L497.0,473.8 L498.0,473.8 L499.0,473.8 L500.0,473.8 L501.0,473.9 L502.0,473.9 L503.0,473.9 L504.0,473.9 L505.0,473.9 L506.0,473.9 L507.0,473.9 L508.0,473.9 L509.0,473.9 L510.0,473.9 L511.1,473.9 L512.1,473.9 L513.1,473.9 L514.1,473.9 L515.1,473.9 L516.1,473.9 L517.1,473.9 L518.1,473.9 L519.1,473.9 L520.1,473.9 L521.1,473.9 L522.1,473.9 L523.1,473.9 L524.1,473.9 L525.1,473.9 L526.2,473.9 L527.2,473.9 L528.2,473.9 L529.2,473.9 L530.2,473.9 L531.2,473.9 L532.2,473.9 L533.2,473.9 L534.2,474.0 L535.2,474.0 L536.2,474.0 L537.2,474.0 L538.2,474.0 L539.2,474.0 L540.2,474.0 L541.3,474.0 L542.3,474.0 L543.3,474.0 L544.3,474.0 L545.3,474.0 L546.3,474.0 L547.3,474.0 L548.3,474.0 L549.3,474.0 L550.3,474.0 L551.3,474.0 L552.3,474.0 L553.3,474.0 L554.3,474.0 L555.3,474.0 L556.4,474.0 L557.4,474.0 L558.4,474.0 L559.4,474.0 L560.4,474.0 L561.4,474.0 L562.4,474.0 L563.4,474.0 L564.4,474.0 L565.4,474.0 L566.4,474.0 L567.4,474.0 L568.4,474.0 L569.4,474.0 L570.4,474.0 L571.5,474.0 L572.5,474.0 L573.5,474.0 L574.5,474.0 L575.5,474.0 L576.5,474.0 L577.5,474.0 L578.5,474.0 L579.5,474.0 L580.5,474.0 L581.5,474.0 L582.5,474.0 L583.5,474.0 L584.5,474.0 L585.5,474.0 L586.6,474.0 L587.6,474.1 L588.6,474.1 L589.6,474.1 L590.6,474.1 L591.6,474.1 L592.6,474.1 L593.6,474.1 L594.6,474.1 L595.6,474.1 L596.6,474.1 L597.6,474.1 L598.6,474.1 L599.6,474.1 L600.6,474.1 L601.6,474.1 L602.7,474.1 L603.7,474.1 L604.7,474.1 L605.7,474.1 L606.7,474.1 L607.7,474.1 L608.7,474.1 L609.7,474.1 L610.7,474.1 L611.7,474.1 L612.7,474.1 L613.7,474.1 L614.7,474.1 L615.7,474.1 L616.7,474.1 L617.8,474.1 L618.8,474.1 L619.8,474.1 L620.8,474.1 L621.8,474.1 L622.8,474.1 L623.8,474.1 L624.8,474.1 L625.8,474.1 L626.8,474.1 L627.8,474.1 L628.8,474.1 L629.8,474.1 L630.8,474.1 L631.8,474.1 L632.9,474.1 L633.9,474.1 L634.9,474.1 L635.9,474.1 L636.9,474.1 L637.9,474.1 L638.9,474.1 L639.9,474.1 L640.9,474.1 L641.9,474.1 L642.9,474.1 L643.9,474.1 L644.9,474.1 L645.9,474.1 L646.9,474.1 L648.0,474.1 L649.0,474.1 L650.0,474.1 L651.0,474.1 L652.0,474.1 L653.0,474.1 L654.0,474.1 L655.0,474.1 L656.0,474.1 L657.0,474.1 L658.0,474.1 L659.0,474.1 L660.0,474.1 L661.0,474.1 L662.0,474.1" stroke="#c42a86"/></g>
<rect x="408.2" y="69.6" width="186.6" height="300.1" class="lg"/>
<path d="M418.1,84.0 H456.6" stroke="#000000" class="ll"/>
<text class="lt" transform="translate(459.8,88.9) scale(1.12,1)">Hexane</text>
<path d="M418.1,103.7 H456.6" stroke="#ff0000" class="ll"/>
<text class="lt" transform="translate(459.8,108.6) scale(1.12,1)">Pentane</text>
<path d="M418.1,123.5 H456.6" stroke="#0000ff" class="ll"/>
<text class="lt" transform="translate(459.8,128.4) scale(1.12,1)">Heptane</text>
<path d="M418.1,143.2 H456.6" stroke="#ff00ff" class="ll"/>
<text class="lt" transform="translate(459.8,148.1) scale(1.12,1)">Cyclohexane</text>
<path d="M418.1,163.0 H456.6" stroke="#008000" class="ll"/>
<text class="lt" transform="translate(459.8,167.9) scale(1.12,1)">Diethyl ether</text>
<path d="M418.1,182.7 H456.6" stroke="#000080" class="ll"/>
<text class="lt" transform="translate(459.8,187.6) scale(1.12,1)">Ethyl acetate</text>
<path d="M418.1,202.4 H456.6" stroke="#8000ff" class="ll"/>
<text class="lt" transform="translate(459.8,207.3) scale(1.12,1)">THF</text>
<path d="M418.1,222.2 H456.6" stroke="#800080" class="ll"/>
<text class="lt" transform="translate(459.8,227.1) scale(1.12,1)">Dichloromethane</text>
<path d="M418.1,241.9 H456.6" stroke="#800000" class="ll"/>
<text class="lt" transform="translate(459.8,246.8) scale(1.12,1)">Isopropanol</text>
<path d="M418.1,261.7 H456.6" stroke="#808000" class="ll"/>
<text class="lt" transform="translate(459.8,266.6) scale(1.12,1)">Acetone</text>
<path d="M418.1,281.4 H456.6" stroke="#3a6eb5" class="ll"/>
<text class="lt" transform="translate(459.8,286.3) scale(1.12,1)">Ethanol</text>
<path d="M418.1,301.1 H456.6" stroke="#169b9b" class="ll"/>
<text class="lt" transform="translate(459.8,306.0) scale(1.12,1)">Methanol</text>
<path d="M418.1,320.9 H456.6" stroke="#a4692e" class="ll"/>
<text class="lt" transform="translate(459.8,325.8) scale(1.12,1)">Acetonitrile</text>
<path d="M418.1,340.6 H456.6" stroke="#14c43e" class="ll"/>
<text class="lt" transform="translate(459.8,345.5) scale(1.12,1)">DMF</text>
<path d="M418.1,360.4 H456.6" stroke="#c42a86" class="ll"/>
<text class="lt" transform="translate(459.8,365.3) scale(1.12,1)">DMSO</text>
</g>
<g id="pb">
<text class="lab" x="10.5" y="605.8" font-size="32">b</text>
<path class="ax axb" d="M87.2,608.7 V1053.5 M78.9,1048.9 H610.6"/>
<path class="ax axb" d="M78.9,1048.9 H87.2 M78.9,969.0 H87.2 M78.9,889.0 H87.2 M78.9,809.1 H87.2 M78.9,729.1 H87.2 M78.9,649.2 H87.2 M82.6,1008.9 H87.2 M82.6,929.0 H87.2 M82.6,849.1 H87.2 M82.6,769.1 H87.2 M82.6,689.2 H87.2 M82.6,609.2 H87.2 M134.7,1048.9 V1057.8 M229.8,1048.9 V1057.8 M324.8,1048.9 V1057.8 M419.8,1048.9 V1057.8 M514.9,1048.9 V1057.8 M609.9,1048.9 V1057.8 M182.2,1048.9 V1053.5 M277.3,1048.9 V1053.5 M372.3,1048.9 V1053.5 M467.3,1048.9 V1053.5 M562.4,1048.9 V1053.5"/>
<text class="tlb" x="73.4" y="1054.3" text-anchor="end">0.0</text>
<text class="tlb" x="73.4" y="974.4" text-anchor="end">0.2</text>
<text class="tlb" x="73.4" y="894.4" text-anchor="end">0.4</text>
<text class="tlb" x="73.4" y="814.5" text-anchor="end">0.6</text>
<text class="tlb" x="73.4" y="734.5" text-anchor="end">0.8</text>
<text class="tlb" x="73.4" y="654.6" text-anchor="end">1.0</text>
<text class="tlb" x="134.7" y="1078.3" text-anchor="middle">400</text>
<text class="tlb" x="229.8" y="1078.3" text-anchor="middle">450</text>
<text class="tlb" x="324.8" y="1078.3" text-anchor="middle">500</text>
<text class="tlb" x="419.8" y="1078.3" text-anchor="middle">550</text>
<text class="tlb" x="514.9" y="1078.3" text-anchor="middle">600</text>
<text class="tlb" x="609.9" y="1078.3" text-anchor="middle">650</text>
<text class="ti" transform="translate(255.8,1117.8) scale(0.972,1)">Wavelength (nm)</text>
<text class="ti" transform="translate(28.3,950.4) rotate(-90)">Normalised Intensity</text>
<g class="cv"><path d="M87.2,1020.8 L88.2,1018.2 L89.1,1015.9 L90.1,1013.7 L91.0,1011.4 L92.0,1009.0 L92.9,1006.4 L93.9,1003.7 L94.8,1000.9 L95.8,997.9 L96.7,994.9 L97.7,991.7 L98.6,988.4 L99.6,985.1 L100.5,981.8 L101.5,978.6 L102.4,975.6 L103.4,972.7 L104.3,970.0 L105.3,967.5 L106.2,965.1 L107.2,962.9 L108.1,960.8 L109.1,958.7 L110.0,956.8 L111.0,955.0 L111.9,953.3 L112.9,951.7 L113.8,950.1 L114.8,948.5 L115.7,947.0 L116.7,945.6 L117.6,944.1 L118.6,942.6 L119.5,941.2 L120.5,939.8 L121.4,938.3 L122.4,936.9 L123.3,935.6 L124.3,934.2 L125.2,932.8 L126.2,931.4 L127.1,929.9 L128.1,928.5 L129.0,927.0 L130.0,925.5 L130.9,923.9 L131.9,922.3 L132.8,920.7 L133.8,919.0 L134.7,917.3 L135.7,915.6 L136.6,913.8 L137.6,912.1 L138.5,910.3 L139.5,908.4 L140.4,906.5 L141.4,904.7 L142.3,902.7 L143.3,900.8 L144.2,898.8 L145.2,896.8 L146.1,894.8 L147.1,892.7 L148.0,890.6 L149.0,888.6 L149.9,886.5 L150.9,884.3 L151.8,882.2 L152.8,879.9 L153.7,877.5 L154.7,874.9 L155.6,872.1 L156.6,868.9 L157.5,865.4 L158.5,861.4 L159.4,857.0 L160.4,852.0 L161.3,846.4 L162.3,840.3 L163.2,833.7 L164.2,826.4 L165.1,818.5 L166.1,810.0 L167.0,800.8 L168.0,790.9 L168.9,780.6 L169.9,770.1 L170.8,759.7 L171.8,749.8 L172.7,740.7 L173.7,732.5 L174.6,725.2 L175.6,718.7 L176.5,713.0 L177.5,707.7 L178.4,702.7 L179.4,698.0 L180.3,693.5 L181.3,689.0 L182.2,684.5 L183.2,680.1 L184.1,675.7 L185.1,671.5 L186.0,667.4 L187.0,663.6 L187.9,660.1 L188.9,657.0 L189.8,654.4 L190.8,652.2 L191.7,650.6 L192.7,649.6 L193.6,649.3 L194.6,649.6 L195.5,650.5 L196.5,651.9 L197.4,653.7 L198.4,655.8 L199.3,658.2 L200.3,661.0 L201.2,664.1 L202.2,667.4 L203.1,670.9 L204.1,674.5 L205.0,678.0 L206.0,681.4 L206.9,684.6 L207.9,687.7 L208.8,690.8 L209.8,693.8 L210.7,697.0 L211.7,700.3 L212.6,703.9 L213.6,707.6 L214.5,711.6 L215.5,715.7 L216.4,720.0 L217.4,724.3 L218.3,728.7 L219.3,733.1 L220.2,737.4 L221.2,741.7 L222.1,746.1 L223.1,750.4 L224.1,754.7 L225.0,759.0 L226.0,763.3 L226.9,767.7 L227.9,772.2 L228.8,776.7 L229.8,781.3 L230.7,785.9 L231.7,790.5 L232.6,795.0 L233.6,799.4 L234.5,803.6 L235.5,807.6 L236.4,811.4 L237.4,815.1 L238.3,818.8 L239.3,822.4 L240.2,826.0 L241.2,829.7 L242.1,833.5 L243.1,837.3 L244.0,841.1 L245.0,844.8 L245.9,848.5 L246.9,852.1 L247.8,855.5 L248.8,858.8 L249.7,862.0 L250.7,865.0 L251.6,868.0 L252.6,870.9 L253.5,873.9 L254.5,877.0 L255.4,880.1 L256.4,883.4 L257.3,886.7 L258.3,890.0 L259.2,893.3 L260.2,896.6 L261.1,899.7 L262.1,902.8 L263.0,905.7 L264.0,908.5 L264.9,911.2 L265.9,913.9 L266.8,916.6 L267.8,919.3 L268.7,922.0 L269.7,924.7 L270.6,927.4 L271.6,930.0 L272.5,932.6 L273.5,935.1 L274.4,937.5 L275.4,939.8 L276.3,942.1 L277.3,944.2 L278.2,946.3 L279.2,948.3 L280.1,950.3 L281.1,952.1 L282.0,954.0 L283.0,955.7 L283.9,957.4 L284.9,959.1 L285.8,960.7 L286.8,962.4 L287.7,964.0 L288.7,965.6 L289.6,967.2 L290.6,968.7 L291.5,970.3 L292.5,971.8 L293.4,973.3 L294.4,974.7 L295.3,976.1 L296.3,977.5 L297.2,978.7 L298.2,980.0 L299.1,981.1 L300.1,982.3 L301.0,983.5 L302.0,984.6 L302.9,985.8 L303.9,987.0 L304.8,988.2 L305.8,989.5 L306.7,990.8 L307.7,992.2 L308.6,993.5 L309.6,994.9 L310.5,996.2 L311.5,997.6 L312.4,998.9 L313.4,1000.2 L314.3,1001.4 L315.3,1002.6 L316.2,1003.7 L317.2,1004.8 L318.1,1005.8 L319.1,1006.8 L320.0,1007.7 L321.0,1008.7 L321.9,1009.6 L322.9,1010.4 L323.8,1011.3 L324.8,1012.1 L325.7,1012.9 L326.7,1013.6 L327.6,1014.4 L328.6,1015.1 L329.5,1015.8 L330.5,1016.4 L331.4,1017.1 L332.4,1017.7 L333.3,1018.4 L334.3,1019.0 L335.2,1019.6 L336.2,1020.2 L337.1,1020.7 L338.1,1021.3 L339.0,1021.8 L340.0,1022.4 L340.9,1022.9 L341.9,1023.4 L342.8,1023.9 L343.8,1024.4 L344.7,1024.8 L345.7,1025.3 L346.6,1025.8 L347.6,1026.2 L348.5,1026.7 L349.5,1027.1 L350.4,1027.5 L351.4,1027.9 L352.3,1028.3 L353.3,1028.7 L354.2,1029.1 L355.2,1029.5 L356.1,1029.9 L357.1,1030.3 L358.0,1030.7 L359.0,1031.0 L360.0,1031.4 L360.9,1031.8 L361.9,1032.2 L362.8,1032.5 L363.8,1032.9 L364.7,1033.3 L365.7,1033.6 L366.6,1034.0 L367.6,1034.3 L368.5,1034.6 L369.5,1035.0 L370.4,1035.2 L371.4,1035.5 L372.3,1035.8 L373.3,1036.0 L374.2,1036.3 L375.2,1036.5 L376.1,1036.7 L377.1,1036.9 L378.0,1037.1 L379.0,1037.3 L379.9,1037.5 L380.9,1037.6 L381.8,1037.8 L382.8,1038.0 L383.7,1038.2 L384.7,1038.3 L385.6,1038.5 L386.6,1038.7 L387.5,1038.9 L388.5,1039.1 L389.4,1039.2 L390.4,1039.4 L391.3,1039.6 L392.3,1039.8 L393.2,1040.0 L394.2,1040.2 L395.1,1040.4 L396.1,1040.6 L397.0,1040.7 L398.0,1040.9 L398.9,1041.1 L399.9,1041.2 L400.8,1041.4 L401.8,1041.5 L402.7,1041.7 L403.7,1041.8 L404.6,1041.9 L405.6,1042.1 L406.5,1042.2 L407.5,1042.3 L408.4,1042.5 L409.4,1042.6 L410.3,1042.7 L411.3,1042.8 L412.2,1042.9 L413.2,1043.0 L414.1,1043.1 L415.1,1043.2 L416.0,1043.3 L417.0,1043.4 L417.9,1043.5 L418.9,1043.6 L419.8,1043.7 L420.8,1043.7 L421.7,1043.8 L422.7,1043.9 L423.6,1044.0 L424.6,1044.0 L425.5,1044.1 L426.5,1044.1 L427.4,1044.2 L428.4,1044.3 L429.3,1044.3 L430.3,1044.4 L431.2,1044.5 L432.2,1044.5 L433.1,1044.6 L434.1,1044.6 L435.0,1044.7 L436.0,1044.7 L436.9,1044.8 L437.9,1044.8 L438.8,1044.9 L439.8,1044.9 L440.7,1045.0 L441.7,1045.0 L442.6,1045.1 L443.6,1045.1 L444.5,1045.2 L445.5,1045.2 L446.4,1045.3 L447.4,1045.3 L448.3,1045.3 L449.3,1045.4 L450.2,1045.4 L451.2,1045.5 L452.1,1045.5 L453.1,1045.6 L454.0,1045.6 L455.0,1045.6 L455.9,1045.7 L456.9,1045.7 L457.8,1045.7 L458.8,1045.8 L459.7,1045.8 L460.7,1045.8 L461.6,1045.9 L462.6,1045.9 L463.5,1046.0 L464.5,1046.0 L465.4,1046.0 L466.4,1046.1 L467.3,1046.1 L468.3,1046.1 L469.2,1046.2 L470.2,1046.2 L471.1,1046.2 L472.1,1046.2 L473.0,1046.3 L474.0,1046.3 L474.9,1046.3 L475.9,1046.4 L476.8,1046.4 L477.8,1046.4 L478.7,1046.5 L479.7,1046.5 L480.6,1046.5 L481.6,1046.6 L482.5,1046.6 L483.5,1046.6 L484.4,1046.6 L485.4,1046.7 L486.3,1046.7 L487.3,1046.7 L488.2,1046.8 L489.2,1046.8 L490.1,1046.8 L491.1,1046.8 L492.0,1046.9 L493.0,1046.9 L493.9,1046.9 L494.9,1046.9 L495.9,1047.0 L496.8,1047.0 L497.8,1047.0 L498.7,1047.0 L499.7,1047.0 L500.6,1047.1 L501.6,1047.1 L502.5,1047.1 L503.5,1047.1 L504.4,1047.1 L505.4,1047.2 L506.3,1047.2 L507.3,1047.2 L508.2,1047.2 L509.2,1047.2 L510.1,1047.2 L511.1,1047.3 L512.0,1047.3 L513.0,1047.3" stroke="#000000"/>
<path d="M87.2,1026.8 L88.2,1024.2 L89.1,1021.9 L90.1,1019.6 L91.0,1017.4 L92.0,1015.0 L92.9,1012.6 L93.9,1010.0 L94.8,1007.4 L95.8,1004.7 L96.7,1001.9 L97.7,999.1 L98.6,996.1 L99.6,993.0 L100.5,989.8 L101.5,986.6 L102.4,983.3 L103.4,980.2 L104.3,977.2 L105.3,974.3 L106.2,971.6 L107.2,969.0 L108.1,966.6 L109.1,964.3 L110.0,962.1 L111.0,960.1 L111.9,958.1 L112.9,956.3 L113.8,954.6 L114.8,952.9 L115.7,951.3 L116.7,949.7 L117.6,948.2 L118.6,946.7 L119.5,945.2 L120.5,943.7 L121.4,942.3 L122.4,940.9 L123.3,939.5 L124.3,938.1 L125.2,936.7 L126.2,935.3 L127.1,934.0 L128.1,932.6 L129.0,931.1 L130.0,929.7 L130.9,928.1 L131.9,926.5 L132.8,924.9 L133.8,923.1 L134.7,921.4 L135.7,919.5 L136.6,917.6 L137.6,915.7 L138.5,913.7 L139.5,911.7 L140.4,909.6 L141.4,907.5 L142.3,905.4 L143.3,903.2 L144.2,901.1 L145.2,898.9 L146.1,896.7 L147.1,894.6 L148.0,892.4 L149.0,890.2 L149.9,888.1 L150.9,885.9 L151.8,883.7 L152.8,881.5 L153.7,879.1 L154.7,876.6 L155.6,873.9 L156.6,871.0 L157.5,867.7 L158.5,864.1 L159.4,860.2 L160.4,855.8 L161.3,851.0 L162.3,845.8 L163.2,840.2 L164.2,834.2 L165.1,827.8 L166.1,820.7 L167.0,813.1 L168.0,804.9 L168.9,795.9 L169.9,786.4 L170.8,776.3 L171.8,766.0 L172.7,755.8 L173.7,746.2 L174.6,737.3 L175.6,729.3 L176.5,722.2 L177.5,715.8 L178.4,710.0 L179.4,704.7 L180.3,699.7 L181.3,694.9 L182.2,690.2 L183.2,685.7 L184.1,681.2 L185.1,676.8 L186.0,672.6 L187.0,668.6 L187.9,664.8 L188.9,661.4 L189.8,658.3 L190.8,655.6 L191.7,653.3 L192.7,651.5 L193.6,650.2 L194.6,649.4 L195.5,649.3 L196.5,649.7 L197.4,650.7 L198.4,652.0 L199.3,653.6 L200.3,655.5 L201.2,657.5 L202.2,659.6 L203.1,661.8 L204.1,664.1 L205.0,666.6 L206.0,669.1 L206.9,671.8 L207.9,674.5 L208.8,677.3 L209.8,680.2 L210.7,683.2 L211.7,686.3 L212.6,689.5 L213.6,692.9 L214.5,696.4 L215.5,700.1 L216.4,704.0 L217.4,708.1 L218.3,712.3 L219.3,716.7 L220.2,721.2 L221.2,725.8 L222.1,730.3 L223.1,734.8 L224.1,739.3 L225.0,743.7 L226.0,748.0 L226.9,752.3 L227.9,756.5 L228.8,760.9 L229.8,765.3 L230.7,769.8 L231.7,774.6 L232.6,779.6 L233.6,784.7 L234.5,790.0 L235.5,795.2 L236.4,800.3 L237.4,805.1 L238.3,809.6 L239.3,813.8 L240.2,817.9 L241.2,821.9 L242.1,825.8 L243.1,829.8 L244.0,833.9 L245.0,837.9 L245.9,841.9 L246.9,845.9 L247.8,849.7 L248.8,853.4 L249.7,856.9 L250.7,860.2 L251.6,863.4 L252.6,866.5 L253.5,869.6 L254.5,872.6 L255.4,875.7 L256.4,878.9 L257.3,882.2 L258.3,885.6 L259.2,889.0 L260.2,892.5 L261.1,895.8 L262.1,899.1 L263.0,902.2 L264.0,905.1 L264.9,908.0 L265.9,910.7 L266.8,913.4 L267.8,916.1 L268.7,918.8 L269.7,921.5 L270.6,924.2 L271.6,926.9 L272.5,929.5 L273.5,932.1 L274.4,934.6 L275.4,937.0 L276.3,939.4 L277.3,941.6 L278.2,943.8 L279.2,945.9 L280.1,947.9 L281.1,949.9 L282.0,951.8 L283.0,953.6 L283.9,955.4 L284.9,957.1 L285.8,958.8 L286.8,960.4 L287.7,962.1 L288.7,963.7 L289.6,965.3 L290.6,966.9 L291.5,968.5 L292.5,970.1 L293.4,971.7 L294.4,973.2 L295.3,974.7 L296.3,976.1 L297.2,977.4 L298.2,978.7 L299.1,980.0 L300.1,981.2 L301.0,982.3 L302.0,983.5 L302.9,984.6 L303.9,985.8 L304.8,987.0 L305.8,988.3 L306.7,989.5 L307.7,990.9 L308.6,992.2 L309.6,993.5 L310.5,994.9 L311.5,996.2 L312.4,997.6 L313.4,998.9 L314.3,1000.2 L315.3,1001.4 L316.2,1002.6 L317.2,1003.7 L318.1,1004.8 L319.1,1005.8 L320.0,1006.8 L321.0,1007.7 L321.9,1008.7 L322.9,1009.6 L323.8,1010.4 L324.8,1011.3 L325.7,1012.1 L326.7,1012.9 L327.6,1013.6 L328.6,1014.4 L329.5,1015.1 L330.5,1015.8 L331.4,1016.5 L332.4,1017.1 L333.3,1017.8 L334.3,1018.4 L335.2,1019.0 L336.2,1019.6 L337.1,1020.2 L338.1,1020.7 L339.0,1021.3 L340.0,1021.8 L340.9,1022.3 L341.9,1022.9 L342.8,1023.4 L343.8,1023.9 L344.7,1024.4 L345.7,1024.9 L346.6,1025.3 L347.6,1025.8 L348.5,1026.3 L349.5,1026.7 L350.4,1027.1 L351.4,1027.6 L352.3,1028.0 L353.3,1028.4 L354.2,1028.8 L355.2,1029.2 L356.1,1029.6 L357.1,1030.0 L358.0,1030.4 L359.0,1030.8 L360.0,1031.2 L360.9,1031.6 L361.9,1032.0 L362.8,1032.4 L363.8,1032.7 L364.7,1033.1 L365.7,1033.5 L366.6,1033.8 L367.6,1034.2 L368.5,1034.5 L369.5,1034.8 L370.4,1035.1 L371.4,1035.4 L372.3,1035.7 L373.3,1035.9 L374.2,1036.2 L375.2,1036.4 L376.1,1036.6 L377.1,1036.8 L378.0,1037.0 L379.0,1037.2 L379.9,1037.4 L380.9,1037.6 L381.8,1037.8 L382.8,1037.9 L383.7,1038.1 L384.7,1038.3 L385.6,1038.4 L386.6,1038.6 L387.5,1038.8 L388.5,1039.0 L389.4,1039.2 L390.4,1039.4 L391.3,1039.5 L392.3,1039.7 L393.2,1039.9 L394.2,1040.1 L395.1,1040.3 L396.1,1040.5 L397.0,1040.7 L398.0,1040.8 L398.9,1041.0 L399.9,1041.2 L400.8,1041.3 L401.8,1041.5 L402.7,1041.6 L403.7,1041.7 L404.6,1041.9 L405.6,1042.0 L406.5,1042.2 L407.5,1042.3 L408.4,1042.4 L409.4,1042.5 L410.3,1042.7 L411.3,1042.8 L412.2,1042.9 L413.2,1043.0 L414.1,1043.1 L415.1,1043.2 L416.0,1043.3 L417.0,1043.4 L417.9,1043.5 L418.9,1043.6 L419.8,1043.7 L420.8,1043.8 L421.7,1043.8 L422.7,1043.9 L423.6,1044.0 L424.6,1044.1 L425.5,1044.1 L426.5,1044.2 L427.4,1044.3 L428.4,1044.4 L429.3,1044.4 L430.3,1044.5 L431.2,1044.6 L432.2,1044.6 L433.1,1044.7 L434.1,1044.8 L435.0,1044.8 L436.0,1044.9 L436.9,1045.0 L437.9,1045.0 L438.8,1045.1 L439.8,1045.1 L440.7,1045.2 L441.7,1045.3 L442.6,1045.3 L443.6,1045.4 L444.5,1045.4 L445.5,1045.5 L446.4,1045.5 L447.4,1045.6 L448.3,1045.6 L449.3,1045.7 L450.2,1045.7 L451.2,1045.8 L452.1,1045.8 L453.1,1045.9 L454.0,1045.9 L455.0,1046.0 L455.9,1046.0 L456.9,1046.1 L457.8,1046.1 L458.8,1046.1 L459.7,1046.2 L460.7,1046.2 L461.6,1046.3 L462.6,1046.3 L463.5,1046.3 L464.5,1046.4 L465.4,1046.4 L466.4,1046.5 L467.3,1046.5 L468.3,1046.5 L469.2,1046.6 L470.2,1046.6 L471.1,1046.6 L472.1,1046.7 L473.0,1046.7 L474.0,1046.7 L474.9,1046.8 L475.9,1046.8 L476.8,1046.8 L477.8,1046.9 L478.7,1046.9 L479.7,1046.9 L480.6,1047.0 L481.6,1047.0 L482.5,1047.0 L483.5,1047.0 L484.4,1047.1 L485.4,1047.1 L486.3,1047.1 L487.3,1047.2 L488.2,1047.2 L489.2,1047.2 L490.1,1047.2 L491.1,1047.3 L492.0,1047.3 L493.0,1047.3 L493.9,1047.3 L494.9,1047.4 L495.9,1047.4 L496.8,1047.4 L497.8,1047.4 L498.7,1047.5 L499.7,1047.5 L500.6,1047.5 L501.6,1047.5 L502.5,1047.5 L503.5,1047.6 L504.4,1047.6 L505.4,1047.6 L506.3,1047.6 L507.3,1047.6 L508.2,1047.6 L509.2,1047.6 L510.1,1047.7 L511.1,1047.7 L512.0,1047.7 L513.0,1047.7" stroke="#ff0000"/>
<path d="M102.8,963.2 L103.7,969.3 L104.7,974.0 L105.6,978.1 L106.6,982.1 L107.5,986.1 L108.5,989.8 L109.4,993.4 L110.4,996.7 L111.3,999.7 L112.3,1002.3 L113.2,1004.5 L114.2,1006.1 L115.1,1007.3 L116.1,1008.0 L117.0,1008.5 L118.0,1008.6 L118.9,1008.6 L119.9,1008.4 L120.8,1007.9 L121.8,1007.0 L122.7,1005.7 L123.7,1004.0 L124.6,1001.8 L125.6,999.2 L126.5,996.3 L127.5,993.2 L128.4,989.9 L129.4,986.3 L130.3,982.6 L131.3,978.9 L132.2,975.1 L133.2,971.4 L134.1,967.9 L135.1,964.6 L136.0,961.7 L137.0,959.1 L137.9,956.7 L138.9,954.6 L139.8,952.7 L140.8,951.1 L141.8,949.7 L142.7,948.4 L143.7,947.4 L144.6,946.4 L145.6,945.6 L146.5,944.9 L147.5,944.3 L148.4,943.8 L149.4,943.3 L150.3,943.0 L151.3,942.7 L152.2,942.5 L153.2,942.3 L154.1,942.1 L155.1,941.9 L156.0,941.7 L157.0,941.5 L157.9,941.3 L158.9,941.0 L159.8,940.6 L160.8,940.2 L161.7,939.8 L162.7,939.3 L163.6,938.7 L164.6,938.0 L165.5,937.3 L166.5,936.4 L167.4,935.4 L168.4,934.3 L169.3,933.0 L170.3,931.7 L171.2,930.5 L172.2,929.2 L173.1,928.1 L174.1,927.0 L175.0,925.9 L176.0,924.9 L176.9,924.0 L177.9,923.0 L178.8,922.1 L179.8,921.1 L180.7,920.2 L181.7,919.2 L182.6,918.2 L183.6,917.1 L184.5,915.9 L185.5,914.7 L186.4,913.4 L187.4,912.0 L188.3,910.4 L189.3,908.7 L190.2,906.9 L191.2,904.9 L192.1,902.8 L193.1,900.5 L194.0,897.9 L195.0,895.2 L195.9,892.1 L196.9,888.8 L197.8,885.1 L198.8,880.9 L199.7,876.3 L200.7,871.3 L201.6,865.8 L202.6,860.0 L203.5,853.8 L204.5,847.3 L205.4,840.4 L206.4,833.2 L207.3,825.7 L208.3,817.7 L209.2,809.4 L210.2,800.7 L211.1,791.7 L212.1,782.3 L213.0,772.7 L214.0,762.9 L214.9,753.3 L215.9,744.0 L216.8,735.1 L217.8,726.8 L218.7,718.9 L219.7,711.5 L220.6,704.6 L221.6,697.9 L222.5,691.7 L223.5,685.8 L224.4,680.3 L225.4,675.3 L226.3,670.7 L227.3,666.7 L228.2,663.2 L229.2,660.2 L230.1,657.7 L231.1,655.7 L232.0,654.0 L233.0,652.6 L233.9,651.5 L234.9,650.6 L235.8,649.9 L236.8,649.4 L237.7,649.2 L238.7,649.3 L239.6,649.6 L240.6,650.2 L241.5,651.1 L242.5,652.1 L243.4,653.3 L244.4,654.7 L245.3,656.3 L246.3,658.1 L247.2,660.0 L248.2,662.2 L249.1,664.4 L250.1,666.9 L251.0,669.4 L252.0,672.0 L252.9,674.7 L253.9,677.4 L254.8,680.2 L255.8,683.0 L256.7,686.0 L257.7,689.3 L258.6,692.9 L259.6,697.0 L260.5,701.5 L261.5,706.4 L262.4,711.6 L263.4,717.1 L264.3,722.5 L265.3,728.0 L266.2,733.2 L267.2,738.2 L268.1,742.7 L269.1,746.8 L270.0,750.5 L271.0,754.0 L271.9,757.2 L272.9,760.3 L273.8,763.5 L274.8,766.9 L275.7,770.4 L276.7,774.0 L277.7,777.8 L278.6,781.7 L279.6,785.7 L280.5,789.8 L281.5,794.0 L282.4,798.2 L283.4,802.6 L284.3,807.0 L285.3,811.4 L286.2,816.0 L287.2,820.5 L288.1,825.0 L289.1,829.4 L290.0,833.7 L291.0,837.9 L291.9,842.0 L292.9,845.9 L293.8,849.8 L294.8,853.6 L295.7,857.4 L296.7,861.1 L297.6,864.7 L298.6,868.2 L299.5,871.7 L300.5,875.2 L301.4,878.6 L302.4,881.9 L303.3,885.3 L304.3,888.6 L305.2,891.8 L306.2,895.1 L307.1,898.3 L308.1,901.4 L309.0,904.5 L310.0,907.5 L310.9,910.4 L311.9,913.2 L312.8,915.9 L313.8,918.5 L314.7,921.0 L315.7,923.3 L316.6,925.6 L317.6,927.7 L318.5,929.8 L319.5,931.8 L320.4,933.7 L321.4,935.6 L322.3,937.4 L323.3,939.2 L324.2,941.0 L325.2,942.7 L326.1,944.5 L327.1,946.2 L328.0,947.9 L329.0,949.6 L329.9,951.3 L330.9,953.0 L331.8,954.7 L332.8,956.3 L333.7,958.0 L334.7,959.6 L335.6,961.2 L336.6,962.9 L337.5,964.5 L338.5,966.2 L339.4,967.9 L340.4,969.6 L341.3,971.3 L342.3,973.0 L343.2,974.6 L344.2,976.2 L345.1,977.8 L346.1,979.3 L347.0,980.7 L348.0,982.0 L348.9,983.2 L349.9,984.4 L350.8,985.6 L351.8,986.7 L352.7,987.8 L353.7,988.9 L354.6,990.0 L355.6,991.2 L356.5,992.3 L357.5,993.5 L358.4,994.6 L359.4,995.8 L360.3,996.8 L361.3,997.9 L362.2,998.9 L363.2,999.9 L364.1,1000.8 L365.1,1001.7 L366.0,1002.6 L367.0,1003.5 L367.9,1004.3 L368.9,1005.2 L369.8,1006.0 L370.8,1006.8 L371.7,1007.6 L372.7,1008.3 L373.6,1009.1 L374.6,1009.8 L375.5,1010.6 L376.5,1011.3 L377.4,1012.0 L378.4,1012.7 L379.3,1013.4 L380.3,1014.0 L381.2,1014.7 L382.2,1015.3 L383.1,1016.0 L384.1,1016.6 L385.0,1017.2 L386.0,1017.9 L386.9,1018.5 L387.9,1019.1 L388.8,1019.6 L389.8,1020.2 L390.7,1020.8 L391.7,1021.3 L392.6,1021.9 L393.6,1022.4 L394.5,1022.9 L395.5,1023.4 L396.4,1023.9 L397.4,1024.4 L398.3,1024.8 L399.3,1025.3 L400.2,1025.7 L401.2,1026.1 L402.1,1026.6 L403.1,1027.0 L404.0,1027.3 L405.0,1027.7 L405.9,1028.1 L406.9,1028.5 L407.8,1028.9 L408.8,1029.2 L409.7,1029.6 L410.7,1029.9 L411.6,1030.2 L412.6,1030.5 L413.6,1030.9 L414.5,1031.2 L415.5,1031.4 L416.4,1031.7 L417.4,1032.0 L418.3,1032.3 L419.3,1032.5 L420.2,1032.8 L421.2,1033.0 L422.1,1033.2 L423.1,1033.5 L424.0,1033.7 L425.0,1033.9 L425.9,1034.1 L426.9,1034.3 L427.8,1034.5 L428.8,1034.7 L429.7,1034.9 L430.7,1035.2 L431.6,1035.4 L432.6,1035.5 L433.5,1035.7 L434.5,1035.9 L435.4,1036.1 L436.4,1036.3 L437.3,1036.5 L438.3,1036.7 L439.2,1036.9 L440.2,1037.0 L441.1,1037.2 L442.1,1037.4 L443.0,1037.5 L444.0,1037.7 L444.9,1037.9 L445.9,1038.0 L446.8,1038.2 L447.8,1038.3 L448.7,1038.5 L449.7,1038.6 L450.6,1038.8 L451.6,1038.9 L452.5,1039.1 L453.5,1039.2 L454.4,1039.3 L455.4,1039.5 L456.3,1039.6 L457.3,1039.7 L458.2,1039.8 L459.2,1040.0 L460.1,1040.1 L461.1,1040.2 L462.0,1040.3 L463.0,1040.4 L463.9,1040.5 L464.9,1040.6 L465.8,1040.7 L466.8,1040.8 L467.7,1040.9 L468.7,1041.0 L469.6,1041.1 L470.6,1041.2 L471.5,1041.3 L472.5,1041.4 L473.4,1041.5 L474.4,1041.6 L475.3,1041.7 L476.3,1041.8 L477.2,1041.8 L478.2,1041.9 L479.1,1042.0 L480.1,1042.1 L481.0,1042.2 L482.0,1042.3 L482.9,1042.4 L483.9,1042.4 L484.8,1042.5 L485.8,1042.6 L486.7,1042.7 L487.7,1042.7 L488.6,1042.8 L489.6,1042.9 L490.5,1043.0 L491.5,1043.0 L492.4,1043.1 L493.4,1043.2 L494.3,1043.2 L495.3,1043.3 L496.2,1043.4 L497.2,1043.4 L498.1,1043.5 L499.1,1043.5 L500.0,1043.6 L501.0,1043.6 L501.9,1043.7 L502.9,1043.7 L503.8,1043.8 L504.8,1043.8 L505.7,1043.9 L506.7,1043.9 L507.6,1043.9 L508.6,1044.0 L509.5,1044.0 L510.5,1044.0 L511.4,1044.0 L512.4,1044.1 L513.0,1044.1" stroke="#0000ff"/>
<path d="M104.7,1044.5 L105.6,1044.5 L106.6,1044.4 L107.5,1044.4 L108.5,1044.3 L109.4,1044.3 L110.4,1044.2 L111.3,1044.1 L112.3,1044.0 L113.2,1043.9 L114.2,1043.8 L115.1,1043.6 L116.1,1043.5 L117.0,1043.3 L118.0,1043.1 L118.9,1042.8 L119.9,1042.5 L120.8,1042.0 L121.8,1041.4 L122.7,1040.4 L123.7,1038.9 L124.6,1036.7 L125.6,1033.7 L126.5,1029.5 L127.5,1024.2 L128.4,1017.9 L129.4,1011.0 L130.3,1004.0 L131.3,997.4 L132.2,991.4 L133.2,986.4 L134.1,982.2 L135.1,979.0 L136.0,976.5 L137.0,974.5 L137.9,972.9 L138.9,971.5 L139.8,969.9 L140.8,968.0 L141.8,965.8 L142.7,963.2 L143.7,960.1 L144.6,956.6 L145.6,952.8 L146.5,948.5 L147.5,943.8 L148.4,938.5 L149.4,932.3 L150.3,925.2 L151.3,916.9 L152.2,907.6 L153.2,897.4 L154.1,886.5 L155.1,875.2 L156.0,863.7 L157.0,852.1 L157.9,840.6 L158.9,829.3 L159.8,818.2 L160.8,807.5 L161.7,797.2 L162.7,787.4 L163.6,778.2 L164.6,769.7 L165.5,762.1 L166.5,755.3 L167.4,749.6 L168.4,744.9 L169.3,741.2 L170.3,738.4 L171.2,736.5 L172.2,735.3 L173.1,735.0 L174.1,735.2 L175.0,736.1 L176.0,737.3 L176.9,738.9 L177.9,740.7 L178.8,742.5 L179.8,744.1 L180.7,745.4 L181.7,746.2 L182.6,746.6 L183.6,746.4 L184.5,745.6 L185.5,744.2 L186.4,742.1 L187.4,739.3 L188.3,735.9 L189.3,732.1 L190.2,727.9 L191.2,723.4 L192.1,718.6 L193.1,713.6 L194.0,708.3 L195.0,702.9 L195.9,697.2 L196.9,691.6 L197.8,686.1 L198.8,680.8 L199.7,675.8 L200.7,671.1 L201.6,666.8 L202.6,662.9 L203.5,659.4 L204.5,656.3 L205.4,653.7 L206.4,651.6 L207.3,650.1 L208.3,649.2 L209.2,649.2 L210.2,650.1 L211.1,651.8 L212.1,654.4 L213.0,657.8 L214.0,661.8 L214.9,666.2 L215.9,671.0 L216.8,675.8 L217.8,680.4 L218.7,684.8 L219.7,689.0 L220.6,693.0 L221.6,696.8 L222.5,700.7 L223.5,704.6 L224.4,708.6 L225.4,712.6 L226.3,716.7 L227.3,720.8 L228.2,724.9 L229.2,729.0 L230.1,733.0 L231.1,736.9 L232.0,740.7 L233.0,744.3 L233.9,747.9 L234.9,751.4 L235.8,754.7 L236.8,758.0 L237.7,761.2 L238.7,764.3 L239.6,767.4 L240.6,770.3 L241.5,773.1 L242.5,775.9 L243.4,778.6 L244.4,781.1 L245.3,783.6 L246.3,786.0 L247.2,788.4 L248.2,790.8 L249.1,793.2 L250.1,795.7 L251.0,798.3 L252.0,801.0 L252.9,803.8 L253.9,806.7 L254.8,809.7 L255.8,812.8 L256.7,815.9 L257.7,819.2 L258.6,822.6 L259.6,826.2 L260.5,829.8 L261.5,833.6 L262.4,837.5 L263.4,841.5 L264.3,845.4 L265.3,849.2 L266.2,852.8 L267.2,856.3 L268.1,859.7 L269.1,862.9 L270.0,866.0 L271.0,869.0 L271.9,872.1 L272.9,875.3 L273.8,878.5 L274.8,881.9 L275.7,885.3 L276.7,888.9 L277.7,892.5 L278.6,896.1 L279.6,899.7 L280.5,903.1 L281.5,906.5 L282.4,909.8 L283.4,913.0 L284.3,916.0 L285.3,919.0 L286.2,921.8 L287.2,924.6 L288.1,927.2 L289.1,929.7 L290.0,932.1 L291.0,934.4 L291.9,936.7 L292.9,938.8 L293.8,940.9 L294.8,942.9 L295.7,944.9 L296.7,946.8 L297.6,948.6 L298.6,950.4 L299.5,952.2 L300.5,953.9 L301.4,955.6 L302.4,957.2 L303.3,958.8 L304.3,960.3 L305.2,961.9 L306.2,963.4 L307.1,964.8 L308.1,966.3 L309.0,967.7 L310.0,969.2 L310.9,970.6 L311.9,972.0 L312.8,973.4 L313.8,974.8 L314.7,976.3 L315.7,977.7 L316.6,979.0 L317.6,980.4 L318.5,981.8 L319.5,983.1 L320.4,984.5 L321.4,985.8 L322.3,987.2 L323.3,988.5 L324.2,989.9 L325.2,991.2 L326.1,992.6 L327.1,994.0 L328.0,995.5 L329.0,996.9 L329.9,998.3 L330.9,999.7 L331.8,1001.0 L332.8,1002.3 L333.7,1003.5 L334.7,1004.6 L335.6,1005.6 L336.6,1006.6 L337.5,1007.5 L338.5,1008.4 L339.4,1009.2 L340.4,1010.0 L341.3,1010.8 L342.3,1011.5 L343.2,1012.2 L344.2,1012.8 L345.1,1013.5 L346.1,1014.1 L347.0,1014.7 L348.0,1015.3 L348.9,1015.8 L349.9,1016.4 L350.8,1016.9 L351.8,1017.5 L352.7,1018.0 L353.7,1018.5 L354.6,1019.0 L355.6,1019.4 L356.5,1019.9 L357.5,1020.4 L358.4,1020.8 L359.4,1021.3 L360.3,1021.7 L361.3,1022.1 L362.2,1022.5 L363.2,1022.9 L364.1,1023.3 L365.1,1023.7 L366.0,1024.1 L367.0,1024.4 L367.9,1024.8 L368.9,1025.2 L369.8,1025.5 L370.8,1025.9 L371.7,1026.2 L372.7,1026.5 L373.6,1026.9 L374.6,1027.2 L375.5,1027.5 L376.5,1027.8 L377.4,1028.2 L378.4,1028.5 L379.3,1028.8 L380.3,1029.1 L381.2,1029.3 L382.2,1029.6 L383.1,1029.9 L384.1,1030.2 L385.0,1030.4 L386.0,1030.7 L386.9,1030.9 L387.9,1031.2 L388.8,1031.4 L389.8,1031.6 L390.7,1031.8 L391.7,1032.1 L392.6,1032.3 L393.6,1032.5 L394.5,1032.7 L395.5,1032.9 L396.4,1033.1 L397.4,1033.2 L398.3,1033.4 L399.3,1033.6 L400.2,1033.8 L401.2,1034.0 L402.1,1034.1 L403.1,1034.3 L404.0,1034.5 L405.0,1034.6 L405.9,1034.8 L406.9,1034.9 L407.8,1035.1 L408.8,1035.2 L409.7,1035.4 L410.7,1035.5 L411.6,1035.7 L412.6,1035.8 L413.6,1036.0 L414.5,1036.1 L415.5,1036.2 L416.4,1036.4 L417.4,1036.5 L418.3,1036.6 L419.3,1036.7 L420.2,1036.9 L421.2,1037.0 L422.1,1037.1 L423.1,1037.2 L424.0,1037.3 L425.0,1037.5 L425.9,1037.6 L426.9,1037.7 L427.8,1037.8 L428.8,1037.9 L429.7,1038.0 L430.7,1038.2 L431.6,1038.3 L432.6,1038.4 L433.5,1038.5 L434.5,1038.6 L435.4,1038.7 L436.4,1038.8 L437.3,1038.9 L438.3,1039.0 L439.2,1039.1 L440.2,1039.2 L441.1,1039.3 L442.1,1039.4 L443.0,1039.5 L444.0,1039.6 L444.9,1039.7 L445.9,1039.8 L446.8,1039.9 L447.8,1040.0 L448.7,1040.1 L449.7,1040.2 L450.6,1040.3 L451.6,1040.4 L452.5,1040.5 L453.5,1040.5 L454.4,1040.6 L455.4,1040.7 L456.3,1040.8 L457.3,1040.9 L458.2,1041.0 L459.2,1041.0 L460.1,1041.1 L461.1,1041.2 L462.0,1041.3 L463.0,1041.3 L463.9,1041.4 L464.9,1041.5 L465.8,1041.5 L466.8,1041.6 L467.7,1041.7 L468.7,1041.7 L469.6,1041.8 L470.6,1041.9 L471.5,1041.9 L472.5,1042.0 L473.4,1042.1 L474.4,1042.1 L475.3,1042.2 L476.3,1042.3 L477.2,1042.3 L478.2,1042.4 L479.1,1042.4 L480.1,1042.5 L481.0,1042.6 L482.0,1042.6 L482.9,1042.7 L483.9,1042.7 L484.8,1042.8 L485.8,1042.8 L486.7,1042.9 L487.7,1042.9 L488.6,1043.0 L489.6,1043.1 L490.5,1043.1 L491.5,1043.2 L492.4,1043.2 L493.4,1043.3 L494.3,1043.3 L495.3,1043.4 L496.2,1043.4 L497.2,1043.4 L498.1,1043.5 L499.1,1043.5 L500.0,1043.6 L501.0,1043.6 L501.9,1043.7 L502.9,1043.7 L503.8,1043.7 L504.8,1043.8 L505.7,1043.8 L506.7,1043.9 L507.6,1043.9 L508.6,1043.9 L509.5,1044.0 L510.5,1044.0 L511.4,1044.0 L512.4,1044.0 L513.0,1044.1" stroke="#ff00ff"/>
<path d="M87.2,1039.7 L88.2,1037.6 L89.1,1035.9 L90.1,1034.4 L91.0,1032.9 L92.0,1031.5 L92.9,1030.1 L93.9,1028.7 L94.8,1027.5 L95.8,1026.3 L96.7,1025.1 L97.7,1024.1 L98.6,1023.3 L99.6,1022.7 L100.5,1022.3 L101.5,1022.3 L102.4,1022.5 L103.4,1023.0 L104.3,1023.7 L105.3,1024.6 L106.2,1025.7 L107.2,1026.8 L108.1,1027.9 L109.1,1029.0 L110.0,1030.2 L111.0,1031.3 L111.9,1032.3 L112.9,1033.2 L113.8,1033.9 L114.8,1034.4 L115.7,1034.7 L116.7,1034.8 L117.6,1034.8 L118.6,1034.7 L119.5,1034.4 L120.5,1034.0 L121.4,1033.6 L122.4,1032.9 L123.3,1032.0 L124.3,1030.8 L125.2,1029.2 L126.2,1027.0 L127.1,1024.4 L128.1,1021.2 L129.0,1017.4 L130.0,1012.9 L130.9,1007.8 L131.9,1002.2 L132.8,996.3 L133.8,990.3 L134.7,984.3 L135.7,978.5 L136.6,972.8 L137.6,967.4 L138.5,962.1 L139.5,957.0 L140.4,952.0 L141.4,947.0 L142.3,941.8 L143.3,936.4 L144.2,930.6 L145.2,924.5 L146.1,918.1 L147.1,911.7 L148.0,905.1 L149.0,898.7 L149.9,892.3 L150.9,885.9 L151.8,879.6 L152.8,873.2 L153.7,866.7 L154.7,860.1 L155.6,853.4 L156.6,846.5 L157.5,839.5 L158.5,832.4 L159.4,825.2 L160.4,818.0 L161.3,810.8 L162.3,803.7 L163.2,796.5 L164.2,789.4 L165.1,782.4 L166.1,775.4 L167.0,768.6 L168.0,761.9 L168.9,755.4 L169.9,749.2 L170.8,743.1 L171.8,737.4 L172.7,731.9 L173.7,726.8 L174.6,721.9 L175.6,717.5 L176.5,713.3 L177.5,709.5 L178.4,705.9 L179.4,702.5 L180.3,699.2 L181.3,696.1 L182.2,693.0 L183.2,689.9 L184.1,686.8 L185.1,683.6 L186.0,680.3 L187.0,677.0 L187.9,673.6 L188.9,670.4 L189.8,667.2 L190.8,664.3 L191.7,661.6 L192.7,659.2 L193.6,657.2 L194.6,655.4 L195.5,653.9 L196.5,652.5 L197.4,651.4 L198.4,650.5 L199.3,649.8 L200.3,649.4 L201.2,649.2 L202.2,649.3 L203.1,649.7 L204.1,650.4 L205.0,651.3 L206.0,652.4 L206.9,653.8 L207.9,655.3 L208.8,657.0 L209.8,659.0 L210.7,661.1 L211.7,663.4 L212.6,665.7 L213.6,668.2 L214.5,670.6 L215.5,672.9 L216.4,675.3 L217.4,677.5 L218.3,679.7 L219.3,681.7 L220.2,683.6 L221.2,685.4 L222.1,687.0 L223.1,688.5 L224.1,689.8 L225.0,691.1 L226.0,692.4 L226.9,693.7 L227.9,695.1 L228.8,696.8 L229.8,698.7 L230.7,700.9 L231.7,703.5 L232.6,706.5 L233.6,709.8 L234.5,713.4 L235.5,717.3 L236.4,721.4 L237.4,725.7 L238.3,730.1 L239.3,734.6 L240.2,739.1 L241.2,743.5 L242.1,747.9 L243.1,752.1 L244.0,756.2 L245.0,760.1 L245.9,764.0 L246.9,767.9 L247.8,771.7 L248.8,775.6 L249.7,779.5 L250.7,783.4 L251.6,787.4 L252.6,791.3 L253.5,795.1 L254.5,798.8 L255.4,802.3 L256.4,805.7 L257.3,809.0 L258.3,812.1 L259.2,815.2 L260.2,818.3 L261.1,821.3 L262.1,824.4 L263.0,827.5 L264.0,830.7 L264.9,834.1 L265.9,837.6 L266.8,841.3 L267.8,845.2 L268.7,849.2 L269.7,853.3 L270.6,857.5 L271.6,861.7 L272.5,865.9 L273.5,869.9 L274.4,873.8 L275.4,877.6 L276.3,881.2 L277.3,884.6 L278.2,887.9 L279.2,891.1 L280.1,894.2 L281.1,897.2 L282.0,900.2 L283.0,903.1 L283.9,906.1 L284.9,909.0 L285.8,912.0 L286.8,914.9 L287.7,917.9 L288.7,920.8 L289.6,923.8 L290.6,926.6 L291.5,929.4 L292.5,932.1 L293.4,934.7 L294.4,937.2 L295.3,939.5 L296.3,941.7 L297.2,943.9 L298.2,945.9 L299.1,947.9 L300.1,949.9 L301.0,951.8 L302.0,953.7 L302.9,955.6 L303.9,957.4 L304.8,959.2 L305.8,961.1 L306.7,962.8 L307.7,964.6 L308.6,966.3 L309.6,968.0 L310.5,969.6 L311.5,971.2 L312.4,972.8 L313.4,974.3 L314.3,975.9 L315.3,977.3 L316.2,978.8 L317.2,980.2 L318.1,981.6 L319.1,983.0 L320.0,984.3 L321.0,985.7 L321.9,987.0 L322.9,988.3 L323.8,989.7 L324.8,991.0 L325.7,992.4 L326.7,993.8 L327.6,995.2 L328.6,996.6 L329.5,998.0 L330.5,999.4 L331.4,1000.7 L332.4,1002.0 L333.3,1003.2 L334.3,1004.4 L335.2,1005.4 L336.2,1006.4 L337.1,1007.4 L338.1,1008.3 L339.0,1009.1 L340.0,1009.9 L340.9,1010.7 L341.9,1011.4 L342.8,1012.1 L343.8,1012.8 L344.7,1013.4 L345.7,1014.0 L346.6,1014.6 L347.6,1015.2 L348.5,1015.8 L349.5,1016.3 L350.4,1016.9 L351.4,1017.4 L352.3,1017.9 L353.3,1018.4 L354.2,1018.9 L355.2,1019.4 L356.1,1019.9 L357.1,1020.3 L358.0,1020.8 L359.0,1021.2 L360.0,1021.7 L360.9,1022.1 L361.9,1022.5 L362.8,1022.9 L363.8,1023.3 L364.7,1023.7 L365.7,1024.0 L366.6,1024.4 L367.6,1024.8 L368.5,1025.1 L369.5,1025.5 L370.4,1025.8 L371.4,1026.2 L372.3,1026.5 L373.3,1026.9 L374.2,1027.2 L375.2,1027.5 L376.1,1027.8 L377.1,1028.1 L378.0,1028.4 L379.0,1028.7 L379.9,1029.0 L380.9,1029.3 L381.8,1029.6 L382.8,1029.9 L383.7,1030.2 L384.7,1030.4 L385.6,1030.7 L386.6,1030.9 L387.5,1031.2 L388.5,1031.4 L389.4,1031.6 L390.4,1031.8 L391.3,1032.1 L392.3,1032.3 L393.2,1032.5 L394.2,1032.7 L395.1,1032.9 L396.1,1033.1 L397.0,1033.2 L398.0,1033.4 L398.9,1033.6 L399.9,1033.8 L400.8,1034.0 L401.8,1034.1 L402.7,1034.3 L403.7,1034.5 L404.6,1034.6 L405.6,1034.8 L406.5,1035.0 L407.5,1035.1 L408.4,1035.3 L409.4,1035.4 L410.3,1035.5 L411.3,1035.7 L412.2,1035.8 L413.2,1036.0 L414.1,1036.1 L415.1,1036.2 L416.0,1036.4 L417.0,1036.5 L417.9,1036.6 L418.9,1036.8 L419.8,1036.9 L420.8,1037.0 L421.7,1037.1 L422.7,1037.2 L423.6,1037.4 L424.6,1037.5 L425.5,1037.6 L426.5,1037.7 L427.4,1037.8 L428.4,1037.9 L429.3,1038.1 L430.3,1038.2 L431.2,1038.3 L432.2,1038.4 L433.1,1038.5 L434.1,1038.6 L435.0,1038.7 L436.0,1038.8 L436.9,1038.9 L437.9,1039.0 L438.8,1039.1 L439.8,1039.2 L440.7,1039.3 L441.7,1039.4 L442.6,1039.5 L443.6,1039.6 L444.5,1039.7 L445.5,1039.8 L446.4,1039.9 L447.4,1040.0 L448.3,1040.1 L449.3,1040.2 L450.2,1040.3 L451.2,1040.4 L452.1,1040.5 L453.1,1040.6 L454.0,1040.6 L455.0,1040.7 L455.9,1040.8 L456.9,1040.9 L457.8,1041.0 L458.8,1041.0 L459.7,1041.1 L460.7,1041.2 L461.6,1041.3 L462.6,1041.3 L463.5,1041.4 L464.5,1041.5 L465.4,1041.6 L466.4,1041.6 L467.3,1041.7 L468.3,1041.8 L469.2,1041.8 L470.2,1041.9 L471.1,1041.9 L472.1,1042.0 L473.0,1042.1 L474.0,1042.1 L474.9,1042.2 L475.9,1042.3 L476.8,1042.3 L477.8,1042.4 L478.7,1042.4 L479.7,1042.5 L480.6,1042.6 L481.6,1042.6 L482.5,1042.7 L483.5,1042.7 L484.4,1042.8 L485.4,1042.8 L486.3,1042.9 L487.3,1043.0 L488.2,1043.0 L489.2,1043.1 L490.1,1043.1 L491.1,1043.2 L492.0,1043.2 L493.0,1043.3 L493.9,1043.3 L494.9,1043.4 L495.9,1043.4 L496.8,1043.5 L497.8,1043.5 L498.7,1043.5 L499.7,1043.6 L500.6,1043.6 L501.6,1043.7 L502.5,1043.7 L503.5,1043.8 L504.4,1043.8 L505.4,1043.8 L506.3,1043.9 L507.3,1043.9 L508.2,1043.9 L509.2,1044.0 L510.1,1044.0 L511.1,1044.0 L512.0,1044.1 L513.0,1044.1" stroke="#008000"/>
<path d="M87.2,1042.1 L88.2,1041.4 L89.1,1040.8 L90.1,1040.2 L91.0,1039.5 L92.0,1038.8 L92.9,1038.1 L93.9,1037.4 L94.8,1036.6 L95.8,1035.8 L96.7,1034.9 L97.7,1034.1 L98.6,1033.1 L99.6,1032.2 L100.5,1031.2 L101.5,1030.1 L102.4,1029.1 L103.4,1027.9 L104.3,1026.8 L105.3,1025.6 L106.2,1024.4 L107.2,1023.2 L108.1,1022.0 L109.1,1020.8 L110.0,1019.6 L111.0,1018.5 L111.9,1017.3 L112.9,1016.2 L113.8,1015.1 L114.8,1014.0 L115.7,1012.8 L116.7,1011.7 L117.6,1010.6 L118.6,1009.5 L119.5,1008.4 L120.5,1007.3 L121.4,1006.2 L122.4,1005.1 L123.3,1004.1 L124.3,1003.0 L125.2,1002.0 L126.2,1001.0 L127.1,999.9 L128.1,999.0 L129.0,998.0 L130.0,997.0 L130.9,996.1 L131.9,995.2 L132.8,994.3 L133.8,993.4 L134.7,992.5 L135.7,991.6 L136.6,990.7 L137.6,989.8 L138.5,988.9 L139.5,987.9 L140.4,987.0 L141.4,986.0 L142.3,985.0 L143.3,984.0 L144.2,982.9 L145.2,981.9 L146.1,980.7 L147.1,979.6 L148.0,978.4 L149.0,977.2 L149.9,976.0 L150.9,974.7 L151.8,973.4 L152.8,972.0 L153.7,970.6 L154.7,969.1 L155.6,967.6 L156.6,966.0 L157.5,964.2 L158.5,962.4 L159.4,960.5 L160.4,958.4 L161.3,956.2 L162.3,953.9 L163.2,951.5 L164.2,948.9 L165.1,946.2 L166.1,943.4 L167.0,940.3 L168.0,937.2 L168.9,933.9 L169.9,930.6 L170.8,927.2 L171.8,923.7 L172.7,920.1 L173.7,916.5 L174.6,912.7 L175.6,908.8 L176.5,904.8 L177.5,900.5 L178.4,896.0 L179.4,891.3 L180.3,886.4 L181.3,881.2 L182.2,875.8 L183.2,870.0 L184.1,864.0 L185.1,857.7 L186.0,850.9 L187.0,843.8 L187.9,836.2 L188.9,828.0 L189.8,819.4 L190.8,810.4 L191.7,801.2 L192.7,791.8 L193.6,782.4 L194.6,773.1 L195.5,763.9 L196.5,754.9 L197.4,746.3 L198.4,737.9 L199.3,729.9 L200.3,722.4 L201.2,715.1 L202.2,708.3 L203.1,702.0 L204.1,696.1 L205.0,690.7 L206.0,685.7 L206.9,681.2 L207.9,677.0 L208.8,673.2 L209.8,669.8 L210.7,666.6 L211.7,663.8 L212.6,661.4 L213.6,659.4 L214.5,657.6 L215.5,656.2 L216.4,654.9 L217.4,653.9 L218.3,652.9 L219.3,652.1 L220.2,651.3 L221.2,650.7 L222.1,650.1 L223.1,649.7 L224.1,649.4 L225.0,649.2 L226.0,649.2 L226.9,649.3 L227.9,649.5 L228.8,649.9 L229.8,650.3 L230.7,650.9 L231.7,651.6 L232.6,652.4 L233.6,653.2 L234.5,654.2 L235.5,655.2 L236.4,656.4 L237.4,657.7 L238.3,659.3 L239.3,661.1 L240.2,663.0 L241.2,665.2 L242.1,667.4 L243.1,669.8 L244.0,672.2 L245.0,674.7 L245.9,677.3 L246.9,680.0 L247.8,682.7 L248.8,685.6 L249.7,688.5 L250.7,691.6 L251.6,694.8 L252.6,698.1 L253.5,701.6 L254.5,705.2 L255.4,708.9 L256.4,712.6 L257.3,716.3 L258.3,720.0 L259.2,723.5 L260.2,727.0 L261.1,730.4 L262.1,733.7 L263.0,737.0 L264.0,740.2 L264.9,743.3 L265.9,746.4 L266.8,749.5 L267.8,752.5 L268.7,755.6 L269.7,758.5 L270.6,761.5 L271.6,764.4 L272.5,767.3 L273.5,770.2 L274.4,773.0 L275.4,775.8 L276.3,778.6 L277.3,781.4 L278.2,784.2 L279.2,787.0 L280.1,789.7 L281.1,792.5 L282.0,795.2 L283.0,798.0 L283.9,800.7 L284.9,803.5 L285.8,806.3 L286.8,809.0 L287.7,811.8 L288.7,814.5 L289.6,817.3 L290.6,820.0 L291.5,822.7 L292.5,825.5 L293.4,828.2 L294.4,830.9 L295.3,833.7 L296.3,836.4 L297.2,839.2 L298.2,841.9 L299.1,844.7 L300.1,847.4 L301.0,850.2 L302.0,853.0 L302.9,855.8 L303.9,858.5 L304.8,861.3 L305.8,864.0 L306.7,866.8 L307.7,869.5 L308.6,872.2 L309.6,874.9 L310.5,877.5 L311.5,880.1 L312.4,882.7 L313.4,885.3 L314.3,887.9 L315.3,890.4 L316.2,892.9 L317.2,895.4 L318.1,897.9 L319.1,900.4 L320.0,902.8 L321.0,905.2 L321.9,907.6 L322.9,909.9 L323.8,912.2 L324.8,914.4 L325.7,916.6 L326.7,918.7 L327.6,920.7 L328.6,922.7 L329.5,924.7 L330.5,926.6 L331.4,928.5 L332.4,930.3 L333.3,932.1 L334.3,933.9 L335.2,935.6 L336.2,937.3 L337.1,938.9 L338.1,940.5 L339.0,942.1 L340.0,943.5 L340.9,945.0 L341.9,946.4 L342.8,947.7 L343.8,949.0 L344.7,950.2 L345.7,951.5 L346.6,952.7 L347.6,954.0 L348.5,955.2 L349.5,956.5 L350.4,957.8 L351.4,959.1 L352.3,960.4 L353.3,961.8 L354.2,963.1 L355.2,964.4 L356.1,965.6 L357.1,966.9 L358.0,968.1 L359.0,969.3 L360.0,970.4 L360.9,971.5 L361.9,972.6 L362.8,973.7 L363.8,974.7 L364.7,975.8 L365.7,976.8 L366.6,977.8 L367.6,978.8 L368.5,979.7 L369.5,980.7 L370.4,981.6 L371.4,982.5 L372.3,983.4 L373.3,984.3 L374.2,985.1 L375.2,986.0 L376.1,986.8 L377.1,987.6 L378.0,988.3 L379.0,989.1 L379.9,989.8 L380.9,990.6 L381.8,991.3 L382.8,992.0 L383.7,992.7 L384.7,993.3 L385.6,994.0 L386.6,994.6 L387.5,995.2 L388.5,995.8 L389.4,996.4 L390.4,997.0 L391.3,997.6 L392.3,998.2 L393.2,998.7 L394.2,999.3 L395.1,999.8 L396.1,1000.4 L397.0,1000.9 L398.0,1001.4 L398.9,1001.9 L399.9,1002.4 L400.8,1002.8 L401.8,1003.3 L402.7,1003.7 L403.7,1004.1 L404.6,1004.4 L405.6,1004.8 L406.5,1005.1 L407.5,1005.4 L408.4,1005.7 L409.4,1006.0 L410.3,1006.3 L411.3,1006.6 L412.2,1006.9 L413.2,1007.2 L414.1,1007.4 L415.1,1007.7 L416.0,1007.9 L417.0,1008.2 L417.9,1008.4 L418.9,1008.6 L419.8,1008.8 L420.8,1009.1 L421.7,1009.3 L422.7,1009.5 L423.6,1009.7 L424.6,1009.9 L425.5,1010.2 L426.5,1010.4 L427.4,1010.6 L428.4,1010.8 L429.3,1011.0 L430.3,1011.2 L431.2,1011.4 L432.2,1011.7 L433.1,1011.9 L434.1,1012.1 L435.0,1012.3 L436.0,1012.6 L436.9,1012.8 L437.9,1013.0 L438.8,1013.3 L439.8,1013.5 L440.7,1013.8 L441.7,1014.0 L442.6,1014.3 L443.6,1014.5 L444.5,1014.7 L445.5,1015.0 L446.4,1015.2 L447.4,1015.5 L448.3,1015.7 L449.3,1016.0 L450.2,1016.2 L451.2,1016.5 L452.1,1016.7 L453.1,1016.9 L454.0,1017.2 L455.0,1017.4 L455.9,1017.7 L456.9,1017.9 L457.8,1018.1 L458.8,1018.4 L459.7,1018.6 L460.7,1018.8 L461.6,1019.1 L462.6,1019.3 L463.5,1019.5 L464.5,1019.7 L465.4,1020.0 L466.4,1020.2 L467.3,1020.4 L468.3,1020.6 L469.2,1020.8 L470.2,1021.1 L471.1,1021.3 L472.1,1021.5 L473.0,1021.7 L474.0,1021.9 L474.9,1022.1 L475.9,1022.3 L476.8,1022.5 L477.8,1022.7 L478.7,1022.9 L479.7,1023.1 L480.6,1023.3 L481.6,1023.5 L482.5,1023.8 L483.5,1024.0 L484.4,1024.2 L485.4,1024.4 L486.3,1024.6 L487.3,1024.7 L488.2,1024.9 L489.2,1025.1 L490.1,1025.3 L491.1,1025.5 L492.0,1025.7 L493.0,1025.9 L493.9,1026.1 L494.9,1026.3 L495.9,1026.5 L496.8,1026.7 L497.8,1026.9 L498.7,1027.0 L499.7,1027.2 L500.6,1027.4 L501.6,1027.6 L502.5,1027.8 L503.5,1028.0 L504.4,1028.1 L505.4,1028.3 L506.3,1028.5 L507.3,1028.7 L508.2,1028.8 L509.2,1029.0 L510.1,1029.2 L511.1,1029.4 L512.0,1029.5 L513.0,1029.7 L513.9,1029.9 L514.9,1030.0 L515.8,1030.2 L516.8,1030.3 L517.5,1030.5" stroke="#000080"/>
<path d="M115.3,1046.9 L116.3,1046.9 L117.2,1046.9 L118.2,1046.9 L119.1,1046.9 L120.1,1046.8 L121.0,1046.8 L122.0,1046.8 L122.9,1046.8 L123.9,1046.7 L124.8,1046.7 L125.8,1046.6 L126.7,1046.6 L127.7,1046.5 L128.6,1046.5 L129.6,1046.4 L130.5,1046.4 L131.5,1046.3 L132.4,1046.2 L133.4,1046.1 L134.3,1046.0 L135.3,1045.9 L136.2,1045.8 L137.2,1045.7 L138.1,1045.6 L139.1,1045.5 L140.0,1045.4 L141.0,1045.2 L141.9,1045.1 L142.9,1044.9 L143.8,1044.7 L144.8,1044.5 L145.7,1044.2 L146.7,1043.8 L147.6,1043.2 L148.6,1042.3 L149.5,1041.2 L150.5,1039.6 L151.4,1037.2 L152.4,1034.0 L153.3,1029.7 L154.3,1024.3 L155.2,1017.9 L156.2,1011.0 L157.1,1003.9 L158.1,997.2 L159.0,991.2 L160.0,986.2 L160.9,982.2 L161.9,979.1 L162.8,976.7 L163.8,974.9 L164.7,973.4 L165.7,972.2 L166.6,971.2 L167.6,970.4 L168.5,969.7 L169.5,968.9 L170.5,968.0 L171.4,966.8 L172.4,965.1 L173.3,962.6 L174.3,959.3 L175.2,955.0 L176.2,949.7 L177.1,943.4 L178.1,936.3 L179.0,928.5 L180.0,920.3 L180.9,911.7 L181.9,902.9 L182.8,893.7 L183.8,883.8 L184.7,873.1 L185.7,861.3 L186.6,848.3 L187.6,834.6 L188.5,820.5 L189.5,806.8 L190.4,793.9 L191.4,782.2 L192.3,772.0 L193.3,763.2 L194.2,755.9 L195.2,749.9 L196.1,745.3 L197.1,741.8 L198.0,739.3 L199.0,737.6 L199.9,736.8 L200.9,736.8 L201.8,737.5 L202.8,738.7 L203.7,740.2 L204.7,741.9 L205.6,743.5 L206.6,745.0 L207.5,746.2 L208.5,747.1 L209.4,747.8 L210.4,748.2 L211.3,748.4 L212.3,748.2 L213.2,747.6 L214.2,746.5 L215.1,744.7 L216.1,741.9 L217.0,738.2 L218.0,733.4 L218.9,727.7 L219.9,721.1 L220.8,714.0 L221.8,706.7 L222.7,699.6 L223.7,692.9 L224.6,686.8 L225.6,681.2 L226.5,676.1 L227.5,671.6 L228.4,667.5 L229.4,663.9 L230.3,660.8 L231.3,658.1 L232.2,655.8 L233.2,653.9 L234.1,652.4 L235.1,651.1 L236.0,650.1 L237.0,649.5 L237.9,649.2 L238.9,649.4 L239.8,650.0 L240.8,651.0 L241.7,652.4 L242.7,654.4 L243.6,656.9 L244.6,660.0 L245.5,663.9 L246.5,668.6 L247.4,674.3 L248.4,680.9 L249.3,688.5 L250.3,696.7 L251.2,705.2 L252.2,713.6 L253.1,721.3 L254.1,727.9 L255.0,733.4 L256.0,737.9 L256.9,741.7 L257.9,744.9 L258.8,747.7 L259.8,750.3 L260.7,752.7 L261.7,755.0 L262.6,757.3 L263.6,759.5 L264.5,761.6 L265.5,763.7 L266.4,765.8 L267.4,767.8 L268.3,769.8 L269.3,771.9 L270.2,774.0 L271.2,776.2 L272.1,778.5 L273.1,780.8 L274.0,783.3 L275.0,785.8 L275.9,788.4 L276.9,791.1 L277.8,793.8 L278.8,796.7 L279.7,799.6 L280.7,802.6 L281.6,805.6 L282.6,808.8 L283.5,812.0 L284.5,815.3 L285.4,818.7 L286.4,822.2 L287.3,825.7 L288.3,829.4 L289.2,833.1 L290.2,836.8 L291.1,840.6 L292.1,844.4 L293.0,848.1 L294.0,851.7 L294.9,855.3 L295.9,858.8 L296.8,862.2 L297.8,865.6 L298.7,868.9 L299.7,872.1 L300.6,875.3 L301.6,878.4 L302.5,881.5 L303.5,884.6 L304.5,887.5 L305.4,890.4 L306.4,893.3 L307.3,896.1 L308.3,898.8 L309.2,901.5 L310.2,904.1 L311.1,906.7 L312.1,909.2 L313.0,911.7 L314.0,914.1 L314.9,916.4 L315.9,918.8 L316.8,921.0 L317.8,923.3 L318.7,925.5 L319.7,927.6 L320.6,929.7 L321.6,931.8 L322.5,933.8 L323.5,935.8 L324.4,937.7 L325.4,939.6 L326.3,941.5 L327.3,943.4 L328.2,945.3 L329.2,947.2 L330.1,949.1 L331.1,951.0 L332.0,952.9 L333.0,954.7 L333.9,956.6 L334.9,958.5 L335.8,960.3 L336.8,962.1 L337.7,963.9 L338.7,965.6 L339.6,967.4 L340.6,969.0 L341.5,970.7 L342.5,972.3 L343.4,973.9 L344.4,975.4 L345.3,976.8 L346.3,978.2 L347.2,979.8 L347.6,980.7" stroke="#8000ff"/>
<path d="M115.3,1048.1 L116.3,1048.1 L117.2,1048.1 L118.2,1048.0 L119.1,1048.0 L120.1,1048.0 L121.0,1048.0 L122.0,1047.9 L122.9,1047.9 L123.9,1047.8 L124.8,1047.7 L125.8,1047.7 L126.7,1047.6 L127.7,1047.5 L128.6,1047.5 L129.6,1047.4 L130.5,1047.3 L131.5,1047.2 L132.4,1047.1 L133.4,1047.0 L134.3,1046.9 L135.3,1046.7 L136.2,1046.6 L137.2,1046.5 L138.1,1046.4 L139.1,1046.2 L140.0,1046.1 L141.0,1046.0 L141.9,1045.8 L142.9,1045.7 L143.8,1045.5 L144.8,1045.4 L145.7,1045.2 L146.7,1045.1 L147.6,1044.9 L148.6,1044.8 L149.5,1044.6 L150.5,1044.4 L151.4,1044.3 L152.4,1044.1 L153.3,1043.9 L154.3,1043.7 L155.2,1043.4 L156.2,1043.2 L157.1,1042.9 L158.1,1042.6 L159.0,1042.2 L160.0,1041.9 L160.9,1041.4 L161.9,1040.9 L162.8,1040.3 L163.8,1039.6 L164.7,1038.7 L165.7,1037.5 L166.6,1035.9 L167.6,1033.8 L168.5,1030.9 L169.5,1026.8 L170.5,1021.1 L171.4,1013.4 L172.4,1003.8 L173.3,992.5 L174.3,979.7 L175.2,966.1 L176.2,952.0 L177.1,937.8 L178.1,923.7 L179.0,909.9 L180.0,896.6 L180.9,884.1 L181.9,872.4 L182.8,861.6 L183.8,851.5 L184.7,842.0 L185.7,833.2 L186.6,825.0 L187.6,817.2 L188.5,809.9 L189.5,803.0 L190.4,796.5 L191.4,790.3 L192.3,784.5 L193.3,779.0 L194.2,773.9 L195.2,769.1 L196.1,764.7 L197.1,760.9 L198.0,757.6 L199.0,755.0 L199.9,753.0 L200.9,751.5 L201.8,750.5 L202.8,749.9 L203.7,749.8 L204.7,750.3 L205.6,751.2 L206.6,752.7 L207.5,754.4 L208.5,756.3 L209.4,757.9 L210.4,759.2 L211.3,760.1 L212.3,760.4 L213.2,760.0 L214.2,758.9 L215.1,756.8 L216.1,753.5 L217.0,748.9 L218.0,743.1 L218.9,736.2 L219.9,728.6 L220.8,720.8 L221.8,713.1 L222.7,705.8 L223.7,699.0 L224.6,692.6 L225.6,686.6 L226.5,681.0 L227.5,675.9 L228.4,671.1 L229.4,666.9 L230.3,663.1 L231.3,659.7 L232.2,656.9 L233.2,654.5 L234.1,652.6 L235.1,651.2 L236.0,650.1 L237.0,649.5 L237.9,649.2 L238.9,649.4 L239.8,650.0 L240.8,651.0 L241.7,652.3 L242.7,653.9 L243.6,655.7 L244.6,657.8 L245.5,660.1 L246.5,662.7 L247.4,665.5 L248.4,668.7 L249.3,672.2 L250.3,676.2 L251.2,680.5 L252.2,685.3 L253.1,690.4 L254.1,695.8 L255.0,701.2 L256.0,706.7 L256.9,711.9 L257.9,717.0 L258.8,721.9 L259.8,726.5 L260.7,730.9 L261.7,735.1 L262.6,739.1 L263.6,743.0 L264.5,746.7 L265.5,750.3 L266.4,753.7 L267.4,757.0 L268.3,760.2 L269.3,763.2 L270.2,766.2 L271.2,769.2 L272.1,772.2 L273.1,775.2 L274.0,778.2 L275.0,781.2 L275.9,784.3 L276.9,787.4 L277.8,790.5 L278.8,793.6 L279.7,796.7 L280.7,799.9 L281.6,803.1 L282.6,806.3 L283.5,809.5 L284.5,812.7 L285.4,816.0 L286.4,819.3 L287.3,822.5 L288.3,825.8 L289.2,829.1 L290.2,832.5 L291.1,835.8 L292.1,839.1 L293.0,842.5 L294.0,845.8 L294.9,849.2 L295.9,852.6 L296.8,856.0 L297.8,859.4 L298.7,862.8 L299.7,866.1 L300.6,869.4 L301.6,872.7 L302.5,875.9 L303.5,879.1 L304.5,882.2 L305.4,885.3 L306.4,888.4 L307.3,891.4 L308.3,894.4 L309.2,897.3 L310.2,900.2 L311.1,903.0 L312.1,905.7 L313.0,908.3 L314.0,910.9 L314.9,913.3 L315.9,915.7 L316.8,918.0 L317.8,920.1 L318.7,922.3 L319.7,924.3 L320.6,926.3 L321.6,928.3 L322.5,930.2 L323.5,932.0 L324.4,933.9 L325.4,935.8 L326.3,937.6 L327.3,939.5 L328.2,941.3 L329.2,943.2 L330.1,945.1 L331.1,947.0 L332.0,948.8 L333.0,950.7 L333.9,952.6 L334.9,954.5 L335.8,956.3 L336.8,958.1 L337.7,959.9 L338.7,961.6 L339.6,963.3 L340.6,965.0 L341.5,966.6 L342.5,968.2 L343.4,969.7 L344.4,971.1 L345.3,972.6 L346.3,974.1 L346.6,975.1" stroke="#800080"/>
<path d="M87.2,1044.5 L88.2,1044.5 L89.1,1044.4 L90.1,1044.3 L91.0,1044.2 L92.0,1044.1 L92.9,1043.9 L93.9,1043.8 L94.8,1043.6 L95.8,1043.4 L96.7,1043.2 L97.7,1043.0 L98.6,1042.8 L99.6,1042.5 L100.5,1042.2 L101.5,1041.9 L102.4,1041.5 L103.4,1041.1 L104.3,1040.6 L105.3,1040.1 L106.2,1039.4 L107.2,1038.7 L108.1,1037.8 L109.1,1036.8 L110.0,1035.6 L111.0,1034.2 L111.9,1032.6 L112.9,1030.6 L113.8,1028.1 L114.8,1025.2 L115.7,1021.8 L116.7,1018.0 L117.6,1014.0 L118.6,1010.0 L119.5,1006.0 L120.5,1002.0 L121.4,998.0 L122.4,993.7 L123.3,988.8 L124.3,983.5 L125.2,977.7 L126.2,971.8 L127.1,966.0 L128.1,960.4 L129.0,955.2 L130.0,950.0 L130.9,944.8 L131.9,939.3 L132.8,933.3 L133.8,927.1 L134.7,920.8 L135.7,914.8 L136.6,909.3 L137.6,904.4 L138.5,900.2 L139.5,896.5 L140.4,893.3 L141.4,890.4 L142.3,887.9 L143.3,885.7 L144.2,883.8 L145.2,882.2 L146.1,880.9 L147.1,879.8 L148.0,878.8 L149.0,878.0 L149.9,877.3 L150.9,876.7 L151.8,876.1 L152.8,875.4 L153.7,874.7 L154.7,873.9 L155.6,873.0 L156.6,872.0 L157.5,870.8 L158.5,869.5 L159.4,868.2 L160.4,866.7 L161.3,865.1 L162.3,863.4 L163.2,861.7 L164.2,860.0 L165.1,858.2 L166.1,856.5 L167.0,854.7 L168.0,853.0 L168.9,851.3 L169.9,849.6 L170.8,848.1 L171.8,846.6 L172.7,845.2 L173.7,843.9 L174.6,842.7 L175.6,841.6 L176.5,840.6 L177.5,839.6 L178.4,838.7 L179.4,837.9 L180.3,837.0 L181.3,836.2 L182.2,835.3 L183.2,834.4 L184.1,833.5 L185.1,832.5 L186.0,831.4 L187.0,830.2 L187.9,829.0 L188.9,827.6 L189.8,826.1 L190.8,824.4 L191.7,822.5 L192.7,820.5 L193.6,818.2 L194.6,815.7 L195.5,812.8 L196.5,809.5 L197.4,805.8 L198.4,801.4 L199.3,796.4 L200.3,790.6 L201.2,783.8 L202.2,776.0 L203.1,767.3 L204.1,758.0 L205.0,748.5 L206.0,739.2 L206.9,730.4 L207.9,722.5 L208.8,715.3 L209.8,708.9 L210.7,703.1 L211.7,697.8 L212.6,692.9 L213.6,688.3 L214.5,684.1 L215.5,680.1 L216.4,676.3 L217.4,672.7 L218.3,669.3 L219.3,666.2 L220.2,663.3 L221.2,660.7 L222.1,658.3 L223.1,656.1 L224.1,654.1 L225.0,652.4 L226.0,651.0 L226.9,650.0 L227.9,649.4 L228.8,649.2 L229.8,649.5 L230.7,650.3 L231.7,651.5 L232.6,653.0 L233.6,655.0 L234.5,657.5 L235.5,660.4 L236.4,663.7 L237.4,667.5 L238.3,671.5 L239.3,675.6 L240.2,679.7 L241.2,683.8 L242.1,687.7 L243.1,691.5 L244.0,695.1 L245.0,698.5 L245.9,701.7 L246.9,704.8 L247.8,707.8 L248.8,710.9 L249.7,714.1 L250.7,717.5 L251.6,721.2 L252.6,725.1 L253.5,729.2 L254.5,733.7 L255.4,738.3 L256.4,743.1 L257.3,748.1 L258.3,753.2 L259.2,758.5 L260.2,763.9 L261.1,769.4 L262.1,774.9 L263.0,780.4 L264.0,785.9 L264.9,791.3 L265.9,796.6 L266.8,801.7 L267.8,806.8 L268.7,811.8 L269.7,816.8 L270.6,821.6 L271.6,826.3 L272.5,830.9 L273.5,835.4 L274.4,839.7 L275.4,843.9 L276.3,847.9 L277.3,851.8 L278.2,855.6 L279.2,859.3 L280.1,862.9 L281.1,866.4 L282.0,869.9 L283.0,873.3 L283.9,876.6 L284.9,879.9 L285.8,883.1 L286.8,886.3 L287.7,889.4 L288.7,892.5 L289.6,895.5 L290.6,898.6 L291.5,901.6 L292.5,904.6 L293.4,907.6 L294.4,910.6 L295.3,913.6 L296.3,916.6 L297.2,919.6 L298.2,922.6 L299.1,925.5 L300.1,928.4 L301.0,931.2 L302.0,933.9 L302.9,936.5 L303.9,939.0 L304.8,941.4 L305.8,943.8 L306.7,946.0 L307.7,948.2 L308.6,950.4 L309.6,952.6 L310.5,954.7 L311.5,956.9 L312.4,959.1 L313.4,961.3 L314.3,963.4 L315.3,965.6 L316.2,967.7 L317.2,969.9 L318.1,972.0 L319.1,974.0 L320.0,976.1 L321.0,978.0 L321.9,979.9 L322.9,981.8 L323.8,983.5 L324.8,985.2 L325.7,986.8 L326.7,988.4 L327.6,989.8 L328.6,991.2 L329.5,992.6 L330.5,993.9 L331.4,995.2 L332.4,996.5 L333.3,997.7 L334.3,998.9 L335.2,1000.2 L336.2,1001.4 L337.1,1002.6 L338.1,1003.8 L339.0,1005.1 L340.0,1006.3 L340.9,1007.5 L341.9,1008.7 L342.8,1009.9 L343.8,1011.1 L344.7,1012.2 L345.7,1013.3 L346.6,1014.4 L347.6,1015.4 L348.5,1016.5 L349.5,1017.5 L350.4,1018.5 L351.4,1019.5 L352.3,1020.4 L353.3,1021.3 L354.2,1022.2 L355.2,1023.0 L356.1,1023.8 L357.1,1024.5 L358.0,1025.3 L359.0,1025.9 L360.0,1026.6 L360.9,1027.2 L361.9,1027.8 L362.8,1028.3 L363.8,1028.9 L364.7,1029.4 L365.7,1029.9 L366.6,1030.4 L367.6,1030.8 L368.5,1031.3 L369.5,1031.7 L370.4,1032.1 L371.4,1032.5 L372.3,1032.9 L373.3,1033.3 L374.2,1033.7 L375.2,1034.0 L376.1,1034.4 L377.1,1034.7 L378.0,1035.0 L379.0,1035.3 L379.9,1035.6 L380.9,1035.9 L381.8,1036.2 L382.8,1036.5 L383.7,1036.7 L384.7,1037.0 L385.6,1037.2 L386.6,1037.4 L387.5,1037.6 L388.5,1037.8 L389.4,1038.0 L390.4,1038.2 L391.3,1038.4 L392.3,1038.5 L393.2,1038.7 L394.2,1038.8 L395.1,1038.9 L396.1,1039.1 L397.0,1039.2 L398.0,1039.4 L398.9,1039.5 L399.9,1039.7 L400.8,1039.8 L401.8,1039.9 L402.7,1040.1 L403.7,1040.2 L404.6,1040.4 L405.6,1040.5 L406.5,1040.7 L407.5,1040.8 L408.4,1041.0 L409.4,1041.1 L410.3,1041.3 L411.3,1041.4 L412.2,1041.5 L413.2,1041.7 L414.1,1041.8 L415.1,1041.9 L416.0,1042.0 L417.0,1042.2 L417.9,1042.3 L418.9,1042.4 L419.8,1042.5 L420.8,1042.6 L421.7,1042.7 L422.7,1042.7 L423.6,1042.8 L424.6,1042.9 L425.5,1043.0 L426.5,1043.1 L427.4,1043.2 L428.4,1043.3 L429.3,1043.3 L430.3,1043.4 L431.2,1043.5 L432.2,1043.6 L433.1,1043.7 L434.1,1043.7 L435.0,1043.8 L436.0,1043.9 L436.9,1044.0 L437.9,1044.0 L438.8,1044.1 L439.8,1044.2 L440.7,1044.2 L441.7,1044.3 L442.6,1044.4 L443.6,1044.4 L444.5,1044.5 L445.5,1044.6 L446.4,1044.6 L447.4,1044.7 L448.3,1044.7 L449.3,1044.8 L450.2,1044.9 L451.2,1044.9 L452.1,1045.0 L453.1,1045.0 L454.0,1045.1 L455.0,1045.1 L455.9,1045.2 L456.9,1045.2 L457.8,1045.3 L458.8,1045.3 L459.7,1045.4 L460.7,1045.4 L461.6,1045.5 L462.6,1045.5 L463.5,1045.5 L464.5,1045.6 L465.4,1045.6 L466.4,1045.7 L467.3,1045.7 L468.3,1045.7 L469.2,1045.8 L470.2,1045.8 L471.1,1045.8 L472.1,1045.9 L473.0,1045.9 L474.0,1045.9 L474.9,1046.0 L475.9,1046.0 L476.8,1046.0 L477.8,1046.1 L478.7,1046.1 L479.7,1046.1 L480.6,1046.2 L481.6,1046.2 L482.5,1046.2 L483.5,1046.3 L484.4,1046.3 L485.4,1046.3 L486.3,1046.4 L487.3,1046.4 L488.2,1046.4 L489.2,1046.4 L490.1,1046.5 L491.1,1046.5 L492.0,1046.5 L493.0,1046.5 L493.9,1046.6 L494.9,1046.6 L495.9,1046.6 L496.8,1046.6 L497.8,1046.7 L498.7,1046.7 L499.7,1046.7 L500.6,1046.7 L501.6,1046.7 L502.5,1046.8 L503.5,1046.8 L504.4,1046.8 L505.4,1046.8 L506.3,1046.8 L507.3,1046.8 L508.2,1046.8 L509.2,1046.9 L510.1,1046.9 L511.1,1046.9 L512.0,1046.9 L513.0,1046.9" stroke="#800000"/>
<path d="M104.7,993.2 L105.6,989.1 L106.6,985.8 L107.5,982.7 L108.5,979.7 L109.4,976.5 L110.4,973.3 L111.3,970.1 L112.3,966.9 L113.2,963.8 L114.2,960.8 L115.1,958.0 L116.1,955.4 L117.0,953.2 L118.0,951.3 L118.9,949.7 L119.9,948.4 L120.8,947.3 L121.8,946.4 L122.7,945.6 L123.7,944.9 L124.6,944.3 L125.6,943.9 L126.5,943.5 L127.5,943.1 L128.4,942.9 L129.4,942.6 L130.3,942.4 L131.3,942.2 L132.2,942.1 L133.2,941.9 L134.1,941.6 L135.1,941.3 L136.0,941.0 L137.0,940.6 L137.9,940.0 L138.9,939.4 L139.8,938.7 L140.8,937.9 L141.8,937.0 L142.7,936.1 L143.7,935.2 L144.6,934.2 L145.6,933.2 L146.5,932.2 L147.5,931.2 L148.4,930.2 L149.4,929.1 L150.3,928.0 L151.3,926.9 L152.2,925.7 L153.2,924.6 L154.1,923.4 L155.1,922.2 L156.0,921.0 L157.0,919.8 L157.9,918.5 L158.9,917.3 L159.8,916.1 L160.8,914.9 L161.7,913.7 L162.7,912.5 L163.6,911.3 L164.6,910.0 L165.5,908.6 L166.5,907.1 L167.4,905.2 L168.4,903.0 L169.3,900.3 L170.3,896.9 L171.2,892.9 L172.2,888.0 L173.1,882.4 L174.1,876.0 L175.0,869.0 L176.0,861.4 L176.9,853.5 L177.9,845.6 L178.8,837.9 L179.8,830.5 L180.7,823.5 L181.7,816.7 L182.6,810.0 L183.6,803.1 L184.5,795.9 L185.5,788.1 L186.4,779.8 L187.4,770.9 L188.3,761.8 L189.3,752.6 L190.2,743.8 L191.2,735.7 L192.1,728.2 L193.1,721.6 L194.0,715.6 L195.0,710.2 L195.9,705.3 L196.9,700.6 L197.8,696.2 L198.8,691.9 L199.7,687.7 L200.7,683.5 L201.6,679.4 L202.6,675.3 L203.5,671.3 L204.5,667.6 L205.4,664.2 L206.4,661.2 L207.3,658.5 L208.3,656.3 L209.2,654.4 L210.2,652.9 L211.1,651.6 L212.1,650.5 L213.0,649.8 L214.0,649.3 L214.9,649.2 L215.9,649.5 L216.8,650.3 L217.8,651.4 L218.7,652.9 L219.7,654.7 L220.6,656.7 L221.6,658.9 L222.5,661.2 L223.5,663.7 L224.4,666.2 L225.4,668.8 L226.3,671.5 L227.3,674.1 L228.2,676.6 L229.2,679.2 L230.1,681.8 L231.1,684.5 L232.0,687.5 L233.0,690.9 L233.9,694.8 L234.9,699.3 L235.8,704.2 L236.8,709.3 L237.7,714.4 L238.7,719.3 L239.6,723.9 L240.6,728.2 L241.5,732.2 L242.5,736.0 L243.4,739.6 L244.4,743.2 L245.3,746.6 L246.3,750.0 L247.2,753.4 L248.2,756.8 L249.1,760.1 L250.1,763.4 L251.0,766.7 L252.0,770.2 L252.9,773.7 L253.9,777.5 L254.8,781.4 L255.8,785.4 L256.7,789.6 L257.7,793.8 L258.6,798.0 L259.6,802.2 L260.5,806.3 L261.5,810.4 L262.4,814.5 L263.4,818.5 L264.3,822.4 L265.3,826.3 L266.2,830.2 L267.2,834.0 L268.1,837.8 L269.1,841.5 L270.0,845.2 L271.0,848.9 L271.9,852.5 L272.9,856.0 L273.8,859.6 L274.8,863.1 L275.7,866.5 L276.7,870.0 L277.7,873.4 L278.6,876.7 L279.6,880.0 L280.5,883.3 L281.5,886.5 L282.4,889.7 L283.4,892.9 L284.3,896.0 L285.3,899.1 L286.2,902.1 L287.2,905.1 L288.1,908.1 L289.1,911.0 L290.0,913.9 L291.0,916.7 L291.9,919.6 L292.9,922.4 L293.8,925.1 L294.8,927.8 L295.7,930.4 L296.7,933.0 L297.6,935.4 L298.6,937.7 L299.5,939.8 L300.5,941.9 L301.4,943.8 L302.4,945.7 L303.3,947.4 L304.3,949.1 L305.2,950.8 L306.2,952.4 L307.1,954.0 L308.1,955.5 L309.0,957.1 L310.0,958.8 L310.9,960.4 L311.9,962.0 L312.8,963.7 L313.8,965.3 L314.7,967.0 L315.7,968.6 L316.6,970.3 L317.6,971.8 L318.5,973.4 L319.5,974.9 L320.4,976.4 L321.4,977.8 L322.3,979.1 L323.3,980.5 L324.2,981.7 L325.2,983.0 L326.1,984.2 L327.1,985.4 L328.0,986.6 L329.0,987.7 L329.9,988.9 L330.9,990.0 L331.8,991.2 L332.8,992.3 L333.7,993.4 L334.7,994.6 L335.6,995.7 L336.6,996.8 L337.5,997.9 L338.5,999.0 L339.4,1000.1 L340.4,1001.1 L341.3,1002.1 L342.3,1003.1 L343.2,1004.0 L344.2,1004.9 L345.1,1005.8 L346.1,1006.6 L347.0,1007.5 L348.0,1008.3 L348.9,1009.1 L349.9,1009.9 L350.8,1010.7 L351.8,1011.5 L352.7,1012.2 L353.7,1012.9 L354.6,1013.7 L355.6,1014.4 L356.5,1015.1 L357.5,1015.7 L358.4,1016.4 L359.4,1017.0 L360.3,1017.7 L361.3,1018.3 L362.2,1018.8 L363.2,1019.4 L364.1,1020.0 L365.1,1020.5 L366.0,1021.0 L367.0,1021.5 L367.9,1022.0 L368.9,1022.4 L369.8,1022.9 L370.8,1023.3 L371.7,1023.8 L372.7,1024.2 L373.6,1024.6 L374.6,1025.0 L375.5,1025.4 L376.5,1025.8 L377.4,1026.1 L378.4,1026.5 L379.3,1026.9 L380.3,1027.2 L381.2,1027.6 L382.2,1027.9 L383.1,1028.2 L384.1,1028.5 L385.0,1028.9 L386.0,1029.2 L386.9,1029.5 L387.9,1029.7 L388.8,1030.0 L389.8,1030.3 L390.7,1030.6 L391.7,1030.8 L392.6,1031.1 L393.6,1031.3 L394.5,1031.6 L395.5,1031.8 L396.4,1032.0 L397.4,1032.2 L398.3,1032.5 L399.3,1032.7 L400.2,1032.9 L401.2,1033.1 L402.1,1033.3 L403.1,1033.5 L404.0,1033.7 L405.0,1034.0 L405.9,1034.2 L406.9,1034.4 L407.8,1034.6 L408.8,1034.8 L409.7,1035.0 L410.7,1035.1 L411.6,1035.3 L412.6,1035.5 L413.6,1035.7 L414.5,1035.9 L415.5,1036.0 L416.4,1036.2 L417.4,1036.4 L418.3,1036.5 L419.3,1036.7 L420.2,1036.8 L421.2,1036.9 L422.1,1037.1 L423.1,1037.2 L424.0,1037.3 L425.0,1037.5 L425.9,1037.6 L426.9,1037.7 L427.8,1037.8 L428.8,1038.0 L429.7,1038.1 L430.7,1038.2 L431.6,1038.3 L432.6,1038.4 L433.5,1038.5 L434.5,1038.6 L435.4,1038.8 L436.4,1038.9 L437.3,1039.0 L438.3,1039.1 L439.2,1039.2 L440.2,1039.3 L441.1,1039.4 L442.1,1039.5 L443.0,1039.6 L444.0,1039.7 L444.9,1039.8 L445.9,1039.9 L446.8,1040.0 L447.8,1040.1 L448.7,1040.2 L449.7,1040.2 L450.6,1040.3 L451.6,1040.4 L452.5,1040.5 L453.5,1040.6 L454.4,1040.7 L455.4,1040.8 L456.3,1040.8 L457.3,1040.9 L458.2,1041.0 L459.2,1041.1 L460.1,1041.1 L461.1,1041.2 L462.0,1041.3 L463.0,1041.4 L463.9,1041.4 L464.9,1041.5 L465.8,1041.6 L466.8,1041.6 L467.7,1041.7 L468.7,1041.8 L469.6,1041.8 L470.6,1041.9 L471.5,1042.0 L472.5,1042.0 L473.4,1042.1 L474.4,1042.2 L475.3,1042.2 L476.3,1042.3 L477.2,1042.3 L478.2,1042.4 L479.1,1042.5 L480.1,1042.5 L481.0,1042.6 L482.0,1042.6 L482.9,1042.7 L483.9,1042.8 L484.8,1042.8 L485.8,1042.9 L486.7,1042.9 L487.7,1043.0 L488.6,1043.0 L489.6,1043.1 L490.5,1043.1 L491.5,1043.2 L492.4,1043.2 L493.4,1043.3 L494.3,1043.3 L495.3,1043.4 L496.2,1043.4 L497.2,1043.5 L498.1,1043.5 L499.1,1043.6 L500.0,1043.6 L501.0,1043.7 L501.9,1043.7 L502.9,1043.7 L503.8,1043.8 L504.8,1043.8 L505.7,1043.8 L506.7,1043.9 L507.6,1043.9 L508.6,1043.9 L509.5,1044.0 L510.5,1044.0 L511.4,1044.0 L512.4,1044.1 L513.0,1044.1" stroke="#808000"/>
<path d="M87.2,1040.1 L88.2,1039.0 L89.1,1038.0 L90.1,1037.1 L91.0,1036.2 L92.0,1035.2 L92.9,1034.1 L93.9,1033.0 L94.8,1031.9 L95.8,1030.8 L96.7,1029.6 L97.7,1028.4 L98.6,1027.2 L99.6,1026.0 L100.5,1024.9 L101.5,1023.9 L102.4,1022.9 L103.4,1022.0 L104.3,1021.2 L105.3,1020.4 L106.2,1019.6 L107.2,1018.9 L108.1,1018.2 L109.1,1017.5 L110.0,1016.9 L111.0,1016.3 L111.9,1015.8 L112.9,1015.2 L113.8,1014.7 L114.8,1014.2 L115.7,1013.7 L116.7,1013.2 L117.6,1012.7 L118.6,1012.2 L119.5,1011.7 L120.5,1011.2 L121.4,1010.7 L122.4,1010.2 L123.3,1009.7 L124.3,1009.2 L125.2,1008.7 L126.2,1008.1 L127.1,1007.6 L128.1,1007.1 L129.0,1006.6 L130.0,1006.1 L130.9,1005.6 L131.9,1005.1 L132.8,1004.6 L133.8,1004.2 L134.7,1003.7 L135.7,1003.2 L136.6,1002.7 L137.6,1002.2 L138.5,1001.8 L139.5,1001.3 L140.4,1000.8 L141.4,1000.4 L142.3,999.9 L143.3,999.5 L144.2,999.0 L145.2,998.6 L146.1,998.2 L147.1,997.7 L148.0,997.3 L149.0,997.0 L149.9,996.6 L150.9,996.3 L151.8,995.9 L152.8,995.6 L153.7,995.4 L154.7,995.1 L155.6,994.8 L156.6,994.6 L157.5,994.3 L158.5,994.0 L159.4,993.7 L160.4,993.4 L161.3,993.1 L162.3,992.6 L163.2,992.2 L164.2,991.6 L165.1,991.0 L166.1,990.2 L167.0,989.3 L168.0,988.3 L168.9,987.1 L169.9,985.7 L170.8,984.0 L171.8,982.1 L172.7,979.6 L173.7,976.6 L174.6,973.0 L175.6,968.8 L176.5,964.1 L177.5,959.0 L178.4,954.0 L179.4,948.9 L180.3,944.0 L181.3,939.3 L182.2,934.7 L183.2,930.1 L184.1,925.7 L185.1,921.3 L186.0,916.8 L187.0,912.2 L187.9,907.2 L188.9,901.8 L189.8,895.8 L190.8,889.0 L191.7,881.4 L192.7,872.8 L193.6,863.4 L194.6,853.3 L195.5,842.5 L196.5,831.3 L197.4,819.6 L198.4,807.6 L199.3,795.4 L200.3,782.8 L201.2,770.1 L202.2,757.4 L203.1,744.9 L204.1,733.0 L205.0,722.1 L206.0,712.2 L206.9,703.5 L207.9,695.8 L208.8,689.1 L209.8,683.2 L210.7,678.0 L211.7,673.4 L212.6,669.3 L213.6,665.6 L214.5,662.3 L215.5,659.3 L216.4,656.7 L217.4,654.4 L218.3,652.4 L219.3,651.0 L220.2,649.9 L221.2,649.4 L222.1,649.2 L223.1,649.4 L224.1,649.9 L225.0,650.6 L226.0,651.5 L226.9,652.6 L227.9,653.8 L228.8,655.2 L229.8,656.8 L230.7,658.5 L231.7,660.6 L232.6,662.8 L233.6,665.2 L234.5,667.8 L235.5,670.5 L236.4,673.2 L237.4,675.9 L238.3,678.5 L239.3,681.2 L240.2,683.8 L241.2,686.6 L242.1,689.5 L243.1,692.6 L244.0,696.0 L245.0,699.7 L245.9,703.8 L246.9,708.2 L247.8,712.6 L248.8,717.1 L249.7,721.4 L250.7,725.5 L251.6,729.4 L252.6,733.1 L253.5,736.6 L254.5,740.1 L255.4,743.6 L256.4,747.0 L257.3,750.6 L258.3,754.2 L259.2,758.0 L260.2,761.8 L261.1,765.8 L262.1,769.9 L263.0,774.0 L264.0,778.1 L264.9,782.2 L265.9,786.2 L266.8,790.0 L267.8,793.7 L268.7,797.3 L269.7,800.8 L270.6,804.1 L271.6,807.4 L272.5,810.7 L273.5,814.0 L274.4,817.3 L275.4,820.6 L276.3,824.0 L277.3,827.4 L278.2,830.9 L279.2,834.4 L280.1,837.9 L281.1,841.4 L282.0,844.9 L283.0,848.3 L283.9,851.7 L284.9,855.0 L285.8,858.3 L286.8,861.5 L287.7,864.7 L288.7,867.8 L289.6,870.9 L290.6,874.0 L291.5,877.0 L292.5,880.0 L293.4,882.9 L294.4,885.9 L295.3,888.8 L296.3,891.6 L297.2,894.5 L298.2,897.3 L299.1,900.1 L300.1,902.9 L301.0,905.6 L302.0,908.3 L302.9,911.0 L303.9,913.7 L304.8,916.3 L305.8,918.9 L306.7,921.3 L307.7,923.7 L308.6,926.1 L309.6,928.3 L310.5,930.5 L311.5,932.5 L312.4,934.5 L313.4,936.4 L314.3,938.3 L315.3,940.1 L316.2,941.9 L317.2,943.6 L318.1,945.3 L319.1,947.0 L320.0,948.6 L321.0,950.3 L321.9,951.9 L322.9,953.5 L323.8,955.0 L324.8,956.6 L325.7,958.1 L326.7,959.6 L327.6,961.1 L328.6,962.6 L329.5,964.1 L330.5,965.6 L331.4,967.1 L332.4,968.6 L333.3,970.1 L334.3,971.5 L335.2,973.0 L336.2,974.4 L337.1,975.9 L338.1,977.2 L339.0,978.6 L340.0,980.0 L340.9,981.3 L341.9,982.5 L342.8,983.8 L343.8,985.0 L344.7,986.2 L345.7,987.3 L346.6,988.4 L347.6,989.5 L348.5,990.6 L349.5,991.6 L350.4,992.7 L351.4,993.6 L352.3,994.6 L353.3,995.5 L354.2,996.4 L355.2,997.3 L356.1,998.1 L357.1,998.9 L358.0,999.7 L359.0,1000.4 L360.0,1001.1 L360.9,1001.9 L361.9,1002.5 L362.8,1003.2 L363.8,1003.9 L364.7,1004.5 L365.7,1005.2 L366.6,1005.8 L367.6,1006.5 L368.5,1007.1 L369.5,1007.7 L370.4,1008.3 L371.4,1009.0 L372.3,1009.6 L373.3,1010.1 L374.2,1010.7 L375.2,1011.3 L376.1,1011.8 L377.1,1012.3 L378.0,1012.8 L379.0,1013.3 L379.9,1013.8 L380.9,1014.2 L381.8,1014.7 L382.8,1015.1 L383.7,1015.5 L384.7,1015.9 L385.6,1016.3 L386.6,1016.6 L387.5,1017.0 L388.5,1017.4 L389.4,1017.7 L390.4,1018.0 L391.3,1018.4 L392.3,1018.7 L393.2,1019.0 L394.2,1019.3 L395.1,1019.7 L396.1,1020.0 L397.0,1020.3 L398.0,1020.6 L398.9,1020.9 L399.9,1021.2 L400.8,1021.5 L401.8,1021.8 L402.7,1022.1 L403.7,1022.3 L404.6,1022.6 L405.6,1022.9 L406.5,1023.2 L407.5,1023.5 L408.4,1023.7 L409.4,1024.0 L410.3,1024.3 L411.3,1024.5 L412.2,1024.8 L413.2,1025.1 L414.1,1025.3 L415.1,1025.5 L416.0,1025.8 L417.0,1026.0 L417.9,1026.2 L418.9,1026.5 L419.8,1026.7 L420.8,1026.9 L421.7,1027.1 L422.7,1027.3 L423.6,1027.5 L424.6,1027.7 L425.5,1027.9 L426.5,1028.1 L427.4,1028.3 L428.4,1028.5 L429.3,1028.7 L430.3,1028.8 L431.2,1029.0 L432.2,1029.2 L433.1,1029.4 L434.1,1029.6 L435.0,1029.7 L436.0,1029.9 L436.9,1030.1 L437.9,1030.3 L438.8,1030.4 L439.8,1030.6 L440.7,1030.8 L441.7,1030.9 L442.6,1031.1 L443.6,1031.3 L444.5,1031.4 L445.5,1031.6 L446.4,1031.7 L447.4,1031.9 L448.3,1032.0 L449.3,1032.2 L450.2,1032.4 L451.2,1032.5 L452.1,1032.7 L453.1,1032.8 L454.0,1032.9 L455.0,1033.1 L455.9,1033.2 L456.9,1033.4 L457.8,1033.5 L458.8,1033.7 L459.7,1033.8 L460.7,1033.9 L461.6,1034.1 L462.6,1034.2 L463.5,1034.3 L464.5,1034.5 L465.4,1034.6 L466.4,1034.7 L467.3,1034.9 L468.3,1035.0 L469.2,1035.1 L470.2,1035.3 L471.1,1035.4 L472.1,1035.5 L473.0,1035.6 L474.0,1035.8 L474.9,1035.9 L475.9,1036.0 L476.8,1036.1 L477.8,1036.3 L478.7,1036.4 L479.7,1036.5 L480.6,1036.6 L481.6,1036.7 L482.5,1036.9 L483.5,1037.0 L484.4,1037.1 L485.4,1037.2 L486.3,1037.3 L487.3,1037.4 L488.2,1037.5 L489.2,1037.7 L490.1,1037.8 L491.1,1037.9 L492.0,1038.0 L493.0,1038.1 L493.9,1038.2 L494.9,1038.3 L495.9,1038.4 L496.8,1038.5 L497.8,1038.6 L498.7,1038.7 L499.7,1038.8 L500.6,1038.9 L501.6,1039.0 L502.5,1039.1 L503.5,1039.2 L504.4,1039.3 L505.4,1039.4 L506.3,1039.5 L507.3,1039.6 L508.2,1039.7 L509.2,1039.7 L510.1,1039.8 L511.1,1039.9 L512.0,1040.0 L513.0,1040.1" stroke="#3a6eb5"/>
<path d="M85.9,1042.1 L86.8,1041.4 L87.8,1040.8 L88.7,1040.1 L89.7,1039.5 L90.6,1038.8 L91.6,1038.1 L92.5,1037.4 L93.5,1036.6 L94.4,1035.8 L95.4,1034.9 L96.3,1034.0 L97.3,1033.1 L98.2,1032.2 L99.2,1031.2 L100.1,1030.1 L101.1,1029.0 L102.0,1027.9 L103.0,1026.8 L103.9,1025.6 L104.9,1024.4 L105.8,1023.2 L106.8,1022.0 L107.7,1020.8 L108.7,1019.6 L109.6,1018.5 L110.6,1017.3 L111.5,1016.2 L112.5,1015.1 L113.4,1013.9 L114.4,1012.8 L115.3,1011.7 L116.3,1010.6 L117.2,1009.5 L118.2,1008.4 L119.1,1007.3 L120.1,1006.2 L121.0,1005.1 L122.0,1004.1 L122.9,1003.0 L123.9,1002.0 L124.8,1000.9 L125.8,999.9 L126.7,998.9 L127.7,997.9 L128.6,997.0 L129.6,996.1 L130.5,995.1 L131.5,994.2 L132.4,993.3 L133.4,992.4 L134.3,991.5 L135.3,990.6 L136.2,989.7 L137.2,988.8 L138.1,987.9 L139.1,986.9 L140.0,986.0 L141.0,985.0 L141.9,983.9 L142.9,982.9 L143.8,981.8 L144.8,980.7 L145.7,979.6 L146.7,978.4 L147.6,977.2 L148.6,976.0 L149.5,974.7 L150.5,973.4 L151.4,972.0 L152.4,970.6 L153.3,969.1 L154.3,967.5 L155.2,965.9 L156.2,964.2 L157.1,962.3 L158.1,960.4 L159.0,958.4 L160.0,956.2 L160.9,953.9 L161.9,951.5 L162.8,948.9 L163.8,946.2 L164.7,943.3 L165.7,940.3 L166.6,937.1 L167.6,933.9 L168.5,930.5 L169.5,927.1 L170.5,923.6 L171.4,920.1 L172.4,916.4 L173.3,912.6 L174.3,908.7 L175.2,904.7 L176.2,900.4 L177.1,895.9 L178.1,891.2 L179.0,886.3 L180.0,881.1 L180.9,875.6 L181.9,869.9 L182.8,863.9 L183.8,857.5 L184.7,850.8 L185.7,843.7 L186.6,836.0 L187.6,827.9 L188.5,819.3 L189.5,810.3 L190.4,801.0 L191.4,791.6 L192.3,782.2 L193.3,772.9 L194.2,763.7 L195.2,754.8 L196.1,746.1 L197.1,737.7 L198.0,729.7 L199.0,722.1 L199.9,714.9 L200.9,708.1 L201.8,701.8 L202.8,695.9 L203.7,690.4 L204.7,685.5 L205.6,680.9 L206.6,676.8 L207.5,673.0 L208.5,669.5 L209.4,666.4 L210.4,663.6 L211.3,661.2 L212.3,659.1 L213.2,657.4 L214.2,655.9 L215.1,654.7 L216.1,653.6 L217.0,652.7 L218.0,651.8 L218.9,651.1 L219.9,650.4 L220.8,649.9 L221.8,649.5 L222.7,649.3 L223.7,649.2 L224.6,649.4 L225.6,649.8 L226.5,650.5 L227.5,651.4 L228.4,652.5 L229.4,653.8 L230.3,655.3 L231.3,656.9 L232.2,658.6 L233.2,660.5 L234.1,662.5 L235.1,664.6 L236.0,666.8 L237.0,669.1 L237.9,671.5 L238.9,674.0 L239.8,676.6 L240.8,679.2 L241.7,681.9 L242.7,684.8 L243.6,687.7 L244.6,690.7 L245.5,693.9 L246.5,697.2 L247.4,700.7 L248.4,704.2 L249.3,707.9 L250.3,711.6 L251.2,715.3 L252.2,719.0 L253.1,722.6 L254.1,726.1 L255.0,729.5 L256.0,732.9 L256.9,736.1 L257.9,739.3 L258.8,742.5 L259.8,745.6 L260.7,748.7 L261.7,751.7 L262.6,754.8 L263.6,757.8 L264.5,760.7 L265.5,763.7 L266.4,766.6 L267.4,769.4 L268.3,772.3 L269.3,775.1 L270.2,777.9 L271.2,780.7 L272.1,783.5 L273.1,786.2 L274.0,789.0 L275.0,791.8 L275.9,794.5 L276.9,797.3 L277.8,800.0 L278.8,802.8 L279.7,805.6 L280.7,808.3 L281.6,811.1 L282.6,813.8 L283.5,816.6 L284.5,819.3 L285.4,822.0 L286.4,824.8 L287.3,827.5 L288.3,830.3 L289.2,833.0 L290.2,835.7 L291.1,838.5 L292.1,841.2 L293.0,844.0 L294.0,846.8 L294.9,849.5 L295.9,852.3 L296.8,855.1 L297.8,857.9 L298.7,860.6 L299.7,863.4 L300.6,866.1 L301.6,868.8 L302.5,871.5 L303.5,874.2 L304.5,876.9 L305.4,879.5 L306.4,882.1 L307.3,884.7 L308.3,887.3 L309.2,889.8 L310.2,892.3 L311.1,894.8 L312.1,897.3 L313.0,899.8 L314.0,902.3 L314.9,904.7 L315.9,907.1 L316.8,909.4 L317.8,911.7 L318.7,913.9 L319.7,916.1 L320.6,918.2 L321.6,920.2 L322.5,922.3 L323.5,924.2 L324.4,926.2 L325.4,928.0 L326.3,929.9 L327.3,931.7 L328.2,933.5 L329.2,935.2 L330.1,936.9 L331.1,938.5 L332.0,940.1 L333.0,941.7 L333.9,943.2 L334.9,944.6 L335.8,946.0 L336.8,947.4 L337.7,948.7 L338.7,949.9 L339.6,951.2 L340.6,952.4 L341.5,953.6 L342.5,954.9 L343.4,956.2 L344.4,957.5 L345.3,958.8 L346.3,960.1 L347.2,961.4 L348.2,962.8 L349.1,964.1 L350.1,965.3 L351.0,966.6 L352.0,967.8 L352.9,969.0 L353.9,970.2 L354.8,971.3 L355.8,972.4 L356.7,973.4 L357.7,974.5 L358.6,975.5 L359.6,976.5 L360.5,977.5 L361.5,978.5 L362.4,979.5 L363.4,980.4 L364.3,981.4 L365.3,982.3 L366.2,983.2 L367.2,984.1 L368.1,984.9 L369.1,985.7 L370.0,986.6 L371.0,987.4 L371.9,988.1 L372.9,988.9 L373.8,989.7 L374.8,990.4 L375.7,991.1 L376.7,991.8 L377.6,992.5 L378.6,993.2 L379.5,993.8 L380.5,994.5 L381.4,995.1 L382.4,995.7 L383.3,996.3 L384.3,996.9 L385.2,997.5 L386.2,998.0 L387.1,998.6 L388.1,999.1 L389.0,999.7 L390.0,1000.2 L390.9,1000.8 L391.9,1001.3 L392.8,1001.8 L393.8,1002.2 L394.7,1002.7 L395.7,1003.1 L396.6,1003.6 L397.6,1004.0 L398.5,1004.3 L399.5,1004.7 L400.4,1005.0 L401.4,1005.3 L402.3,1005.7 L403.3,1006.0 L404.2,1006.2 L405.2,1006.5 L406.1,1006.8 L407.1,1007.1 L408.0,1007.3 L409.0,1007.6 L409.9,1007.8 L410.9,1008.1 L411.8,1008.3 L412.8,1008.5 L413.7,1008.8 L414.7,1009.0 L415.6,1009.2 L416.6,1009.4 L417.5,1009.7 L418.5,1009.9 L419.4,1010.1 L420.4,1010.3 L421.3,1010.5 L422.3,1010.7 L423.2,1010.9 L424.2,1011.2 L425.1,1011.4 L426.1,1011.6 L427.0,1011.8 L428.0,1012.0 L428.9,1012.3 L429.9,1012.5 L430.8,1012.7 L431.8,1013.0 L432.7,1013.2 L433.7,1013.5 L434.6,1013.7 L435.6,1013.9 L436.5,1014.2 L437.5,1014.4 L438.4,1014.7 L439.4,1014.9 L440.4,1015.2 L441.3,1015.4 L442.3,1015.6 L443.2,1015.9 L444.2,1016.1 L445.1,1016.4 L446.1,1016.6 L447.0,1016.9 L448.0,1017.1 L448.9,1017.3 L449.9,1017.6 L450.8,1017.8 L451.8,1018.1 L452.7,1018.3 L453.7,1018.5 L454.6,1018.8 L455.6,1019.0 L456.5,1019.2 L457.5,1019.5 L458.4,1019.7 L459.4,1019.9 L460.3,1020.1 L461.3,1020.4 L462.2,1020.6 L463.2,1020.8 L464.1,1021.0 L465.1,1021.2 L466.0,1021.4 L467.0,1021.6 L467.9,1021.8 L468.9,1022.1 L469.8,1022.3 L470.8,1022.5 L471.7,1022.7 L472.7,1022.9 L473.6,1023.1 L474.6,1023.3 L475.5,1023.5 L476.5,1023.7 L477.4,1023.9 L478.4,1024.1 L479.3,1024.3 L480.3,1024.5 L481.2,1024.7 L482.2,1024.9 L483.1,1025.1 L484.1,1025.3 L485.0,1025.5 L486.0,1025.7 L486.9,1025.9 L487.9,1026.1 L488.8,1026.2 L489.8,1026.4 L490.7,1026.6 L491.7,1026.8 L492.6,1027.0 L493.6,1027.2 L494.5,1027.4 L495.5,1027.5 L496.4,1027.7 L497.4,1027.9 L498.3,1028.1 L499.3,1028.3 L500.2,1028.4 L501.2,1028.6 L502.1,1028.8 L503.1,1029.0 L504.0,1029.1 L505.0,1029.3 L505.9,1029.5 L506.9,1029.7 L507.8,1029.8 L508.8,1030.0 L509.7,1030.1 L510.7,1030.3 L511.6,1030.5" stroke="#169b9b"/>
<path d="M87.2,1048.1 L88.2,1048.1 L89.1,1048.0 L90.1,1048.0 L91.0,1048.0 L92.0,1047.9 L92.9,1047.9 L93.9,1047.8 L94.8,1047.7 L95.8,1047.7 L96.7,1047.6 L97.7,1047.5 L98.6,1047.5 L99.6,1047.4 L100.5,1047.3 L101.5,1047.2 L102.4,1047.1 L103.4,1047.0 L104.3,1046.9 L105.3,1046.8 L106.2,1046.7 L107.2,1046.6 L108.1,1046.5 L109.1,1046.4 L110.0,1046.3 L111.0,1046.2 L111.9,1046.1 L112.9,1046.0 L113.8,1045.9 L114.8,1045.8 L115.7,1045.6 L116.7,1045.5 L117.6,1045.4 L118.6,1045.3 L119.5,1045.2 L120.5,1045.1 L121.4,1045.0 L122.4,1044.8 L123.3,1044.7 L124.3,1044.6 L125.2,1044.4 L126.2,1044.2 L127.1,1044.0 L128.1,1043.8 L129.0,1043.6 L130.0,1043.3 L130.9,1043.0 L131.9,1042.6 L132.8,1042.1 L133.8,1041.5 L134.7,1040.6 L135.7,1039.5 L136.6,1038.0 L137.6,1036.1 L138.5,1033.9 L139.5,1031.2 L140.4,1027.9 L141.4,1024.1 L142.3,1019.6 L143.3,1014.6 L144.2,1009.3 L145.2,1003.7 L146.1,998.2 L147.1,992.9 L148.0,988.1 L149.0,983.9 L149.9,980.5 L150.9,977.7 L151.8,975.7 L152.8,974.1 L153.7,972.9 L154.7,971.8 L155.6,970.8 L156.6,969.7 L157.5,968.4 L158.5,966.9 L159.4,965.3 L160.4,963.4 L161.3,961.2 L162.3,958.8 L163.2,956.0 L164.2,952.7 L165.1,948.8 L166.1,944.0 L167.0,938.2 L168.0,931.2 L168.9,922.9 L169.9,913.1 L170.8,901.9 L171.8,889.4 L172.7,875.9 L173.7,861.6 L174.6,847.1 L175.6,833.0 L176.5,819.6 L177.5,807.2 L178.4,796.0 L179.4,785.9 L180.3,776.8 L181.3,768.9 L182.2,761.9 L183.2,755.8 L184.1,750.6 L185.1,746.2 L186.0,742.5 L187.0,739.6 L187.9,737.3 L188.9,735.8 L189.8,735.1 L190.8,735.0 L191.7,735.6 L192.7,736.7 L193.6,738.2 L194.6,739.9 L195.5,741.7 L196.5,743.4 L197.4,744.9 L198.4,746.0 L199.3,746.6 L200.3,746.7 L201.2,746.3 L202.2,745.3 L203.1,743.7 L204.1,741.5 L205.0,738.6 L206.0,735.1 L206.9,730.9 L207.9,726.2 L208.8,721.2 L209.8,715.9 L210.7,710.4 L211.7,704.8 L212.6,699.0 L213.6,693.2 L214.5,687.3 L215.5,681.5 L216.4,675.9 L217.4,670.5 L218.3,665.5 L219.3,661.0 L220.2,657.3 L221.2,654.5 L222.1,652.5 L223.1,651.5 L224.1,651.3 L225.0,651.8 L226.0,653.0 L226.9,654.8 L227.9,657.2 L228.8,660.1 L229.8,663.5 L230.7,667.2 L231.7,671.2 L232.6,675.3 L233.6,679.5 L234.5,683.8 L235.5,688.1 L236.4,692.5 L237.4,696.8 L238.3,701.2 L239.3,705.7 L240.2,710.1 L241.2,714.7 L242.1,719.3 L243.1,723.9 L244.0,728.5 L245.0,733.1 L245.9,737.5 L246.9,741.6 L247.8,745.5 L248.8,749.1 L249.7,752.5 L250.7,755.7 L251.6,758.6 L252.6,761.4 L253.5,764.0 L254.5,766.5 L255.4,768.9 L256.4,771.2 L257.3,773.4 L258.3,775.6 L259.2,777.8 L260.2,779.9 L261.1,781.9 L262.1,784.0 L263.0,786.1 L264.0,788.1 L264.9,790.2 L265.9,792.3 L266.8,794.6 L267.8,796.9 L268.7,799.4 L269.7,802.1 L270.6,804.8 L271.6,807.8 L272.5,810.8 L273.5,814.0 L274.4,817.2 L275.4,820.6 L276.3,824.0 L277.3,827.4 L278.2,830.8 L279.2,834.3 L280.1,837.9 L281.1,841.5 L282.0,845.1 L283.0,848.8 L283.9,852.5 L284.9,856.2 L285.8,860.0 L286.8,863.7 L287.7,867.4 L288.7,871.0 L289.6,874.6 L290.6,878.1 L291.5,881.6 L292.5,884.9 L293.4,888.2 L294.4,891.5 L295.3,894.7 L296.3,897.8 L297.2,900.8 L298.2,903.8 L299.1,906.6 L300.1,909.4 L301.0,912.1 L302.0,914.6 L302.9,917.1 L303.9,919.6 L304.8,922.0 L305.8,924.3 L306.7,926.6 L307.7,928.9 L308.6,931.2 L309.6,933.4 L310.5,935.7 L311.5,937.8 L312.4,940.0 L313.4,942.0 L314.3,944.0 L315.3,945.8 L316.2,947.5 L317.2,949.1 L318.1,950.7 L319.1,952.2 L320.0,953.6 L321.0,955.1 L321.9,956.5 L322.9,958.0 L323.8,959.4 L324.8,961.0 L325.7,962.5 L326.7,964.1 L327.6,965.8 L328.6,967.4 L329.5,969.1 L330.5,970.8 L331.4,972.5 L332.4,974.2 L333.3,975.8 L334.3,977.6 L335.2,979.8" stroke="#a4692e"/>
<path d="M87.2,1042.1 L88.2,1041.4 L89.1,1040.8 L90.1,1040.1 L91.0,1039.5 L92.0,1038.8 L92.9,1038.1 L93.9,1037.4 L94.8,1036.6 L95.8,1035.8 L96.7,1034.9 L97.7,1034.0 L98.6,1033.1 L99.6,1032.2 L100.5,1031.2 L101.5,1030.1 L102.4,1029.0 L103.4,1027.9 L104.3,1026.8 L105.3,1025.6 L106.2,1024.4 L107.2,1023.2 L108.1,1022.0 L109.1,1020.8 L110.0,1019.6 L111.0,1018.5 L111.9,1017.3 L112.9,1016.2 L113.8,1015.1 L114.8,1013.9 L115.7,1012.8 L116.7,1011.7 L117.6,1010.6 L118.6,1009.5 L119.5,1008.4 L120.5,1007.3 L121.4,1006.2 L122.4,1005.1 L123.3,1004.1 L124.3,1003.0 L125.2,1002.0 L126.2,1000.9 L127.1,999.9 L128.1,998.9 L129.0,997.9 L130.0,997.0 L130.9,996.1 L131.9,995.1 L132.8,994.2 L133.8,993.3 L134.7,992.4 L135.7,991.5 L136.6,990.6 L137.6,989.7 L138.5,988.8 L139.5,987.9 L140.4,986.9 L141.4,986.0 L142.3,985.0 L143.3,983.9 L144.2,982.9 L145.2,981.8 L146.1,980.7 L147.1,979.6 L148.0,978.4 L149.0,977.2 L149.9,976.0 L150.9,974.7 L151.8,973.4 L152.8,972.0 L153.7,970.6 L154.7,969.1 L155.6,967.5 L156.6,965.9 L157.5,964.2 L158.5,962.3 L159.4,960.4 L160.4,958.4 L161.3,956.2 L162.3,953.9 L163.2,951.5 L164.2,948.9 L165.1,946.2 L166.1,943.3 L167.0,940.3 L168.0,937.1 L168.9,933.9 L169.9,930.5 L170.8,927.1 L171.8,923.6 L172.7,920.1 L173.7,916.4 L174.6,912.6 L175.6,908.7 L176.5,904.7 L177.5,900.4 L178.4,895.9 L179.4,891.2 L180.3,886.3 L181.3,881.1 L182.2,875.6 L183.2,869.9 L184.1,863.9 L185.1,857.5 L186.0,850.8 L187.0,843.7 L187.9,836.0 L188.9,827.9 L189.8,819.3 L190.8,810.3 L191.7,801.0 L192.7,791.6 L193.6,782.2 L194.6,772.9 L195.5,763.7 L196.5,754.8 L197.4,746.1 L198.4,737.7 L199.3,729.7 L200.3,722.1 L201.2,714.9 L202.2,708.1 L203.1,701.8 L204.1,695.9 L205.0,690.4 L206.0,685.5 L206.9,680.9 L207.9,676.8 L208.8,673.0 L209.8,669.5 L210.7,666.4 L211.7,663.6 L212.6,661.2 L213.6,659.1 L214.5,657.4 L215.5,655.9 L216.4,654.7 L217.4,653.6 L218.3,652.7 L219.3,651.8 L220.2,651.1 L221.2,650.4 L222.1,649.9 L223.1,649.5 L224.1,649.3 L225.0,649.2 L226.0,649.4 L226.9,649.8 L227.9,650.5 L228.8,651.4 L229.8,652.5 L230.7,653.8 L231.7,655.3 L232.6,656.9 L233.6,658.6 L234.5,660.5 L235.5,662.5 L236.4,664.6 L237.4,666.8 L238.3,669.1 L239.3,671.5 L240.2,674.0 L241.2,676.6 L242.1,679.2 L243.1,681.9 L244.0,684.8 L245.0,687.7 L245.9,690.7 L246.9,693.9 L247.8,697.2 L248.8,700.7 L249.7,704.2 L250.7,707.9 L251.6,711.6 L252.6,715.3 L253.5,719.0 L254.5,722.6 L255.4,726.1 L256.4,729.5 L257.3,732.9 L258.3,736.1 L259.2,739.3 L260.2,742.5 L261.1,745.6 L262.1,748.7 L263.0,751.7 L264.0,754.8 L264.9,757.8 L265.9,760.7 L266.8,763.7 L267.8,766.6 L268.7,769.4 L269.7,772.3 L270.6,775.1 L271.6,777.9 L272.5,780.7 L273.5,783.5 L274.4,786.2 L275.4,789.0 L276.3,791.8 L277.3,794.5 L278.2,797.3 L279.2,800.0 L280.1,802.8 L281.1,805.6 L282.0,808.3 L283.0,811.1 L283.9,813.8 L284.9,816.6 L285.8,819.3 L286.8,822.0 L287.7,824.8 L288.7,827.5 L289.6,830.3 L290.6,833.0 L291.5,835.7 L292.5,838.5 L293.4,841.2 L294.4,844.0 L295.3,846.8 L296.3,849.5 L297.2,852.3 L298.2,855.1 L299.1,857.9 L300.1,860.6 L301.0,863.4 L302.0,866.1 L302.9,868.8 L303.9,871.5 L304.8,874.2 L305.8,876.9 L306.7,879.5 L307.7,882.1 L308.6,884.7 L309.6,887.3 L310.5,889.8 L311.5,892.3 L312.4,894.8 L313.4,897.3 L314.3,899.8 L315.3,902.3 L316.2,904.7 L317.2,907.1 L318.1,909.4 L319.1,911.7 L320.0,913.9 L321.0,916.1 L321.9,918.2 L322.9,920.2 L323.8,922.3 L324.8,924.2 L325.7,926.2 L326.7,928.0 L327.6,929.9 L328.6,931.7 L329.5,933.5 L330.5,935.2 L331.4,936.9 L332.4,938.5 L333.3,940.1 L334.3,941.7 L335.2,943.2 L336.2,944.6 L337.1,946.0 L338.1,947.4 L339.0,948.7 L340.0,949.9 L340.9,951.2 L341.9,952.4 L342.8,953.6 L343.8,954.9 L344.7,956.2 L345.7,957.5 L346.6,958.8 L347.6,960.1 L348.5,961.4 L349.5,962.8 L350.4,964.1 L351.4,965.3 L352.3,966.6 L353.3,967.8 L354.2,969.0 L355.2,970.2 L356.1,971.3 L357.1,972.4 L358.0,973.4 L359.0,974.5 L360.0,975.5 L360.9,976.5 L361.9,977.5 L362.8,978.5 L363.8,979.5 L364.7,980.4 L365.7,981.4 L366.6,982.3 L367.6,983.2 L368.5,984.1 L369.5,984.9 L370.4,985.7 L371.4,986.6 L372.3,987.4 L373.3,988.1 L374.2,988.9 L375.2,989.7 L376.1,990.4 L377.1,991.1 L378.0,991.8 L379.0,992.5 L379.9,993.2 L380.9,993.8 L381.8,994.5 L382.8,995.1 L383.7,995.7 L384.7,996.3 L385.6,996.9 L386.6,997.5 L387.5,998.0 L388.5,998.6 L389.4,999.1 L390.4,999.7 L391.3,1000.2 L392.3,1000.8 L393.2,1001.3 L394.2,1001.8 L395.1,1002.2 L396.1,1002.7 L397.0,1003.1 L398.0,1003.6 L398.9,1004.0 L399.9,1004.3 L400.8,1004.7 L401.8,1005.0 L402.7,1005.3 L403.7,1005.7 L404.6,1006.0 L405.6,1006.2 L406.5,1006.5 L407.5,1006.8 L408.4,1007.1 L409.4,1007.3 L410.3,1007.6 L411.3,1007.8 L412.2,1008.1 L413.2,1008.3 L414.1,1008.5 L415.1,1008.8 L416.0,1009.0 L417.0,1009.2 L417.9,1009.4 L418.9,1009.7 L419.8,1009.9 L420.8,1010.1 L421.7,1010.3 L422.7,1010.5 L423.6,1010.7 L424.6,1010.9 L425.5,1011.2 L426.5,1011.4 L427.4,1011.6 L428.4,1011.8 L429.3,1012.0 L430.3,1012.3 L431.2,1012.5 L432.2,1012.7 L433.1,1013.0 L434.1,1013.2 L435.0,1013.5 L436.0,1013.7 L436.9,1013.9 L437.9,1014.2 L438.8,1014.4 L439.8,1014.7 L440.7,1014.9 L441.7,1015.2 L442.6,1015.4 L443.6,1015.6 L444.5,1015.9 L445.5,1016.1 L446.4,1016.4 L447.4,1016.6 L448.3,1016.9 L449.3,1017.1 L450.2,1017.3 L451.2,1017.6 L452.1,1017.8 L453.1,1018.1 L454.0,1018.3 L455.0,1018.5 L455.9,1018.8 L456.9,1019.0 L457.8,1019.2 L458.8,1019.5 L459.7,1019.7 L460.7,1019.9 L461.6,1020.1 L462.6,1020.4 L463.5,1020.6 L464.5,1020.8 L465.4,1021.0 L466.4,1021.2 L467.3,1021.4 L468.3,1021.6 L469.2,1021.8 L470.2,1022.1 L471.1,1022.3 L472.1,1022.5 L473.0,1022.7 L474.0,1022.9 L474.9,1023.1 L475.9,1023.3 L476.8,1023.5 L477.8,1023.7 L478.7,1023.9 L479.7,1024.1 L480.6,1024.3 L481.6,1024.5 L482.5,1024.7 L483.5,1024.9 L484.4,1025.1 L485.4,1025.3 L486.3,1025.5 L487.3,1025.7 L488.2,1025.9 L489.2,1026.1 L490.1,1026.2 L491.1,1026.4 L492.0,1026.6 L493.0,1026.8 L493.9,1027.0 L494.9,1027.2 L495.9,1027.4 L496.8,1027.5 L497.8,1027.7 L498.7,1027.9 L499.7,1028.1 L500.6,1028.3 L501.6,1028.4 L502.5,1028.6 L503.5,1028.8 L504.4,1029.0 L505.4,1029.1 L506.3,1029.3 L507.3,1029.5 L508.2,1029.7 L509.2,1029.8 L510.1,1030.0 L511.1,1030.1 L512.0,1030.3 L513.0,1030.5" stroke="#14c43e"/>
<path d="M87.2,1044.1 L88.2,1043.9 L89.1,1043.8 L90.1,1043.6 L91.0,1043.4 L92.0,1043.1 L92.9,1042.9 L93.9,1042.6 L94.8,1042.3 L95.8,1042.0 L96.7,1041.6 L97.7,1041.2 L98.6,1040.8 L99.6,1040.4 L100.5,1039.9 L101.5,1039.3 L102.4,1038.8 L103.4,1038.2 L104.3,1037.5 L105.3,1036.8 L106.2,1036.0 L107.2,1035.1 L108.1,1034.1 L109.1,1033.0 L110.0,1031.7 L111.0,1030.4 L111.9,1029.1 L112.9,1027.7 L113.8,1026.3 L114.8,1025.1 L115.7,1023.9 L116.7,1022.8 L117.6,1021.9 L118.6,1021.0 L119.5,1020.2 L120.5,1019.5 L121.4,1018.8 L122.4,1018.2 L123.3,1017.6 L124.3,1017.0 L125.2,1016.4 L126.2,1015.8 L127.1,1015.3 L128.1,1014.7 L129.0,1014.2 L130.0,1013.7 L130.9,1013.1 L131.9,1012.6 L132.8,1012.1 L133.8,1011.5 L134.7,1011.0 L135.7,1010.5 L136.6,1010.0 L137.6,1009.5 L138.5,1009.0 L139.5,1008.5 L140.4,1008.0 L141.4,1007.5 L142.3,1007.1 L143.3,1006.6 L144.2,1006.2 L145.2,1005.7 L146.1,1005.3 L147.1,1004.8 L148.0,1004.4 L149.0,1004.0 L149.9,1003.6 L150.9,1003.2 L151.8,1002.8 L152.8,1002.5 L153.7,1002.1 L154.7,1001.7 L155.6,1001.4 L156.6,1001.0 L157.5,1000.6 L158.5,1000.3 L159.4,999.9 L160.4,999.5 L161.3,999.1 L162.3,998.7 L163.2,998.3 L164.2,997.9 L165.1,997.5 L166.1,997.1 L167.0,996.7 L168.0,996.2 L168.9,995.8 L169.9,995.3 L170.8,994.8 L171.8,994.3 L172.7,993.6 L173.7,992.9 L174.6,992.2 L175.6,991.3 L176.5,990.4 L177.5,989.3 L178.4,988.2 L179.4,986.9 L180.3,985.5 L181.3,984.0 L182.2,982.4 L183.2,980.6 L184.1,978.5 L185.1,976.3 L186.0,973.8 L187.0,971.2 L187.9,968.3 L188.9,965.3 L189.8,962.2 L190.8,959.0 L191.7,955.8 L192.7,952.4 L193.6,949.0 L194.6,945.5 L195.5,941.6 L196.5,937.2 L197.4,932.1 L198.4,926.2 L199.3,919.4 L200.3,911.7 L201.2,903.4 L202.2,894.5 L203.1,885.4 L204.1,876.1 L205.0,866.7 L206.0,857.3 L206.9,847.8 L207.9,838.2 L208.8,828.5 L209.8,818.7 L210.7,808.7 L211.7,798.6 L212.6,788.3 L213.6,778.0 L214.5,767.7 L215.5,757.7 L216.4,748.1 L217.4,739.3 L218.3,731.2 L219.3,723.8 L220.2,717.1 L221.2,710.9 L222.1,705.0 L223.1,699.5 L224.1,694.1 L225.0,688.9 L226.0,683.8 L226.9,678.8 L227.9,674.1 L228.8,669.6 L229.8,665.5 L230.7,661.9 L231.7,658.8 L232.6,656.1 L233.6,653.9 L234.5,652.2 L235.5,650.8 L236.4,649.9 L237.4,649.4 L238.3,649.2 L239.3,649.3 L240.2,649.8 L241.2,650.5 L242.1,651.4 L243.1,652.4 L244.0,653.6 L245.0,654.9 L245.9,656.4 L246.9,658.1 L247.8,659.9 L248.8,661.9 L249.7,664.1 L250.7,666.5 L251.6,669.0 L252.6,671.5 L253.5,674.1 L254.5,676.8 L255.4,679.5 L256.4,682.4 L257.3,685.6 L258.3,689.1 L259.2,693.1 L260.2,697.6 L261.1,702.4 L262.1,707.4 L263.0,712.3 L264.0,716.9 L264.9,721.2 L265.9,725.0 L266.8,728.5 L267.8,731.9 L268.7,735.2 L269.7,738.4 L270.6,741.8 L271.6,745.2 L272.5,748.6 L273.5,752.2 L274.4,755.9 L275.4,759.8 L276.3,763.8 L277.3,768.0 L278.2,772.4 L279.2,776.9 L280.1,781.6 L281.1,786.2 L282.0,790.7 L283.0,795.1 L283.9,799.2 L284.9,803.1 L285.8,806.8 L286.8,810.3 L287.7,813.7 L288.7,817.0 L289.6,820.3 L290.6,823.5 L291.5,826.7 L292.5,830.0 L293.4,833.4 L294.4,836.8 L295.3,840.4 L296.3,844.0 L297.2,847.7 L298.2,851.5 L299.1,855.3 L300.1,859.1 L301.0,862.8 L302.0,866.5 L302.9,870.1 L303.9,873.6 L304.8,877.0 L305.8,880.2 L306.7,883.3 L307.7,886.2 L308.6,889.1 L309.6,891.9 L310.5,894.6 L311.5,897.3 L312.4,899.9 L313.4,902.4 L314.3,904.9 L315.3,907.3 L316.2,909.7 L317.2,912.0 L318.1,914.3 L319.1,916.5 L320.0,918.7 L321.0,920.8 L321.9,922.9 L322.9,925.0 L323.8,927.0 L324.8,929.0 L325.7,931.0 L326.7,932.9 L327.6,934.8 L328.6,936.7 L329.5,938.5 L330.5,940.3 L331.4,942.1 L332.4,943.9 L333.3,945.7 L334.3,947.5 L335.2,949.2 L336.2,951.0 L337.1,952.7 L338.1,954.3 L339.0,956.0 L340.0,957.5 L340.9,959.1 L341.9,960.6 L342.8,962.0 L343.8,963.4 L344.7,964.7 L345.7,966.0 L346.6,967.3 L347.6,968.6 L348.5,969.9 L349.5,971.2 L350.4,972.4 L351.4,973.8 L352.3,975.1 L353.3,976.5 L354.2,977.8 L355.2,979.2 L356.1,980.6 L357.1,982.0 L358.0,983.4 L359.0,984.8 L360.0,986.1 L360.9,987.5 L361.9,988.8 L362.8,990.0 L363.8,991.2 L364.7,992.4 L365.7,993.5 L366.6,994.5 L367.6,995.6 L368.5,996.6 L369.5,997.6 L370.4,998.5 L371.4,999.5 L372.3,1000.4 L373.3,1001.3 L374.2,1002.1 L375.2,1002.9 L376.1,1003.7 L377.1,1004.5 L378.0,1005.2 L379.0,1005.8 L379.9,1006.5 L380.9,1007.1 L381.8,1007.6 L382.8,1008.2 L383.7,1008.7 L384.7,1009.2 L385.6,1009.6 L386.6,1010.1 L387.5,1010.5 L388.5,1010.9 L389.4,1011.3 L390.4,1011.7 L391.3,1012.1 L392.3,1012.5 L393.2,1012.9 L394.2,1013.3 L395.1,1013.6 L396.1,1014.0 L397.0,1014.4 L398.0,1014.8 L398.9,1015.2 L399.9,1015.6 L400.8,1016.0 L401.8,1016.4 L402.7,1016.8 L403.7,1017.2 L404.6,1017.6 L405.6,1018.0 L406.5,1018.4 L407.5,1018.8 L408.4,1019.3 L409.4,1019.7 L410.3,1020.1 L411.3,1020.5 L412.2,1020.9 L413.2,1021.3 L414.1,1021.7 L415.1,1022.1 L416.0,1022.5 L417.0,1022.9 L417.9,1023.3 L418.9,1023.7 L419.8,1024.1 L420.8,1024.5 L421.7,1024.9 L422.7,1025.2 L423.6,1025.6 L424.6,1026.0 L425.5,1026.3 L426.5,1026.7 L427.4,1027.0 L428.4,1027.4 L429.3,1027.7 L430.3,1028.0 L431.2,1028.3 L432.2,1028.7 L433.1,1029.0 L434.1,1029.3 L435.0,1029.6 L436.0,1029.9 L436.9,1030.2 L437.9,1030.5 L438.8,1030.8 L439.8,1031.1 L440.7,1031.4 L441.7,1031.7 L442.6,1031.9 L443.6,1032.2 L444.5,1032.5 L445.5,1032.8 L446.4,1033.1 L447.4,1033.3 L448.3,1033.6 L449.3,1033.9 L450.2,1034.1 L451.2,1034.4 L452.1,1034.6 L453.1,1034.9 L454.0,1035.1 L455.0,1035.3 L455.9,1035.5 L456.9,1035.8 L457.8,1036.0 L458.8,1036.2 L459.7,1036.4 L460.7,1036.5 L461.6,1036.7 L462.6,1036.9 L463.5,1037.0 L464.5,1037.2 L465.4,1037.4 L466.4,1037.5 L467.3,1037.6 L468.3,1037.8 L469.2,1037.9 L470.2,1038.1 L471.1,1038.2 L472.1,1038.3 L473.0,1038.5 L474.0,1038.6 L474.9,1038.8 L475.9,1038.9 L476.8,1039.0 L477.8,1039.2 L478.7,1039.3 L479.7,1039.4 L480.6,1039.5 L481.6,1039.7 L482.5,1039.8 L483.5,1039.9 L484.4,1040.0 L485.4,1040.1 L486.3,1040.3 L487.3,1040.4 L488.2,1040.5 L489.2,1040.6 L490.1,1040.7 L491.1,1040.8 L492.0,1040.9 L493.0,1041.0 L493.9,1041.1 L494.9,1041.2 L495.9,1041.2 L496.8,1041.3 L497.8,1041.4 L498.7,1041.5 L499.7,1041.6 L500.6,1041.6 L501.6,1041.7 L502.5,1041.7 L503.5,1041.8 L504.4,1041.8 L505.4,1041.9 L506.3,1041.9 L507.3,1042.0 L508.2,1042.0 L509.2,1042.0 L510.1,1042.0 L511.1,1042.1 L512.0,1042.1 L513.0,1042.1" stroke="#c42a86"/></g>
<rect x="382.8" y="638.5" width="177.1" height="304.3" class="lg"/>
<path d="M389.6,649.9 H427" stroke="#000000" class="ll"/>
<text class="lt2" x="430.1" y="655.3">Hexane</text>
<path d="M389.6,670.2 H427" stroke="#ff0000" class="ll"/>
<text class="lt2" x="430.1" y="675.6">Pentane</text>
<path d="M389.6,690.5 H427" stroke="#0000ff" class="ll"/>
<text class="lt2" x="430.1" y="695.9">Heptane</text>
<path d="M389.6,710.9 H427" stroke="#ff00ff" class="ll"/>
<text class="lt2" x="430.1" y="716.3">Cyclohexane</text>
<path d="M389.6,731.2 H427" stroke="#008000" class="ll"/>
<text class="lt2" x="430.1" y="736.6">Diethyl ether</text>
<path d="M389.6,751.5 H427" stroke="#000080" class="ll"/>
<text class="lt2" x="430.1" y="756.9">Ethyl acetate</text>
<path d="M389.6,771.8 H427" stroke="#8000ff" class="ll"/>
<text class="lt2" x="430.1" y="777.2">THF</text>
<path d="M389.6,792.1 H427" stroke="#800080" class="ll"/>
<text class="lt2" x="430.1" y="797.5">Dichloromethane</text>
<path d="M389.6,812.5 H427" stroke="#800000" class="ll"/>
<text class="lt2" x="430.1" y="817.9">Isopropanol</text>
<path d="M389.6,832.8 H427" stroke="#808000" class="ll"/>
<text class="lt2" x="430.1" y="838.2">Acetone</text>
<path d="M389.6,853.1 H427" stroke="#3a6eb5" class="ll"/>
<text class="lt2" x="430.1" y="858.5">Ethanol</text>
<path d="M389.6,873.4 H427" stroke="#169b9b" class="ll"/>
<text class="lt2" x="430.1" y="878.8">Methanol</text>
<path d="M389.6,893.7 H427" stroke="#a4692e" class="ll"/>
<text class="lt2" x="430.1" y="899.1">Acetonitrile</text>
<path d="M389.6,914.1 H427" stroke="#14c43e" class="ll"/>
<text class="lt2" x="430.1" y="919.5">DMF</text>
<path d="M389.6,934.4 H427" stroke="#c42a86" class="ll"/>
<text class="lt2" x="430.1" y="939.8">DMSO</text>
</g>
</svg>
</body></html>
